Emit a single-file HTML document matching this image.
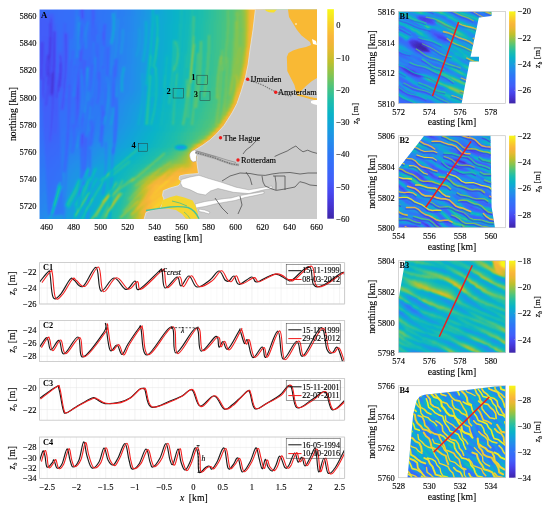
<!DOCTYPE html>
<html><head><meta charset="utf-8"><style>
html,body{margin:0;padding:0;background:#fff;}
svg{display:block;font-family:'Liberation Serif', 'DejaVu Serif', serif;}
text{stroke:#000;stroke-width:0.12px;}
text[font-weight=bold]{stroke:none;}
</style></head><body>
<svg width="550" height="508" viewBox="0 0 550 508">
<defs>
<filter id="par" x="0" y="0" width="1" height="1" color-interpolation-filters="sRGB">
<feComponentTransfer><feFuncR type="table" tableValues="0.243 0.259 0.275 0.278 0.282 0.271 0.259 0.237 0.216 0.196 0.176 0.157 0.137 0.108 0.079 0.059 0.039 0.079 0.119 0.207 0.294 0.411 0.528 0.640 0.753 0.832 0.911 0.956 0.980 0.980 0.977 0.969 0.976"/><feFuncG type="table" tableValues="0.149 0.177 0.205 0.243 0.282 0.327 0.372 0.398 0.424 0.451 0.479 0.518 0.557 0.596 0.635 0.670 0.706 0.726 0.745 0.757 0.769 0.769 0.769 0.761 0.753 0.741 0.729 0.709 0.725 0.782 0.843 0.910 0.973"/><feFuncB type="table" tableValues="0.659 0.742 0.824 0.883 0.941 0.961 0.980 0.980 0.980 0.971 0.960 0.941 0.922 0.892 0.863 0.824 0.784 0.729 0.673 0.588 0.502 0.409 0.315 0.246 0.176 0.186 0.197 0.227 0.225 0.187 0.156 0.132 0.086"/></feComponentTransfer></filter>
<filter id="parb" x="0" y="0" width="1" height="1" color-interpolation-filters="sRGB">
<feGaussianBlur stdDeviation="1.2"/>
<feComponentTransfer><feFuncR type="table" tableValues="0.243 0.259 0.275 0.278 0.282 0.271 0.259 0.237 0.216 0.196 0.176 0.157 0.137 0.108 0.079 0.059 0.039 0.079 0.119 0.207 0.294 0.411 0.528 0.640 0.753 0.832 0.911 0.956 0.980 0.980 0.977 0.969 0.976"/><feFuncG type="table" tableValues="0.149 0.177 0.205 0.243 0.282 0.327 0.372 0.398 0.424 0.451 0.479 0.518 0.557 0.596 0.635 0.670 0.706 0.726 0.745 0.757 0.769 0.769 0.769 0.761 0.753 0.741 0.729 0.709 0.725 0.782 0.843 0.910 0.973"/><feFuncB type="table" tableValues="0.659 0.742 0.824 0.883 0.941 0.961 0.980 0.980 0.980 0.971 0.960 0.941 0.922 0.892 0.863 0.824 0.784 0.729 0.673 0.588 0.502 0.409 0.315 0.246 0.176 0.186 0.197 0.227 0.225 0.187 0.156 0.132 0.086"/></feComponentTransfer></filter>
<clipPath id="clipA"><rect x="39.5" y="9.5" width="277.5" height="209.5"/></clipPath>
<linearGradient id="ga0" gradientUnits="userSpaceOnUse" x1="38" x2="320"><stop offset=".000" stop-color="#3d3d3d"/><stop offset=".202" stop-color="#474747"/><stop offset=".319" stop-color="#575757"/><stop offset=".447" stop-color="#787878"/><stop offset=".691" stop-color="#a2a2a2"/><stop offset=".723" stop-color="#adadad"/><stop offset=".734" stop-color="#b6b6b6"/><stop offset=".745" stop-color="#c6c6c6"/><stop offset=".755" stop-color="#dadada"/><stop offset=".766" stop-color="#e0e0e0"/><stop offset=".777" stop-color="#e0e0e0"/><stop offset=".787" stop-color="#d8d8d8"/><stop offset=".798" stop-color="#c5c5c5"/><stop offset=".809" stop-color="#b6b6b6"/><stop offset=".819" stop-color="#aeaeae"/><stop offset=".840" stop-color="#a9a9a9"/><stop offset="1.000" stop-color="#a9a9a9"/></linearGradient>
<linearGradient id="ga1" gradientUnits="userSpaceOnUse" x1="38" x2="320"><stop offset=".000" stop-color="#3d3d3d"/><stop offset=".202" stop-color="#474747"/><stop offset=".319" stop-color="#575757"/><stop offset=".447" stop-color="#787878"/><stop offset=".691" stop-color="#a2a2a2"/><stop offset=".723" stop-color="#adadad"/><stop offset=".734" stop-color="#b5b5b5"/><stop offset=".745" stop-color="#c6c6c6"/><stop offset=".755" stop-color="#dbdbdb"/><stop offset=".766" stop-color="#e0e0e0"/><stop offset=".777" stop-color="#e0e0e0"/><stop offset=".787" stop-color="#d3d3d3"/><stop offset=".798" stop-color="#bfbfbf"/><stop offset=".809" stop-color="#b2b2b2"/><stop offset=".819" stop-color="#acacac"/><stop offset=".862" stop-color="#a8a8a8"/><stop offset="1.000" stop-color="#a9a9a9"/></linearGradient>
<linearGradient id="ga2" gradientUnits="userSpaceOnUse" x1="38" x2="320"><stop offset=".000" stop-color="#3d3d3d"/><stop offset=".202" stop-color="#474747"/><stop offset=".319" stop-color="#585858"/><stop offset=".447" stop-color="#787878"/><stop offset=".691" stop-color="#a2a2a2"/><stop offset=".723" stop-color="#acacac"/><stop offset=".734" stop-color="#b5b5b5"/><stop offset=".745" stop-color="#c6c6c6"/><stop offset=".755" stop-color="#dddddd"/><stop offset=".766" stop-color="#e0e0e0"/><stop offset=".777" stop-color="#e0e0e0"/><stop offset=".798" stop-color="#bababa"/><stop offset=".809" stop-color="#afafaf"/><stop offset=".830" stop-color="#aaaaaa"/><stop offset="1.000" stop-color="#a9a9a9"/></linearGradient>
<linearGradient id="ga3" gradientUnits="userSpaceOnUse" x1="38" x2="320"><stop offset=".000" stop-color="#3c3c3c"/><stop offset=".202" stop-color="#464646"/><stop offset=".319" stop-color="#585858"/><stop offset=".447" stop-color="#787878"/><stop offset=".691" stop-color="#a3a3a3"/><stop offset=".723" stop-color="#acacac"/><stop offset=".734" stop-color="#b4b4b4"/><stop offset=".745" stop-color="#c6c6c6"/><stop offset=".755" stop-color="#dfdfdf"/><stop offset=".766" stop-color="#e0e0e0"/><stop offset=".777" stop-color="#dedede"/><stop offset=".787" stop-color="#c6c6c6"/><stop offset=".798" stop-color="#b5b5b5"/><stop offset=".809" stop-color="#adadad"/><stop offset=".840" stop-color="#a9a9a9"/><stop offset="1.000" stop-color="#a9a9a9"/></linearGradient>
<linearGradient id="ga4" gradientUnits="userSpaceOnUse" x1="38" x2="320"><stop offset=".000" stop-color="#3c3c3c"/><stop offset=".191" stop-color="#454545"/><stop offset=".319" stop-color="#585858"/><stop offset=".447" stop-color="#797979"/><stop offset=".691" stop-color="#a3a3a3"/><stop offset=".723" stop-color="#acacac"/><stop offset=".734" stop-color="#b4b4b4"/><stop offset=".745" stop-color="#c7c7c7"/><stop offset=".755" stop-color="#e0e0e0"/><stop offset=".766" stop-color="#e0e0e0"/><stop offset=".777" stop-color="#d9d9d9"/><stop offset=".787" stop-color="#bfbfbf"/><stop offset=".798" stop-color="#b1b1b1"/><stop offset=".809" stop-color="#acacac"/><stop offset=".883" stop-color="#a8a8a8"/><stop offset="1.000" stop-color="#a9a9a9"/></linearGradient>
<linearGradient id="ga5" gradientUnits="userSpaceOnUse" x1="38" x2="320"><stop offset=".000" stop-color="#3c3c3c"/><stop offset=".191" stop-color="#454545"/><stop offset=".319" stop-color="#585858"/><stop offset=".447" stop-color="#797979"/><stop offset=".691" stop-color="#a3a3a3"/><stop offset=".723" stop-color="#ababab"/><stop offset=".734" stop-color="#b3b3b3"/><stop offset=".745" stop-color="#c7c7c7"/><stop offset=".755" stop-color="#e0e0e0"/><stop offset=".766" stop-color="#e0e0e0"/><stop offset=".777" stop-color="#d1d1d1"/><stop offset=".787" stop-color="#b9b9b9"/><stop offset=".798" stop-color="#aeaeae"/><stop offset=".830" stop-color="#a9a9a9"/><stop offset="1.000" stop-color="#a9a9a9"/></linearGradient>
<linearGradient id="ga6" gradientUnits="userSpaceOnUse" x1="38" x2="320"><stop offset=".000" stop-color="#3c3c3c"/><stop offset=".191" stop-color="#444444"/><stop offset=".319" stop-color="#595959"/><stop offset=".447" stop-color="#797979"/><stop offset=".691" stop-color="#a3a3a3"/><stop offset=".723" stop-color="#acacac"/><stop offset=".734" stop-color="#b3b3b3"/><stop offset=".755" stop-color="#e0e0e0"/><stop offset=".766" stop-color="#e0e0e0"/><stop offset=".777" stop-color="#c7c7c7"/><stop offset=".787" stop-color="#b3b3b3"/><stop offset=".798" stop-color="#adadad"/><stop offset=".862" stop-color="#a8a8a8"/><stop offset="1.000" stop-color="#a9a9a9"/></linearGradient>
<linearGradient id="ga7" gradientUnits="userSpaceOnUse" x1="38" x2="320"><stop offset=".000" stop-color="#3b3b3b"/><stop offset=".191" stop-color="#444444"/><stop offset=".319" stop-color="#595959"/><stop offset=".447" stop-color="#797979"/><stop offset=".691" stop-color="#a3a3a3"/><stop offset=".723" stop-color="#acacac"/><stop offset=".734" stop-color="#b3b3b3"/><stop offset=".755" stop-color="#e0e0e0"/><stop offset=".766" stop-color="#dedede"/><stop offset=".777" stop-color="#bdbdbd"/><stop offset=".787" stop-color="#afafaf"/><stop offset=".819" stop-color="#a9a9a9"/><stop offset="1.000" stop-color="#a9a9a9"/></linearGradient>
<linearGradient id="ga8" gradientUnits="userSpaceOnUse" x1="38" x2="320"><stop offset=".000" stop-color="#3b3b3b"/><stop offset=".191" stop-color="#444444"/><stop offset=".319" stop-color="#595959"/><stop offset=".447" stop-color="#7a7a7a"/><stop offset=".691" stop-color="#a4a4a4"/><stop offset=".723" stop-color="#acacac"/><stop offset=".734" stop-color="#b3b3b3"/><stop offset=".745" stop-color="#cdcdcd"/><stop offset=".755" stop-color="#e0e0e0"/><stop offset=".766" stop-color="#d2d2d2"/><stop offset=".777" stop-color="#b5b5b5"/><stop offset=".787" stop-color="#aeaeae"/><stop offset=".840" stop-color="#a8a8a8"/><stop offset="1.000" stop-color="#a9a9a9"/></linearGradient>
<linearGradient id="ga9" gradientUnits="userSpaceOnUse" x1="38" x2="320"><stop offset=".000" stop-color="#3b3b3b"/><stop offset=".191" stop-color="#444444"/><stop offset=".319" stop-color="#595959"/><stop offset=".447" stop-color="#7a7a7a"/><stop offset=".691" stop-color="#a4a4a4"/><stop offset=".723" stop-color="#adadad"/><stop offset=".734" stop-color="#b3b3b3"/><stop offset=".745" stop-color="#d1d1d1"/><stop offset=".755" stop-color="#e0e0e0"/><stop offset=".766" stop-color="#c6c6c6"/><stop offset=".777" stop-color="#b1b1b1"/><stop offset=".798" stop-color="#ababab"/><stop offset=".894" stop-color="#a8a8a8"/><stop offset="1.000" stop-color="#a9a9a9"/></linearGradient>
<linearGradient id="ga10" gradientUnits="userSpaceOnUse" x1="38" x2="320"><stop offset=".000" stop-color="#3b3b3b"/><stop offset=".191" stop-color="#434343"/><stop offset=".319" stop-color="#5a5a5a"/><stop offset=".447" stop-color="#7a7a7a"/><stop offset=".691" stop-color="#a4a4a4"/><stop offset=".723" stop-color="#adadad"/><stop offset=".734" stop-color="#b6b6b6"/><stop offset=".745" stop-color="#dadada"/><stop offset=".755" stop-color="#e0e0e0"/><stop offset=".766" stop-color="#bfbfbf"/><stop offset=".777" stop-color="#b0b0b0"/><stop offset=".819" stop-color="#a9a9a9"/><stop offset="1.000" stop-color="#a9a9a9"/></linearGradient>
<linearGradient id="ga11" gradientUnits="userSpaceOnUse" x1="38" x2="320"><stop offset=".000" stop-color="#3b3b3b"/><stop offset=".191" stop-color="#434343"/><stop offset=".319" stop-color="#5a5a5a"/><stop offset=".447" stop-color="#7b7b7b"/><stop offset=".691" stop-color="#a4a4a4"/><stop offset=".723" stop-color="#aeaeae"/><stop offset=".734" stop-color="#bababa"/><stop offset=".745" stop-color="#e0e0e0"/><stop offset=".755" stop-color="#e0e0e0"/><stop offset=".766" stop-color="#bababa"/><stop offset=".777" stop-color="#afafaf"/><stop offset=".819" stop-color="#a9a9a9"/><stop offset="1.000" stop-color="#a9a9a9"/></linearGradient>
<linearGradient id="ga12" gradientUnits="userSpaceOnUse" x1="38" x2="320"><stop offset=".000" stop-color="#3b3b3b"/><stop offset=".191" stop-color="#444444"/><stop offset=".319" stop-color="#5a5a5a"/><stop offset=".447" stop-color="#7b7b7b"/><stop offset=".691" stop-color="#a4a4a4"/><stop offset=".723" stop-color="#afafaf"/><stop offset=".734" stop-color="#bfbfbf"/><stop offset=".745" stop-color="#e0e0e0"/><stop offset=".755" stop-color="#d9d9d9"/><stop offset=".766" stop-color="#b6b6b6"/><stop offset=".777" stop-color="#aeaeae"/><stop offset=".819" stop-color="#a9a9a9"/><stop offset="1.000" stop-color="#a9a9a9"/></linearGradient>
<linearGradient id="ga13" gradientUnits="userSpaceOnUse" x1="38" x2="320"><stop offset=".000" stop-color="#3b3b3b"/><stop offset=".191" stop-color="#444444"/><stop offset=".319" stop-color="#5a5a5a"/><stop offset=".447" stop-color="#7b7b7b"/><stop offset=".691" stop-color="#a5a5a5"/><stop offset=".723" stop-color="#b0b0b0"/><stop offset=".734" stop-color="#c5c5c5"/><stop offset=".745" stop-color="#e0e0e0"/><stop offset=".755" stop-color="#d1d1d1"/><stop offset=".766" stop-color="#b3b3b3"/><stop offset=".777" stop-color="#aeaeae"/><stop offset=".830" stop-color="#a8a8a8"/><stop offset="1.000" stop-color="#a9a9a9"/></linearGradient>
<linearGradient id="ga14" gradientUnits="userSpaceOnUse" x1="38" x2="320"><stop offset=".000" stop-color="#3b3b3b"/><stop offset=".191" stop-color="#444444"/><stop offset=".319" stop-color="#5b5b5b"/><stop offset=".447" stop-color="#7b7b7b"/><stop offset=".681" stop-color="#a3a3a3"/><stop offset=".713" stop-color="#acacac"/><stop offset=".723" stop-color="#b2b2b2"/><stop offset=".734" stop-color="#cecece"/><stop offset=".745" stop-color="#e0e0e0"/><stop offset=".766" stop-color="#b2b2b2"/><stop offset=".787" stop-color="#ababab"/><stop offset=".872" stop-color="#a7a7a7"/><stop offset="1.000" stop-color="#a9a9a9"/></linearGradient>
<linearGradient id="ga15" gradientUnits="userSpaceOnUse" x1="38" x2="320"><stop offset=".000" stop-color="#3b3b3b"/><stop offset=".191" stop-color="#444444"/><stop offset=".319" stop-color="#5b5b5b"/><stop offset=".447" stop-color="#7c7c7c"/><stop offset=".681" stop-color="#a3a3a3"/><stop offset=".713" stop-color="#adadad"/><stop offset=".723" stop-color="#b6b6b6"/><stop offset=".734" stop-color="#dbdbdb"/><stop offset=".745" stop-color="#e0e0e0"/><stop offset=".755" stop-color="#bebebe"/><stop offset=".766" stop-color="#b0b0b0"/><stop offset=".809" stop-color="#a9a9a9"/><stop offset="1.000" stop-color="#a9a9a9"/></linearGradient>
<linearGradient id="ga16" gradientUnits="userSpaceOnUse" x1="38" x2="320"><stop offset=".000" stop-color="#3b3b3b"/><stop offset=".191" stop-color="#444444"/><stop offset=".319" stop-color="#5b5b5b"/><stop offset=".447" stop-color="#7c7c7c"/><stop offset=".681" stop-color="#a3a3a3"/><stop offset=".713" stop-color="#aeaeae"/><stop offset=".723" stop-color="#bdbdbd"/><stop offset=".734" stop-color="#e0e0e0"/><stop offset=".745" stop-color="#dddddd"/><stop offset=".755" stop-color="#b8b8b8"/><stop offset=".766" stop-color="#aeaeae"/><stop offset=".809" stop-color="#a8a8a8"/><stop offset="1.000" stop-color="#a9a9a9"/></linearGradient>
<linearGradient id="ga17" gradientUnits="userSpaceOnUse" x1="38" x2="320"><stop offset=".000" stop-color="#3b3b3b"/><stop offset=".191" stop-color="#444444"/><stop offset=".319" stop-color="#5b5b5b"/><stop offset=".447" stop-color="#7c7c7c"/><stop offset=".681" stop-color="#a4a4a4"/><stop offset=".702" stop-color="#aaaaaa"/><stop offset=".713" stop-color="#b1b1b1"/><stop offset=".734" stop-color="#e0e0e0"/><stop offset=".745" stop-color="#d0d0d0"/><stop offset=".755" stop-color="#b3b3b3"/><stop offset=".766" stop-color="#adadad"/><stop offset=".819" stop-color="#a8a8a8"/><stop offset="1.000" stop-color="#a8a8a8"/></linearGradient>
<linearGradient id="ga18" gradientUnits="userSpaceOnUse" x1="38" x2="320"><stop offset=".000" stop-color="#3b3b3b"/><stop offset=".191" stop-color="#444444"/><stop offset=".319" stop-color="#5c5c5c"/><stop offset=".447" stop-color="#7c7c7c"/><stop offset=".670" stop-color="#a2a2a2"/><stop offset=".702" stop-color="#acacac"/><stop offset=".713" stop-color="#b6b6b6"/><stop offset=".723" stop-color="#dadada"/><stop offset=".734" stop-color="#e0e0e0"/><stop offset=".745" stop-color="#c0c0c0"/><stop offset=".755" stop-color="#b0b0b0"/><stop offset=".787" stop-color="#a9a9a9"/><stop offset=".936" stop-color="#a8a8a8"/><stop offset="1.000" stop-color="#a8a8a8"/></linearGradient>
<linearGradient id="ga19" gradientUnits="userSpaceOnUse" x1="38" x2="320"><stop offset=".000" stop-color="#3b3b3b"/><stop offset=".191" stop-color="#444444"/><stop offset=".330" stop-color="#5f5f5f"/><stop offset=".447" stop-color="#7d7d7d"/><stop offset=".670" stop-color="#a2a2a2"/><stop offset=".702" stop-color="#aeaeae"/><stop offset=".713" stop-color="#c1c1c1"/><stop offset=".723" stop-color="#e0e0e0"/><stop offset=".734" stop-color="#d8d8d8"/><stop offset=".745" stop-color="#b6b6b6"/><stop offset=".755" stop-color="#aeaeae"/><stop offset=".798" stop-color="#a8a8a8"/><stop offset="1.000" stop-color="#a8a8a8"/></linearGradient>
<linearGradient id="ga20" gradientUnits="userSpaceOnUse" x1="38" x2="320"><stop offset=".000" stop-color="#3b3b3b"/><stop offset=".191" stop-color="#444444"/><stop offset=".330" stop-color="#5f5f5f"/><stop offset=".447" stop-color="#7d7d7d"/><stop offset=".670" stop-color="#a3a3a3"/><stop offset=".691" stop-color="#aaaaaa"/><stop offset=".702" stop-color="#b2b2b2"/><stop offset=".713" stop-color="#d1d1d1"/><stop offset=".723" stop-color="#e0e0e0"/><stop offset=".734" stop-color="#c7c7c7"/><stop offset=".745" stop-color="#b1b1b1"/><stop offset=".766" stop-color="#ababab"/><stop offset=".862" stop-color="#a7a7a7"/><stop offset="1.000" stop-color="#a8a8a8"/></linearGradient>
<linearGradient id="ga21" gradientUnits="userSpaceOnUse" x1="38" x2="320"><stop offset=".000" stop-color="#3b3b3b"/><stop offset=".191" stop-color="#454545"/><stop offset=".330" stop-color="#616161"/><stop offset=".447" stop-color="#7e7e7e"/><stop offset=".660" stop-color="#a1a1a1"/><stop offset=".691" stop-color="#acacac"/><stop offset=".702" stop-color="#bbbbbb"/><stop offset=".713" stop-color="#e0e0e0"/><stop offset=".723" stop-color="#e0e0e0"/><stop offset=".734" stop-color="#bababa"/><stop offset=".745" stop-color="#afafaf"/><stop offset=".787" stop-color="#a8a8a8"/><stop offset="1.000" stop-color="#a8a8a8"/></linearGradient>
<linearGradient id="ga22" gradientUnits="userSpaceOnUse" x1="38" x2="320"><stop offset=".000" stop-color="#3c3c3c"/><stop offset=".191" stop-color="#464646"/><stop offset=".340" stop-color="#656565"/><stop offset=".447" stop-color="#7f7f7f"/><stop offset=".660" stop-color="#a2a2a2"/><stop offset=".681" stop-color="#a8a8a8"/><stop offset=".691" stop-color="#afafaf"/><stop offset=".702" stop-color="#cccccc"/><stop offset=".713" stop-color="#e0e0e0"/><stop offset=".723" stop-color="#cbcbcb"/><stop offset=".734" stop-color="#b2b2b2"/><stop offset=".755" stop-color="#ababab"/><stop offset=".840" stop-color="#a7a7a7"/><stop offset="1.000" stop-color="#a8a8a8"/></linearGradient>
<linearGradient id="ga23" gradientUnits="userSpaceOnUse" x1="38" x2="320"><stop offset=".000" stop-color="#3c3c3c"/><stop offset=".191" stop-color="#484848"/><stop offset=".351" stop-color="#696969"/><stop offset=".457" stop-color="#818181"/><stop offset=".660" stop-color="#a3a3a3"/><stop offset=".681" stop-color="#ababab"/><stop offset=".691" stop-color="#b8b8b8"/><stop offset=".702" stop-color="#e0e0e0"/><stop offset=".713" stop-color="#e0e0e0"/><stop offset=".723" stop-color="#bbbbbb"/><stop offset=".734" stop-color="#afafaf"/><stop offset=".777" stop-color="#a8a8a8"/><stop offset="1.000" stop-color="#a8a8a8"/></linearGradient>
<linearGradient id="ga24" gradientUnits="userSpaceOnUse" x1="38" x2="320"><stop offset=".000" stop-color="#3d3d3d"/><stop offset=".191" stop-color="#494949"/><stop offset=".372" stop-color="#707070"/><stop offset=".457" stop-color="#828282"/><stop offset=".649" stop-color="#a2a2a2"/><stop offset=".670" stop-color="#a8a8a8"/><stop offset=".681" stop-color="#b1b1b1"/><stop offset=".691" stop-color="#d0d0d0"/><stop offset=".702" stop-color="#e0e0e0"/><stop offset=".723" stop-color="#b3b3b3"/><stop offset=".734" stop-color="#adadad"/><stop offset=".787" stop-color="#a7a7a7"/><stop offset="1.000" stop-color="#a8a8a8"/></linearGradient>
<linearGradient id="ga25" gradientUnits="userSpaceOnUse" x1="38" x2="320"><stop offset=".000" stop-color="#3d3d3d"/><stop offset=".191" stop-color="#4a4a4a"/><stop offset=".457" stop-color="#838383"/><stop offset=".649" stop-color="#a3a3a3"/><stop offset=".670" stop-color="#adadad"/><stop offset=".681" stop-color="#c3c3c3"/><stop offset=".691" stop-color="#e0e0e0"/><stop offset=".702" stop-color="#d6d6d6"/><stop offset=".713" stop-color="#b6b6b6"/><stop offset=".723" stop-color="#aeaeae"/><stop offset=".777" stop-color="#a8a8a8"/><stop offset="1.000" stop-color="#a8a8a8"/></linearGradient>
<linearGradient id="ga26" gradientUnits="userSpaceOnUse" x1="38" x2="320"><stop offset=".000" stop-color="#3e3e3e"/><stop offset=".191" stop-color="#4b4b4b"/><stop offset=".457" stop-color="#848484"/><stop offset=".638" stop-color="#a2a2a2"/><stop offset=".660" stop-color="#aaaaaa"/><stop offset=".670" stop-color="#bcbcbc"/><stop offset=".681" stop-color="#e0e0e0"/><stop offset=".691" stop-color="#e0e0e0"/><stop offset=".702" stop-color="#bcbcbc"/><stop offset=".713" stop-color="#afafaf"/><stop offset=".755" stop-color="#a8a8a8"/><stop offset=".957" stop-color="#a8a8a8"/><stop offset="1.000" stop-color="#a8a8a8"/></linearGradient>
<linearGradient id="ga27" gradientUnits="userSpaceOnUse" x1="38" x2="320"><stop offset=".000" stop-color="#3e3e3e"/><stop offset=".191" stop-color="#4d4d4d"/><stop offset=".457" stop-color="#848484"/><stop offset=".628" stop-color="#a1a1a1"/><stop offset=".649" stop-color="#a9a9a9"/><stop offset=".660" stop-color="#b7b7b7"/><stop offset=".670" stop-color="#dcdcdc"/><stop offset=".681" stop-color="#e0e0e0"/><stop offset=".691" stop-color="#c0c0c0"/><stop offset=".702" stop-color="#afafaf"/><stop offset=".745" stop-color="#a8a8a8"/><stop offset=".936" stop-color="#a7a7a7"/><stop offset="1.000" stop-color="#a8a8a8"/></linearGradient>
<linearGradient id="ga28" gradientUnits="userSpaceOnUse" x1="38" x2="320"><stop offset=".000" stop-color="#3f3f3f"/><stop offset=".191" stop-color="#4e4e4e"/><stop offset=".457" stop-color="#858585"/><stop offset=".628" stop-color="#a3a3a3"/><stop offset=".638" stop-color="#a7a7a7"/><stop offset=".649" stop-color="#b3b3b3"/><stop offset=".660" stop-color="#d6d6d6"/><stop offset=".670" stop-color="#e0e0e0"/><stop offset=".681" stop-color="#c4c4c4"/><stop offset=".691" stop-color="#b0b0b0"/><stop offset=".713" stop-color="#aaaaaa"/><stop offset=".809" stop-color="#a6a6a6"/><stop offset="1.000" stop-color="#a8a8a8"/></linearGradient>
<linearGradient id="ga29" gradientUnits="userSpaceOnUse" x1="38" x2="320"><stop offset=".000" stop-color="#3f3f3f"/><stop offset=".191" stop-color="#4f4f4f"/><stop offset=".426" stop-color="#818181"/><stop offset=".606" stop-color="#a0a0a0"/><stop offset=".628" stop-color="#a8a8a8"/><stop offset=".638" stop-color="#b5b5b5"/><stop offset=".649" stop-color="#d5d5d5"/><stop offset=".660" stop-color="#e0e0e0"/><stop offset=".681" stop-color="#b0b0b0"/><stop offset=".691" stop-color="#ababab"/><stop offset=".787" stop-color="#a6a6a6"/><stop offset="1.000" stop-color="#a8a8a8"/></linearGradient>
<linearGradient id="ga30" gradientUnits="userSpaceOnUse" x1="38" x2="320"><stop offset=".000" stop-color="#404040"/><stop offset=".191" stop-color="#515151"/><stop offset=".362" stop-color="#757575"/><stop offset=".596" stop-color="#a0a0a0"/><stop offset=".617" stop-color="#a8a8a8"/><stop offset=".628" stop-color="#b9b9b9"/><stop offset=".638" stop-color="#dbdbdb"/><stop offset=".649" stop-color="#e0e0e0"/><stop offset=".660" stop-color="#c5c5c5"/><stop offset=".670" stop-color="#b0b0b0"/><stop offset=".681" stop-color="#ababab"/><stop offset=".787" stop-color="#a6a6a6"/><stop offset="1.000" stop-color="#a8a8a8"/></linearGradient>
<linearGradient id="ga31" gradientUnits="userSpaceOnUse" x1="38" x2="320"><stop offset=".000" stop-color="#414141"/><stop offset=".191" stop-color="#535353"/><stop offset=".372" stop-color="#797979"/><stop offset=".585" stop-color="#a1a1a1"/><stop offset=".596" stop-color="#a4a4a4"/><stop offset=".606" stop-color="#acacac"/><stop offset=".617" stop-color="#c1c1c1"/><stop offset=".628" stop-color="#e0e0e0"/><stop offset=".638" stop-color="#dfdfdf"/><stop offset=".649" stop-color="#bebebe"/><stop offset=".660" stop-color="#adadad"/><stop offset=".681" stop-color="#a8a8a8"/><stop offset=".883" stop-color="#a7a7a7"/><stop offset="1.000" stop-color="#a8a8a8"/></linearGradient>
<linearGradient id="ga32" gradientUnits="userSpaceOnUse" x1="38" x2="320"><stop offset=".000" stop-color="#424242"/><stop offset=".191" stop-color="#565656"/><stop offset=".372" stop-color="#7a7a7a"/><stop offset=".553" stop-color="#9c9c9c"/><stop offset=".585" stop-color="#a7a7a7"/><stop offset=".596" stop-color="#b4b4b4"/><stop offset=".606" stop-color="#cfcfcf"/><stop offset=".617" stop-color="#e0e0e0"/><stop offset=".628" stop-color="#d2d2d2"/><stop offset=".638" stop-color="#b7b7b7"/><stop offset=".649" stop-color="#ababab"/><stop offset=".681" stop-color="#a6a6a6"/><stop offset="1.000" stop-color="#a8a8a8"/></linearGradient>
<linearGradient id="ga33" gradientUnits="userSpaceOnUse" x1="38" x2="320"><stop offset=".000" stop-color="#444444"/><stop offset=".191" stop-color="#585858"/><stop offset=".383" stop-color="#7e7e7e"/><stop offset=".521" stop-color="#979797"/><stop offset=".553" stop-color="#a1a1a1"/><stop offset=".564" stop-color="#a6a6a6"/><stop offset=".574" stop-color="#b1b1b1"/><stop offset=".596" stop-color="#e0e0e0"/><stop offset=".606" stop-color="#dedede"/><stop offset=".617" stop-color="#c3c3c3"/><stop offset=".628" stop-color="#afafaf"/><stop offset=".638" stop-color="#a8a8a8"/><stop offset=".691" stop-color="#a5a5a5"/><stop offset="1.000" stop-color="#a8a8a8"/></linearGradient>
<linearGradient id="ga34" gradientUnits="userSpaceOnUse" x1="38" x2="320"><stop offset=".000" stop-color="#454545"/><stop offset=".202" stop-color="#5d5d5d"/><stop offset=".436" stop-color="#898989"/><stop offset=".521" stop-color="#9b9b9b"/><stop offset=".543" stop-color="#a5a5a5"/><stop offset=".553" stop-color="#b6b6b6"/><stop offset=".574" stop-color="#e0e0e0"/><stop offset=".585" stop-color="#e0e0e0"/><stop offset=".606" stop-color="#b3b3b3"/><stop offset=".617" stop-color="#ababab"/><stop offset=".660" stop-color="#a6a6a6"/><stop offset="1.000" stop-color="#a8a8a8"/></linearGradient>
<linearGradient id="ga35" gradientUnits="userSpaceOnUse" x1="38" x2="320"><stop offset=".000" stop-color="#464646"/><stop offset=".202" stop-color="#606060"/><stop offset=".479" stop-color="#969696"/><stop offset=".532" stop-color="#a9a9a9"/><stop offset=".543" stop-color="#b7b7b7"/><stop offset=".553" stop-color="#dadada"/><stop offset=".564" stop-color="#dbdbdb"/><stop offset=".574" stop-color="#c8c8c8"/><stop offset=".585" stop-color="#b8b8b8"/><stop offset=".596" stop-color="#b1b1b1"/><stop offset=".638" stop-color="#ababab"/><stop offset=".830" stop-color="#a6a6a6"/><stop offset="1.000" stop-color="#a9a9a9"/></linearGradient>
<linearGradient id="ga36" gradientUnits="userSpaceOnUse" x1="38" x2="320"><stop offset=".000" stop-color="#474747"/><stop offset=".202" stop-color="#626262"/><stop offset=".457" stop-color="#959595"/><stop offset=".511" stop-color="#a7a7a7"/><stop offset=".521" stop-color="#adadad"/><stop offset=".532" stop-color="#b5b5b5"/><stop offset=".543" stop-color="#d1d1d1"/><stop offset=".553" stop-color="#e0e0e0"/><stop offset=".564" stop-color="#c8c8c8"/><stop offset=".574" stop-color="#b7b7b7"/><stop offset=".596" stop-color="#b2b2b2"/><stop offset=".713" stop-color="#a9a9a9"/><stop offset=".894" stop-color="#a7a7a7"/><stop offset="1.000" stop-color="#a9a9a9"/></linearGradient>
<linearGradient id="ga37" gradientUnits="userSpaceOnUse" x1="38" x2="320"><stop offset=".000" stop-color="#494949"/><stop offset=".213" stop-color="#676767"/><stop offset=".415" stop-color="#909090"/><stop offset=".489" stop-color="#a4a4a4"/><stop offset=".532" stop-color="#bababa"/><stop offset=".553" stop-color="#e0e0e0"/><stop offset=".564" stop-color="#d5d5d5"/><stop offset=".574" stop-color="#c0c0c0"/><stop offset=".596" stop-color="#b7b7b7"/><stop offset=".638" stop-color="#afafaf"/><stop offset=".755" stop-color="#a8a8a8"/><stop offset="1.000" stop-color="#a9a9a9"/></linearGradient>
<linearGradient id="ga38" gradientUnits="userSpaceOnUse" x1="38" x2="320"><stop offset=".000" stop-color="#4a4a4a"/><stop offset=".223" stop-color="#6c6c6c"/><stop offset=".404" stop-color="#919191"/><stop offset=".489" stop-color="#aeaeae"/><stop offset=".511" stop-color="#b3b3b3"/><stop offset=".532" stop-color="#bebebe"/><stop offset=".543" stop-color="#c7c7c7"/><stop offset=".553" stop-color="#dfdfdf"/><stop offset=".564" stop-color="#e0e0e0"/><stop offset=".574" stop-color="#cecece"/><stop offset=".585" stop-color="#c4c4c4"/><stop offset=".638" stop-color="#b0b0b0"/><stop offset=".713" stop-color="#a9a9a9"/><stop offset=".904" stop-color="#a8a8a8"/><stop offset="1.000" stop-color="#a9a9a9"/></linearGradient>
<linearGradient id="ga39" gradientUnits="userSpaceOnUse" x1="38" x2="320"><stop offset=".000" stop-color="#4b4b4b"/><stop offset=".234" stop-color="#717171"/><stop offset=".372" stop-color="#8f8f8f"/><stop offset=".426" stop-color="#9f9f9f"/><stop offset=".489" stop-color="#bbbbbb"/><stop offset=".532" stop-color="#c4c4c4"/><stop offset=".543" stop-color="#cbcbcb"/><stop offset=".553" stop-color="#dedede"/><stop offset=".564" stop-color="#e0e0e0"/><stop offset=".574" stop-color="#d8d8d8"/><stop offset=".585" stop-color="#cccccc"/><stop offset=".649" stop-color="#b1b1b1"/><stop offset=".681" stop-color="#ababab"/><stop offset=".862" stop-color="#a7a7a7"/><stop offset="1.000" stop-color="#a9a9a9"/></linearGradient>
<linearGradient id="ga40" gradientUnits="userSpaceOnUse" x1="38" x2="320"><stop offset=".000" stop-color="#4d4d4d"/><stop offset=".255" stop-color="#777777"/><stop offset=".351" stop-color="#8e8e8e"/><stop offset=".436" stop-color="#ababab"/><stop offset=".489" stop-color="#c9c9c9"/><stop offset=".532" stop-color="#d6d6d6"/><stop offset=".543" stop-color="#dedede"/><stop offset=".574" stop-color="#e0e0e0"/><stop offset=".585" stop-color="#d4d4d4"/><stop offset=".649" stop-color="#b5b5b5"/><stop offset=".691" stop-color="#ababab"/><stop offset=".851" stop-color="#a8a8a8"/><stop offset="1.000" stop-color="#a9a9a9"/></linearGradient>
<linearGradient id="ga41" gradientUnits="userSpaceOnUse" x1="38" x2="320"><stop offset=".000" stop-color="#4e4e4e"/><stop offset=".234" stop-color="#757575"/><stop offset=".330" stop-color="#8b8b8b"/><stop offset=".383" stop-color="#a1a1a1"/><stop offset=".436" stop-color="#b9b9b9"/><stop offset=".457" stop-color="#c2c2c2"/><stop offset=".500" stop-color="#e0e0e0"/><stop offset=".574" stop-color="#dfdfdf"/><stop offset=".649" stop-color="#b9b9b9"/><stop offset=".691" stop-color="#adadad"/><stop offset=".787" stop-color="#a9a9a9"/><stop offset="1.000" stop-color="#aaaaaa"/></linearGradient>
<linearGradient id="ga42" gradientUnits="userSpaceOnUse" x1="38" x2="320"><stop offset=".000" stop-color="#4f4f4f"/><stop offset=".223" stop-color="#747474"/><stop offset=".309" stop-color="#888888"/><stop offset=".351" stop-color="#999999"/><stop offset=".426" stop-color="#c4c4c4"/><stop offset=".468" stop-color="#d4d4d4"/><stop offset=".479" stop-color="#dcdcdc"/><stop offset=".489" stop-color="#e0e0e0"/><stop offset=".574" stop-color="#e0e0e0"/><stop offset=".606" stop-color="#d2d2d2"/><stop offset=".649" stop-color="#bbbbbb"/><stop offset=".681" stop-color="#b1b1b1"/><stop offset=".755" stop-color="#ababab"/><stop offset="1.000" stop-color="#ababab"/></linearGradient>
<linearGradient id="ga43" gradientUnits="userSpaceOnUse" x1="38" x2="320"><stop offset=".000" stop-color="#505050"/><stop offset=".223" stop-color="#767676"/><stop offset=".309" stop-color="#8b8b8b"/><stop offset=".340" stop-color="#999999"/><stop offset=".383" stop-color="#b6b6b6"/><stop offset=".426" stop-color="#d5d5d5"/><stop offset=".457" stop-color="#e0e0e0"/><stop offset=".574" stop-color="#dfdfdf"/><stop offset=".617" stop-color="#cdcdcd"/><stop offset=".660" stop-color="#b9b9b9"/><stop offset=".702" stop-color="#b0b0b0"/><stop offset=".830" stop-color="#ababab"/><stop offset="1.000" stop-color="#ababab"/></linearGradient>
<linearGradient id="ga44" gradientUnits="userSpaceOnUse" x1="38" x2="320"><stop offset=".000" stop-color="#515151"/><stop offset=".213" stop-color="#757575"/><stop offset=".298" stop-color="#8a8a8a"/><stop offset=".330" stop-color="#979797"/><stop offset=".362" stop-color="#acacac"/><stop offset=".415" stop-color="#dddddd"/><stop offset=".426" stop-color="#e0e0e0"/><stop offset=".553" stop-color="#e0e0e0"/><stop offset=".596" stop-color="#d3d3d3"/><stop offset=".660" stop-color="#b9b9b9"/><stop offset=".702" stop-color="#b1b1b1"/><stop offset=".840" stop-color="#acacac"/><stop offset="1.000" stop-color="#acacac"/></linearGradient>
<linearGradient id="ga45" gradientUnits="userSpaceOnUse" x1="38" x2="320"><stop offset=".000" stop-color="#525252"/><stop offset=".213" stop-color="#767676"/><stop offset=".298" stop-color="#8b8b8b"/><stop offset=".330" stop-color="#999999"/><stop offset=".362" stop-color="#afafaf"/><stop offset=".404" stop-color="#d8d8d8"/><stop offset=".415" stop-color="#e0e0e0"/><stop offset=".532" stop-color="#e0e0e0"/><stop offset=".543" stop-color="#dedede"/><stop offset=".553" stop-color="#d8d8d8"/><stop offset=".617" stop-color="#c4c4c4"/><stop offset=".670" stop-color="#b5b5b5"/><stop offset=".755" stop-color="#aeaeae"/><stop offset="1.000" stop-color="#adadad"/></linearGradient>
<linearGradient id="ga46" gradientUnits="userSpaceOnUse" x1="38" x2="320"><stop offset=".000" stop-color="#535353"/><stop offset=".202" stop-color="#757575"/><stop offset=".287" stop-color="#8a8a8a"/><stop offset=".330" stop-color="#9c9c9c"/><stop offset=".362" stop-color="#b3b3b3"/><stop offset=".404" stop-color="#dcdcdc"/><stop offset=".415" stop-color="#e0e0e0"/><stop offset=".532" stop-color="#e0e0e0"/><stop offset=".564" stop-color="#cecece"/><stop offset=".660" stop-color="#b6b6b6"/><stop offset=".745" stop-color="#b0b0b0"/><stop offset="1.000" stop-color="#aeaeae"/></linearGradient>
<linearGradient id="ga47" gradientUnits="userSpaceOnUse" x1="38" x2="320"><stop offset=".000" stop-color="#545454"/><stop offset=".202" stop-color="#767676"/><stop offset=".287" stop-color="#8b8b8b"/><stop offset=".330" stop-color="#9e9e9e"/><stop offset=".362" stop-color="#b6b6b6"/><stop offset=".404" stop-color="#e0e0e0"/><stop offset=".511" stop-color="#e0e0e0"/><stop offset=".543" stop-color="#d5d5d5"/><stop offset=".585" stop-color="#c2c2c2"/><stop offset=".670" stop-color="#b5b5b5"/><stop offset=".840" stop-color="#afafaf"/><stop offset="1.000" stop-color="#afafaf"/></linearGradient>
<linearGradient id="ga48" gradientUnits="userSpaceOnUse" x1="38" x2="320"><stop offset=".000" stop-color="#555555"/><stop offset=".202" stop-color="#787878"/><stop offset=".287" stop-color="#8d8d8d"/><stop offset=".319" stop-color="#9a9a9a"/><stop offset=".351" stop-color="#b1b1b1"/><stop offset=".394" stop-color="#dadada"/><stop offset=".404" stop-color="#e0e0e0"/><stop offset=".479" stop-color="#e0e0e0"/><stop offset=".511" stop-color="#d7d7d7"/><stop offset=".553" stop-color="#cbcbcb"/><stop offset=".596" stop-color="#bdbdbd"/><stop offset=".702" stop-color="#b3b3b3"/><stop offset=".989" stop-color="#afafaf"/><stop offset="1.000" stop-color="#afafaf"/></linearGradient>
<linearGradient id="ga49" gradientUnits="userSpaceOnUse" x1="38" x2="320"><stop offset=".000" stop-color="#565656"/><stop offset=".202" stop-color="#797979"/><stop offset=".287" stop-color="#8e8e8e"/><stop offset=".319" stop-color="#9c9c9c"/><stop offset=".351" stop-color="#b3b3b3"/><stop offset=".394" stop-color="#dddddd"/><stop offset=".415" stop-color="#e0e0e0"/><stop offset=".479" stop-color="#e0e0e0"/><stop offset=".489" stop-color="#dcdcdc"/><stop offset=".511" stop-color="#cecece"/><stop offset=".617" stop-color="#b8b8b8"/><stop offset=".809" stop-color="#b1b1b1"/><stop offset="1.000" stop-color="#b0b0b0"/></linearGradient>
<linearGradient id="ga50" gradientUnits="userSpaceOnUse" x1="38" x2="320"><stop offset=".000" stop-color="#575757"/><stop offset=".202" stop-color="#7a7a7a"/><stop offset=".287" stop-color="#909090"/><stop offset=".319" stop-color="#9e9e9e"/><stop offset=".351" stop-color="#b6b6b6"/><stop offset=".394" stop-color="#e0e0e0"/><stop offset=".479" stop-color="#e0e0e0"/><stop offset=".500" stop-color="#d4d4d4"/><stop offset=".521" stop-color="#c7c7c7"/><stop offset=".628" stop-color="#b7b7b7"/><stop offset=".926" stop-color="#b1b1b1"/><stop offset="1.000" stop-color="#b1b1b1"/></linearGradient>
<linearGradient id="ga51" gradientUnits="userSpaceOnUse" x1="38" x2="320"><stop offset=".000" stop-color="#595959"/><stop offset=".202" stop-color="#7b7b7b"/><stop offset=".287" stop-color="#919191"/><stop offset=".319" stop-color="#a0a0a0"/><stop offset=".351" stop-color="#b9b9b9"/><stop offset=".383" stop-color="#d9d9d9"/><stop offset=".394" stop-color="#e0e0e0"/><stop offset=".479" stop-color="#e0e0e0"/><stop offset=".489" stop-color="#dcdcdc"/><stop offset=".521" stop-color="#c8c8c8"/><stop offset=".543" stop-color="#c0c0c0"/><stop offset=".660" stop-color="#b6b6b6"/><stop offset="1.000" stop-color="#b2b2b2"/></linearGradient>
<linearGradient id="ga52" gradientUnits="userSpaceOnUse" x1="38" x2="320"><stop offset=".000" stop-color="#5a5a5a"/><stop offset=".202" stop-color="#7c7c7c"/><stop offset=".287" stop-color="#939393"/><stop offset=".319" stop-color="#a2a2a2"/><stop offset=".351" stop-color="#bcbcbc"/><stop offset=".383" stop-color="#dcdcdc"/><stop offset=".394" stop-color="#e0e0e0"/><stop offset=".479" stop-color="#e0e0e0"/><stop offset=".489" stop-color="#dcdcdc"/><stop offset=".521" stop-color="#c9c9c9"/><stop offset=".553" stop-color="#bebebe"/><stop offset=".681" stop-color="#b7b7b7"/><stop offset="1.000" stop-color="#b3b3b3"/></linearGradient>
<linearGradient id="ga53" gradientUnits="userSpaceOnUse" x1="38" x2="320"><stop offset=".000" stop-color="#5a5a5a"/><stop offset=".202" stop-color="#7c7c7c"/><stop offset=".277" stop-color="#8f8f8f"/><stop offset=".309" stop-color="#9d9d9d"/><stop offset=".340" stop-color="#b3b3b3"/><stop offset=".383" stop-color="#dedede"/><stop offset=".404" stop-color="#e0e0e0"/><stop offset=".479" stop-color="#e0e0e0"/><stop offset=".521" stop-color="#c8c8c8"/><stop offset=".553" stop-color="#bebebe"/><stop offset=".649" stop-color="#b7b7b7"/><stop offset="1.000" stop-color="#b3b3b3"/></linearGradient>
<linearGradient id="cbA" x1="0" y1="1" x2="0" y2="0"><stop offset="0" stop-color="#000"/><stop offset="1" stop-color="#fff"/></linearGradient>
<clipPath id="clipB0"><polygon points="398.4,11.4 480.2,11.4 470.0,59.5 461.6,103.4 398.4,103.4"/><polygon points="480.0,11.4 491.6,11.4 491.6,15.9 479.0,17.5"/><polygon points="470.0,56.8 479.0,56.8 479.0,61.4 469.5,61.4"/></clipPath>
<linearGradient id="bb0" x1="0" y1="0" x2="1" y2="0"><stop offset="0.00" stop-color="#282828"/><stop offset="0.30" stop-color="#333333"/><stop offset="0.42" stop-color="#4c4c4c"/><stop offset="0.52" stop-color="#7f7f7f"/><stop offset="1.00" stop-color="#999999"/></linearGradient>
<linearGradient id="sw0" gradientUnits="userSpaceOnUse" spreadMethod="repeat" x1="0" y1="0" x2="-3.80" y2="8.16"><stop offset="0.00" stop-color="#262626"/><stop offset="0.50" stop-color="#6b6b6b"/><stop offset="0.66" stop-color="#9e9e9e"/><stop offset="0.76" stop-color="#e5e5e5"/><stop offset="0.88" stop-color="#d8d8d8"/><stop offset="0.94" stop-color="#727272"/><stop offset="1.00" stop-color="#262626"/></linearGradient>
<linearGradient id="sx0" gradientUnits="userSpaceOnUse" spreadMethod="repeat" x1="0" y1="0" x2="-5.24" y2="8.72"><stop offset="0.00" stop-color="#262626"/><stop offset="0.50" stop-color="#6b6b6b"/><stop offset="0.66" stop-color="#9e9e9e"/><stop offset="0.76" stop-color="#e5e5e5"/><stop offset="0.88" stop-color="#d8d8d8"/><stop offset="0.94" stop-color="#727272"/><stop offset="1.00" stop-color="#262626"/></linearGradient>
<filter id="pb0" x="397.4" y="10.4" width="109.2" height="94.0" filterUnits="userSpaceOnUse" color-interpolation-filters="sRGB"><feTurbulence type="fractalNoise" baseFrequency="0.025" numOctaves="1" seed="3" result="n"/><feDisplacementMap in="SourceGraphic" in2="n" scale="20" xChannelSelector="R" yChannelSelector="G" result="d"/><feGaussianBlur in="d" stdDeviation="1.00" result="db"/><feTurbulence type="fractalNoise" baseFrequency="0.02 0.04" numOctaves="2" seed="23" result="m"/><feColorMatrix in="m" type="matrix" values="1 0 0 0 0  1 0 0 0 0  1 0 0 0 0  0 0 0 0 1" result="mg"/><feComposite in="db" in2="mg" operator="arithmetic" k2="1" k3="0.50" k4="-0.250"/><feComponentTransfer><feFuncR type="table" tableValues="0.243 0.259 0.275 0.278 0.282 0.271 0.259 0.237 0.216 0.196 0.176 0.157 0.137 0.108 0.079 0.059 0.039 0.079 0.119 0.207 0.294 0.411 0.528 0.640 0.753 0.832 0.911 0.956 0.980 0.980 0.977 0.969 0.976"/><feFuncG type="table" tableValues="0.149 0.177 0.205 0.243 0.282 0.327 0.372 0.398 0.424 0.451 0.479 0.518 0.557 0.596 0.635 0.670 0.706 0.726 0.745 0.757 0.769 0.769 0.769 0.761 0.753 0.741 0.729 0.709 0.725 0.782 0.843 0.910 0.973"/><feFuncB type="table" tableValues="0.659 0.742 0.824 0.883 0.941 0.961 0.980 0.980 0.980 0.971 0.960 0.941 0.922 0.892 0.863 0.824 0.784 0.729 0.673 0.588 0.502 0.409 0.315 0.246 0.176 0.186 0.197 0.227 0.225 0.187 0.156 0.132 0.086"/></feComponentTransfer></filter>
<linearGradient id="cbB0" x1="0" y1="1" x2="0" y2="0"><stop offset="0" stop-color="#000"/><stop offset="1" stop-color="#fff"/></linearGradient>
<clipPath id="clipB1"><polygon points="398.4,168.6 424.1,135.7 490.5,135.7 491.6,207.0 495.0,227.7 398.4,227.7"/></clipPath>
<linearGradient id="bb1" x1="0" y1="0" x2="1" y2="0"><stop offset="0.00" stop-color="#474747"/><stop offset="1.00" stop-color="#4c4c4c"/></linearGradient>
<linearGradient id="sw1" gradientUnits="userSpaceOnUse" spreadMethod="repeat" x1="0" y1="0" x2="-2.57" y2="7.05"><stop offset="0.00" stop-color="#000000"/><stop offset="0.40" stop-color="#474747"/><stop offset="0.60" stop-color="#8c8c8c"/><stop offset="0.72" stop-color="#cccccc"/><stop offset="0.86" stop-color="#bfbfbf"/><stop offset="0.93" stop-color="#595959"/><stop offset="1.00" stop-color="#000000"/></linearGradient>
<linearGradient id="sx1" gradientUnits="userSpaceOnUse" spreadMethod="repeat" x1="0" y1="0" x2="-3.72" y2="7.62"><stop offset="0.00" stop-color="#000000"/><stop offset="0.40" stop-color="#474747"/><stop offset="0.60" stop-color="#8c8c8c"/><stop offset="0.72" stop-color="#cccccc"/><stop offset="0.86" stop-color="#bfbfbf"/><stop offset="0.93" stop-color="#595959"/><stop offset="1.00" stop-color="#000000"/></linearGradient>
<filter id="pb1" x="397.4" y="134.7" width="109.2" height="94.0" filterUnits="userSpaceOnUse" color-interpolation-filters="sRGB"><feTurbulence type="fractalNoise" baseFrequency="0.03" numOctaves="1" seed="4" result="n"/><feDisplacementMap in="SourceGraphic" in2="n" scale="18" xChannelSelector="R" yChannelSelector="G" result="d"/><feGaussianBlur in="d" stdDeviation="1.00" result="db"/><feTurbulence type="fractalNoise" baseFrequency="0.025 0.05" numOctaves="2" seed="24" result="m"/><feColorMatrix in="m" type="matrix" values="1 0 0 0 0  1 0 0 0 0  1 0 0 0 0  0 0 0 0 1" result="mg"/><feComposite in="db" in2="mg" operator="arithmetic" k2="1" k3="0.50" k4="-0.250"/><feComponentTransfer><feFuncR type="table" tableValues="0.243 0.259 0.275 0.278 0.282 0.271 0.259 0.237 0.216 0.196 0.176 0.157 0.137 0.108 0.079 0.059 0.039 0.079 0.119 0.207 0.294 0.411 0.528 0.640 0.753 0.832 0.911 0.956 0.980 0.980 0.977 0.969 0.976"/><feFuncG type="table" tableValues="0.149 0.177 0.205 0.243 0.282 0.327 0.372 0.398 0.424 0.451 0.479 0.518 0.557 0.596 0.635 0.670 0.706 0.726 0.745 0.757 0.769 0.769 0.769 0.761 0.753 0.741 0.729 0.709 0.725 0.782 0.843 0.910 0.973"/><feFuncB type="table" tableValues="0.659 0.742 0.824 0.883 0.941 0.961 0.980 0.980 0.980 0.971 0.960 0.941 0.922 0.892 0.863 0.824 0.784 0.729 0.673 0.588 0.502 0.409 0.315 0.246 0.176 0.186 0.197 0.227 0.225 0.187 0.156 0.132 0.086"/></feComponentTransfer></filter>
<linearGradient id="cbB1" x1="0" y1="1" x2="0" y2="0"><stop offset="0" stop-color="#000"/><stop offset="1" stop-color="#fff"/></linearGradient>
<clipPath id="clipB2"><polygon points="405.2,260.7 505.6,260.7 505.6,352.7 398.4,352.7 398.4,297.0 399.0,296.7"/></clipPath>
<linearGradient id="bb2" x1="0" y1="0" x2="1" y2="0"><stop offset="0.00" stop-color="#8e8e8e"/><stop offset="0.60" stop-color="#999999"/><stop offset="1.00" stop-color="#a8a8a8"/></linearGradient>
<linearGradient id="sw2" gradientUnits="userSpaceOnUse" spreadMethod="repeat" x1="0" y1="0" x2="-3.91" y2="9.21"><stop offset="0.00" stop-color="#3f3f3f"/><stop offset="0.50" stop-color="#7f7f7f"/><stop offset="0.68" stop-color="#a5a5a5"/><stop offset="0.78" stop-color="#d8d8d8"/><stop offset="0.90" stop-color="#cccccc"/><stop offset="0.95" stop-color="#7f7f7f"/><stop offset="1.00" stop-color="#3f3f3f"/></linearGradient>
<linearGradient id="sx2" gradientUnits="userSpaceOnUse" spreadMethod="repeat" x1="0" y1="0" x2="-5.48" y2="9.88"><stop offset="0.00" stop-color="#3f3f3f"/><stop offset="0.50" stop-color="#7f7f7f"/><stop offset="0.68" stop-color="#a5a5a5"/><stop offset="0.78" stop-color="#d8d8d8"/><stop offset="0.90" stop-color="#cccccc"/><stop offset="0.95" stop-color="#7f7f7f"/><stop offset="1.00" stop-color="#3f3f3f"/></linearGradient>
<filter id="pb2" x="397.4" y="259.7" width="109.2" height="94.0" filterUnits="userSpaceOnUse" color-interpolation-filters="sRGB"><feTurbulence type="fractalNoise" baseFrequency="0.02" numOctaves="1" seed="5" result="n"/><feDisplacementMap in="SourceGraphic" in2="n" scale="20" xChannelSelector="R" yChannelSelector="G" result="d"/><feGaussianBlur in="d" stdDeviation="1.00" result="db"/><feTurbulence type="fractalNoise" baseFrequency="0.02 0.04" numOctaves="2" seed="25" result="m"/><feColorMatrix in="m" type="matrix" values="1 0 0 0 0  1 0 0 0 0  1 0 0 0 0  0 0 0 0 1" result="mg"/><feComposite in="db" in2="mg" operator="arithmetic" k2="1" k3="0.40" k4="-0.200"/><feComponentTransfer><feFuncR type="table" tableValues="0.243 0.259 0.275 0.278 0.282 0.271 0.259 0.237 0.216 0.196 0.176 0.157 0.137 0.108 0.079 0.059 0.039 0.079 0.119 0.207 0.294 0.411 0.528 0.640 0.753 0.832 0.911 0.956 0.980 0.980 0.977 0.969 0.976"/><feFuncG type="table" tableValues="0.149 0.177 0.205 0.243 0.282 0.327 0.372 0.398 0.424 0.451 0.479 0.518 0.557 0.596 0.635 0.670 0.706 0.726 0.745 0.757 0.769 0.769 0.769 0.761 0.753 0.741 0.729 0.709 0.725 0.782 0.843 0.910 0.973"/><feFuncB type="table" tableValues="0.659 0.742 0.824 0.883 0.941 0.961 0.980 0.980 0.980 0.971 0.960 0.941 0.922 0.892 0.863 0.824 0.784 0.729 0.673 0.588 0.502 0.409 0.315 0.246 0.176 0.186 0.197 0.227 0.225 0.187 0.156 0.132 0.086"/></feComponentTransfer></filter>
<linearGradient id="cbB2" x1="0" y1="1" x2="0" y2="0"><stop offset="0" stop-color="#000"/><stop offset="1" stop-color="#fff"/></linearGradient>
<clipPath id="clipB3"><polygon points="407.5,477.7 413.2,414.0 416.6,400.5 420.0,396.2 424.5,394.8 458.6,390.9 492.7,386.8 505.6,385.7 505.6,477.7"/></clipPath>
<linearGradient id="bb3" x1="0" y1="0" x2="1" y2="0"><stop offset="0.00" stop-color="#666666"/><stop offset="1.00" stop-color="#666666"/></linearGradient>
<linearGradient id="sw3" gradientUnits="userSpaceOnUse" spreadMethod="repeat" x1="0" y1="0" x2="-4.39" y2="4.09"><stop offset="0.00" stop-color="#383838"/><stop offset="0.50" stop-color="#727272"/><stop offset="0.70" stop-color="#939393"/><stop offset="0.80" stop-color="#9e9e9e"/><stop offset="0.90" stop-color="#606060"/><stop offset="1.00" stop-color="#383838"/></linearGradient>
<linearGradient id="sx3" gradientUnits="userSpaceOnUse" spreadMethod="repeat" x1="0" y1="0" x2="-5.41" y2="4.08"><stop offset="0.00" stop-color="#383838"/><stop offset="0.50" stop-color="#727272"/><stop offset="0.70" stop-color="#939393"/><stop offset="0.80" stop-color="#9e9e9e"/><stop offset="0.90" stop-color="#606060"/><stop offset="1.00" stop-color="#383838"/></linearGradient>
<filter id="pb3" x="397.4" y="384.7" width="109.2" height="94.0" filterUnits="userSpaceOnUse" color-interpolation-filters="sRGB"><feTurbulence type="fractalNoise" baseFrequency="0.04" numOctaves="1" seed="6" result="n"/><feDisplacementMap in="SourceGraphic" in2="n" scale="14" xChannelSelector="R" yChannelSelector="G" result="d"/><feGaussianBlur in="d" stdDeviation="1.10" result="db"/><feTurbulence type="fractalNoise" baseFrequency="0.03 0.05" numOctaves="2" seed="26" result="m"/><feColorMatrix in="m" type="matrix" values="1 0 0 0 0  1 0 0 0 0  1 0 0 0 0  0 0 0 0 1" result="mg"/><feComposite in="db" in2="mg" operator="arithmetic" k2="1" k3="0.35" k4="-0.175"/><feComponentTransfer><feFuncR type="table" tableValues="0.243 0.259 0.275 0.278 0.282 0.271 0.259 0.237 0.216 0.196 0.176 0.157 0.137 0.108 0.079 0.059 0.039 0.079 0.119 0.207 0.294 0.411 0.528 0.640 0.753 0.832 0.911 0.956 0.980 0.980 0.977 0.969 0.976"/><feFuncG type="table" tableValues="0.149 0.177 0.205 0.243 0.282 0.327 0.372 0.398 0.424 0.451 0.479 0.518 0.557 0.596 0.635 0.670 0.706 0.726 0.745 0.757 0.769 0.769 0.769 0.761 0.753 0.741 0.729 0.709 0.725 0.782 0.843 0.910 0.973"/><feFuncB type="table" tableValues="0.659 0.742 0.824 0.883 0.941 0.961 0.980 0.980 0.980 0.971 0.960 0.941 0.922 0.892 0.863 0.824 0.784 0.729 0.673 0.588 0.502 0.409 0.315 0.246 0.176 0.186 0.197 0.227 0.225 0.187 0.156 0.132 0.086"/></feComponentTransfer></filter>
<linearGradient id="cbB3" x1="0" y1="1" x2="0" y2="0"><stop offset="0" stop-color="#000"/><stop offset="1" stop-color="#fff"/></linearGradient>
<clipPath id="clipC0"><rect x="39.6" y="262.6" width="304.9" height="41.4"/></clipPath>
<clipPath id="clipC1"><rect x="39.6" y="320.4" width="304.9" height="41.2"/></clipPath>
<clipPath id="clipC2"><rect x="39.6" y="378.4" width="304.9" height="41.8"/></clipPath>
<clipPath id="clipC3"><rect x="39.6" y="437.0" width="304.9" height="41.4"/></clipPath>
</defs>
<rect width="550" height="508" fill="#fff"/>
<g clip-path="url(#clipA)">
<g filter="url(#parb)"><rect x="38" y="8" width="282" height="4.5" fill="url(#ga0)"/><rect x="38" y="12" width="282" height="4.5" fill="url(#ga1)"/><rect x="38" y="16" width="282" height="4.5" fill="url(#ga2)"/><rect x="38" y="20" width="282" height="4.5" fill="url(#ga3)"/><rect x="38" y="24" width="282" height="4.5" fill="url(#ga4)"/><rect x="38" y="28" width="282" height="4.5" fill="url(#ga5)"/><rect x="38" y="32" width="282" height="4.5" fill="url(#ga6)"/><rect x="38" y="36" width="282" height="4.5" fill="url(#ga7)"/><rect x="38" y="40" width="282" height="4.5" fill="url(#ga8)"/><rect x="38" y="44" width="282" height="4.5" fill="url(#ga9)"/><rect x="38" y="48" width="282" height="4.5" fill="url(#ga10)"/><rect x="38" y="52" width="282" height="4.5" fill="url(#ga11)"/><rect x="38" y="56" width="282" height="4.5" fill="url(#ga12)"/><rect x="38" y="60" width="282" height="4.5" fill="url(#ga13)"/><rect x="38" y="64" width="282" height="4.5" fill="url(#ga14)"/><rect x="38" y="68" width="282" height="4.5" fill="url(#ga15)"/><rect x="38" y="72" width="282" height="4.5" fill="url(#ga16)"/><rect x="38" y="76" width="282" height="4.5" fill="url(#ga17)"/><rect x="38" y="80" width="282" height="4.5" fill="url(#ga18)"/><rect x="38" y="84" width="282" height="4.5" fill="url(#ga19)"/><rect x="38" y="88" width="282" height="4.5" fill="url(#ga20)"/><rect x="38" y="92" width="282" height="4.5" fill="url(#ga21)"/><rect x="38" y="96" width="282" height="4.5" fill="url(#ga22)"/><rect x="38" y="100" width="282" height="4.5" fill="url(#ga23)"/><rect x="38" y="104" width="282" height="4.5" fill="url(#ga24)"/><rect x="38" y="108" width="282" height="4.5" fill="url(#ga25)"/><rect x="38" y="112" width="282" height="4.5" fill="url(#ga26)"/><rect x="38" y="116" width="282" height="4.5" fill="url(#ga27)"/><rect x="38" y="120" width="282" height="4.5" fill="url(#ga28)"/><rect x="38" y="124" width="282" height="4.5" fill="url(#ga29)"/><rect x="38" y="128" width="282" height="4.5" fill="url(#ga30)"/><rect x="38" y="132" width="282" height="4.5" fill="url(#ga31)"/><rect x="38" y="136" width="282" height="4.5" fill="url(#ga32)"/><rect x="38" y="140" width="282" height="4.5" fill="url(#ga33)"/><rect x="38" y="144" width="282" height="4.5" fill="url(#ga34)"/><rect x="38" y="148" width="282" height="4.5" fill="url(#ga35)"/><rect x="38" y="152" width="282" height="4.5" fill="url(#ga36)"/><rect x="38" y="156" width="282" height="4.5" fill="url(#ga37)"/><rect x="38" y="160" width="282" height="4.5" fill="url(#ga38)"/><rect x="38" y="164" width="282" height="4.5" fill="url(#ga39)"/><rect x="38" y="168" width="282" height="4.5" fill="url(#ga40)"/><rect x="38" y="172" width="282" height="4.5" fill="url(#ga41)"/><rect x="38" y="176" width="282" height="4.5" fill="url(#ga42)"/><rect x="38" y="180" width="282" height="4.5" fill="url(#ga43)"/><rect x="38" y="184" width="282" height="4.5" fill="url(#ga44)"/><rect x="38" y="188" width="282" height="4.5" fill="url(#ga45)"/><rect x="38" y="192" width="282" height="4.5" fill="url(#ga46)"/><rect x="38" y="196" width="282" height="4.5" fill="url(#ga47)"/><rect x="38" y="200" width="282" height="4.5" fill="url(#ga48)"/><rect x="38" y="204" width="282" height="4.5" fill="url(#ga49)"/><rect x="38" y="208" width="282" height="4.5" fill="url(#ga50)"/><rect x="38" y="212" width="282" height="4.5" fill="url(#ga51)"/><rect x="38" y="216" width="282" height="4.5" fill="url(#ga52)"/><rect x="38" y="220" width="282" height="4.5" fill="url(#ga53)"/><path d="M46 14 Q50 90 56 215" stroke="#000" stroke-opacity="0.22" stroke-width="16" fill="none"/><ellipse cx="181" cy="147.5" rx="6" ry="2.2" fill="#000" fill-opacity="0.35"/><path d="M80 60 Q82 110 86 170" stroke="#000" stroke-opacity="0.12" stroke-width="10" fill="none"/><path d="M77 58 Q78 90 77 128" stroke="#000" stroke-opacity="0.35" stroke-width="3" fill="none"/><path d="M95 20 Q96 50 98 80" stroke="#000" stroke-opacity="0.2" stroke-width="2.5" fill="none"/><path d="M65 23Q64 55 62 88" stroke="#000" stroke-opacity="0.17" stroke-width="2.4" fill="none"/><path d="M45 76Q42 87 43 99" stroke="#000" stroke-opacity="0.25" stroke-width="1.4" fill="none"/><path d="M73 124Q76 138 72 153" stroke="#000" stroke-opacity="0.20" stroke-width="2.6" fill="none"/><path d="M85 60Q84 104 81 148" stroke="#000" stroke-opacity="0.16" stroke-width="3.2" fill="none"/><path d="M51 18Q52 38 49 59" stroke="#000" stroke-opacity="0.34" stroke-width="1.6" fill="none"/><path d="M90 56Q88 85 87 114" stroke="#000" stroke-opacity="0.16" stroke-width="1.3" fill="none"/><path d="M93 64Q92 85 91 106" stroke="#000" stroke-opacity="0.28" stroke-width="2.2" fill="none"/><path d="M102 105Q104 123 100 142" stroke="#000" stroke-opacity="0.28" stroke-width="2.4" fill="none"/><path d="M97 43Q98 87 92 132" stroke="#000" stroke-opacity="0.18" stroke-width="2.2" fill="none"/><path d="M52 73Q52 85 51 96" stroke="#000" stroke-opacity="0.30" stroke-width="3.0" fill="none"/><path d="M108 47Q108 81 105 116" stroke="#000" stroke-opacity="0.29" stroke-width="2.5" fill="none"/><path d="M106 142Q107 168 103 195" stroke="#000" stroke-opacity="0.30" stroke-width="1.3" fill="none"/><path d="M90 149Q91 188 87 226" stroke="#000" stroke-opacity="0.22" stroke-width="2.1" fill="none"/><path d="M42 69Q43 85 40 101" stroke="#000" stroke-opacity="0.18" stroke-width="1.3" fill="none"/><path d="M50 37Q50 61 48 85" stroke="#000" stroke-opacity="0.35" stroke-width="1.4" fill="none"/><path d="M83 133Q82 171 79 210" stroke="#000" stroke-opacity="0.35" stroke-width="1.8" fill="none"/><path d="M68 133Q66 176 64 220" stroke="#000" stroke-opacity="0.18" stroke-width="1.6" fill="none"/><path d="M58 73Q58 103 55 134" stroke="#000" stroke-opacity="0.21" stroke-width="1.2" fill="none"/><path d="M69 85Q70 128 64 172" stroke="#000" stroke-opacity="0.31" stroke-width="2.4" fill="none"/><path d="M93 8Q95 50 89 91" stroke="#000" stroke-opacity="0.33" stroke-width="3.2" fill="none"/><path d="M71 60Q68 73 69 87" stroke="#000" stroke-opacity="0.30" stroke-width="1.3" fill="none"/><path d="M56 24Q54 46 54 68" stroke="#000" stroke-opacity="0.16" stroke-width="1.2" fill="none"/><path d="M48 55Q46 65 47 76" stroke="#000" stroke-opacity="0.35" stroke-width="2.6" fill="none"/><path d="M60 52Q63 75 57 98" stroke="#000" stroke-opacity="0.18" stroke-width="3.2" fill="none"/><path d="M76 73Q75 86 75 99" stroke="#000" stroke-opacity="0.17" stroke-width="2.0" fill="none"/><path d="M105 24Q103 35 104 46" stroke="#000" stroke-opacity="0.37" stroke-width="2.4" fill="none"/><path d="M82 4Q84 33 80 61" stroke="#000" stroke-opacity="0.38" stroke-width="3.2" fill="none"/><path d="M60 55Q62 71 59 87" stroke="#000" stroke-opacity="0.33" stroke-width="2.4" fill="none"/><path d="M66 33Q68 72 62 110" stroke="#000" stroke-opacity="0.38" stroke-width="3.2" fill="none"/><path d="M104 111Q101 129 102 147" stroke="#000" stroke-opacity="0.27" stroke-width="2.0" fill="none"/><path d="M42 42Q42 61 40 80" stroke="#000" stroke-opacity="0.31" stroke-width="3.4" fill="none"/><path d="M113 148Q111 192 109 235" stroke="#000" stroke-opacity="0.23" stroke-width="1.7" fill="none"/><path d="M55 31Q55 62 52 94" stroke="#000" stroke-opacity="0.36" stroke-width="3.1" fill="none"/><path d="M91 120Q93 133 90 146" stroke="#000" stroke-opacity="0.30" stroke-width="3.3" fill="none"/><path d="M99 72Q100 88 97 104" stroke="#000" stroke-opacity="0.33" stroke-width="2.0" fill="none"/><path d="M116 59Q114 83 113 107" stroke="#000" stroke-opacity="0.37" stroke-width="2.9" fill="none"/><path d="M50 23Q52 64 46 106" stroke="#000" stroke-opacity="0.34" stroke-width="1.5" fill="none"/><path d="M116 99Q114 121 114 143" stroke="#000" stroke-opacity="0.28" stroke-width="1.5" fill="none"/><path d="M116 97Q118 126 113 154" stroke="#000" stroke-opacity="0.36" stroke-width="2.2" fill="none"/><path d="M104 32Q105 50 103 69" stroke="#000" stroke-opacity="0.22" stroke-width="1.8" fill="none"/><path d="M60 63Q60 77 59 92" stroke="#000" stroke-opacity="0.36" stroke-width="2.0" fill="none"/><path d="M86 136Q86 160 83 185" stroke="#000" stroke-opacity="0.36" stroke-width="2.4" fill="none"/><path d="M81 3Q83 28 78 54" stroke="#000" stroke-opacity="0.19" stroke-width="1.2" fill="none"/><path d="M53 71Q54 106 50 142" stroke="#000" stroke-opacity="0.28" stroke-width="1.9" fill="none"/><path d="M83 118Q82 131 82 145" stroke="#000" stroke-opacity="0.28" stroke-width="1.8" fill="none"/><path d="M201 41Q201 74 196 108" stroke="#fff" stroke-opacity="0.19" stroke-width="2.4" fill="none"/><path d="M174 40Q174 72 169 104" stroke="#fff" stroke-opacity="0.18" stroke-width="1.7" fill="none"/><path d="M151 75Q149 100 147 125" stroke="#fff" stroke-opacity="0.20" stroke-width="2.4" fill="none"/><path d="M165 75Q165 100 161 125" stroke="#fff" stroke-opacity="0.10" stroke-width="1.2" fill="none"/><path d="M82 19Q86 34 80 50" stroke="#fff" stroke-opacity="0.17" stroke-width="2.2" fill="none"/><path d="M96 57Q100 95 90 132" stroke="#fff" stroke-opacity="0.10" stroke-width="2.3" fill="none"/><path d="M107 76Q110 101 103 125" stroke="#fff" stroke-opacity="0.15" stroke-width="2.5" fill="none"/><path d="M97 35Q96 66 92 98" stroke="#fff" stroke-opacity="0.13" stroke-width="1.3" fill="none"/><path d="M193 2Q191 35 187 68" stroke="#fff" stroke-opacity="0.14" stroke-width="1.0" fill="none"/><path d="M176 41Q180 56 174 71" stroke="#fff" stroke-opacity="0.22" stroke-width="2.2" fill="none"/><path d="M88 21Q85 35 86 49" stroke="#fff" stroke-opacity="0.19" stroke-width="1.4" fill="none"/><path d="M142 73Q145 99 138 125" stroke="#fff" stroke-opacity="0.12" stroke-width="1.2" fill="none"/><path d="M167 56Q166 72 164 88" stroke="#fff" stroke-opacity="0.09" stroke-width="2.0" fill="none"/><path d="M82 75Q85 111 77 148" stroke="#fff" stroke-opacity="0.19" stroke-width="1.1" fill="none"/><path d="M81 69Q85 99 77 128" stroke="#fff" stroke-opacity="0.13" stroke-width="1.8" fill="none"/><path d="M116 10Q113 43 110 75" stroke="#fff" stroke-opacity="0.11" stroke-width="1.2" fill="none"/><path d="M79 16Q77 40 75 65" stroke="#fff" stroke-opacity="0.12" stroke-width="2.1" fill="none"/><path d="M155 14Q151 40 151 65" stroke="#fff" stroke-opacity="0.08" stroke-width="1.4" fill="none"/><path d="M195 44Q191 64 191 83" stroke="#fff" stroke-opacity="0.15" stroke-width="2.4" fill="none"/><path d="M209 35Q209 66 204 97" stroke="#fff" stroke-opacity="0.20" stroke-width="1.6" fill="none"/><path d="M187 79Q188 102 183 125" stroke="#fff" stroke-opacity="0.20" stroke-width="2.1" fill="none"/><path d="M139 28Q141 42 136 57" stroke="#fff" stroke-opacity="0.10" stroke-width="1.1" fill="none"/><path d="M113 13Q115 29 111 44" stroke="#fff" stroke-opacity="0.20" stroke-width="2.3" fill="none"/><path d="M118 19Q117 43 114 66" stroke="#fff" stroke-opacity="0.14" stroke-width="1.2" fill="none"/><path d="M115 77Q118 101 111 125" stroke="#fff" stroke-opacity="0.16" stroke-width="1.4" fill="none"/><path d="M123 29Q123 41 121 54" stroke="#fff" stroke-opacity="0.13" stroke-width="1.7" fill="none"/><path d="M104 40Q103 53 102 66" stroke="#fff" stroke-opacity="0.12" stroke-width="1.1" fill="none"/><path d="M77 2Q77 26 73 50" stroke="#fff" stroke-opacity="0.11" stroke-width="1.9" fill="none"/><path d="M198 53Q196 89 192 125" stroke="#fff" stroke-opacity="0.20" stroke-width="1.6" fill="none"/><path d="M237 12Q240 52 231 91" stroke="#fff" stroke-opacity="0.17" stroke-width="1.1" fill="none"/><path d="M222 50Q222 88 216 125" stroke="#fff" stroke-opacity="0.19" stroke-width="1.2" fill="none"/><path d="M156 67Q159 96 151 125" stroke="#fff" stroke-opacity="0.20" stroke-width="1.9" fill="none"/><path d="M186 55Q185 77 183 98" stroke="#fff" stroke-opacity="0.08" stroke-width="1.2" fill="none"/><path d="M88 67Q89 100 82 134" stroke="#fff" stroke-opacity="0.17" stroke-width="1.9" fill="none"/><path d="M153 0Q153 43 146 85" stroke="#fff" stroke-opacity="0.18" stroke-width="1.8" fill="none"/><path d="M182 5Q180 45 176 86" stroke="#fff" stroke-opacity="0.12" stroke-width="1.1" fill="none"/><path d="M194 16Q193 57 188 97" stroke="#fff" stroke-opacity="0.22" stroke-width="1.7" fill="none"/><path d="M151 55Q148 90 146 125" stroke="#fff" stroke-opacity="0.17" stroke-width="2.0" fill="none"/><path d="M95 20Q91 61 89 101" stroke="#fff" stroke-opacity="0.12" stroke-width="1.9" fill="none"/><path d="M80 22Q79 59 74 97" stroke="#fff" stroke-opacity="0.18" stroke-width="2.0" fill="none"/><path d="M158 37Q155 67 153 97" stroke="#fff" stroke-opacity="0.10" stroke-width="2.3" fill="none"/><path d="M236 75Q240 88 234 101" stroke="#fff" stroke-opacity="0.14" stroke-width="2.2" fill="none"/><path d="M146 21Q147 42 143 62" stroke="#fff" stroke-opacity="0.21" stroke-width="1.3" fill="none"/><path d="M94 42Q94 90 86 138" stroke="#fff" stroke-opacity="0.10" stroke-width="2.2" fill="none"/><path d="M221 56Q217 77 217 99" stroke="#fff" stroke-opacity="0.21" stroke-width="1.7" fill="none"/><path d="M71 39Q69 69 66 98" stroke="#fff" stroke-opacity="0.12" stroke-width="1.2" fill="none"/><path d="M124 67Q121 80 122 92" stroke="#fff" stroke-opacity="0.19" stroke-width="2.3" fill="none"/><path d="M227 57Q227 91 222 125" stroke="#fff" stroke-opacity="0.12" stroke-width="1.6" fill="none"/><path d="M240 47Q236 73 236 99" stroke="#fff" stroke-opacity="0.14" stroke-width="1.4" fill="none"/><path d="M87 67Q85 90 84 113" stroke="#fff" stroke-opacity="0.21" stroke-width="1.4" fill="none"/><path d="M157 15Q159 42 153 68" stroke="#fff" stroke-opacity="0.21" stroke-width="2.3" fill="none"/><path d="M177 73Q174 99 173 125" stroke="#fff" stroke-opacity="0.16" stroke-width="2.1" fill="none"/><path d="M194 36Q191 77 188 118" stroke="#fff" stroke-opacity="0.17" stroke-width="1.4" fill="none"/><path d="M228 10Q229 40 223 71" stroke="#fff" stroke-opacity="0.13" stroke-width="1.4" fill="none"/><path d="M236 21Q235 58 230 95" stroke="#fff" stroke-opacity="0.12" stroke-width="1.8" fill="none"/><path d="M68 208Q79 188 89 168" stroke="#fff" stroke-opacity="0.26" stroke-width="2.1" fill="none"/><path d="M160 214Q172 205 187 196" stroke="#fff" stroke-opacity="0.28" stroke-width="1.3" fill="none"/><path d="M76 210Q87 189 96 168" stroke="#fff" stroke-opacity="0.29" stroke-width="1.6" fill="none"/><path d="M108 212Q114 203 122 193" stroke="#fff" stroke-opacity="0.39" stroke-width="1.3" fill="none"/><path d="M105 217Q112 205 120 192" stroke="#fff" stroke-opacity="0.26" stroke-width="1.6" fill="none"/><path d="M99 223Q109 202 123 180" stroke="#fff" stroke-opacity="0.23" stroke-width="1.9" fill="none"/><path d="M149 214Q157 206 167 198" stroke="#fff" stroke-opacity="0.39" stroke-width="2.0" fill="none"/><path d="M144 223Q154 215 166 206" stroke="#fff" stroke-opacity="0.31" stroke-width="1.9" fill="none"/><path d="M154 219Q174 201 194 184" stroke="#fff" stroke-opacity="0.32" stroke-width="1.2" fill="none"/><path d="M136 209Q150 192 166 174" stroke="#fff" stroke-opacity="0.24" stroke-width="1.5" fill="none"/><path d="M120 218Q129 209 138 201" stroke="#fff" stroke-opacity="0.32" stroke-width="1.6" fill="none"/><path d="M75 216Q82 204 90 192" stroke="#fff" stroke-opacity="0.39" stroke-width="1.8" fill="none"/><path d="M147 214Q162 204 174 194" stroke="#fff" stroke-opacity="0.35" stroke-width="1.5" fill="none"/><path d="M52 214Q56 200 61 186" stroke="#fff" stroke-opacity="0.34" stroke-width="2.1" fill="none"/><path d="M75 206Q83 191 90 177" stroke="#fff" stroke-opacity="0.26" stroke-width="2.0" fill="none"/><path d="M131 215Q152 195 173 176" stroke="#fff" stroke-opacity="0.37" stroke-width="1.4" fill="none"/><path d="M74 219Q86 198 97 178" stroke="#fff" stroke-opacity="0.25" stroke-width="1.4" fill="none"/><path d="M96 218Q101 206 108 195" stroke="#fff" stroke-opacity="0.26" stroke-width="2.2" fill="none"/><path d="M66 206Q74 193 80 179" stroke="#fff" stroke-opacity="0.38" stroke-width="1.9" fill="none"/><path d="M160 223Q175 213 186 204" stroke="#fff" stroke-opacity="0.35" stroke-width="1.2" fill="none"/><path d="M123 212Q133 200 146 187" stroke="#fff" stroke-opacity="0.22" stroke-width="1.5" fill="none"/><path d="M89 223Q102 203 117 182" stroke="#fff" stroke-opacity="0.28" stroke-width="2.0" fill="none"/><path d="M140 213Q156 201 173 188" stroke="#fff" stroke-opacity="0.39" stroke-width="1.4" fill="none"/><path d="M90 222Q101 209 110 195" stroke="#fff" stroke-opacity="0.36" stroke-width="1.2" fill="none"/><path d="M54 206Q58 194 60 182" stroke="#fff" stroke-opacity="0.38" stroke-width="1.5" fill="none"/><path d="M80 223Q87 211 92 198" stroke="#fff" stroke-opacity="0.28" stroke-width="1.5" fill="none"/><path d="M50 219Q56 202 58 185" stroke="#fff" stroke-opacity="0.22" stroke-width="1.4" fill="none"/><path d="M102 223Q110 208 119 194" stroke="#fff" stroke-opacity="0.30" stroke-width="1.7" fill="none"/><path d="M152 208Q172 191 190 173" stroke="#fff" stroke-opacity="0.36" stroke-width="1.8" fill="none"/><path d="M86 211Q96 192 109 173" stroke="#fff" stroke-opacity="0.26" stroke-width="2.0" fill="none"/><path d="M110 177L130 161" stroke="#fff" stroke-opacity="0.20" stroke-width="2.2" fill="none"/><path d="M161 205L187 187" stroke="#fff" stroke-opacity="0.16" stroke-width="1.7" fill="none"/><path d="M147 188L171 170" stroke="#fff" stroke-opacity="0.24" stroke-width="1.9" fill="none"/><path d="M150 200L185 177" stroke="#fff" stroke-opacity="0.28" stroke-width="1.5" fill="none"/><path d="M135 186L171 162" stroke="#fff" stroke-opacity="0.19" stroke-width="1.4" fill="none"/><path d="M102 202L134 178" stroke="#fff" stroke-opacity="0.21" stroke-width="2.2" fill="none"/><path d="M131 182L165 153" stroke="#fff" stroke-opacity="0.30" stroke-width="1.3" fill="none"/><path d="M128 200L161 168" stroke="#fff" stroke-opacity="0.16" stroke-width="1.5" fill="none"/><path d="M100 181L138 149" stroke="#fff" stroke-opacity="0.29" stroke-width="1.6" fill="none"/><path d="M159 188L183 167" stroke="#fff" stroke-opacity="0.29" stroke-width="1.3" fill="none"/></g>
<polygon points="257.0,0.0 255.4,9.4 253.0,30.0 250.0,50.0 248.0,65.0 245.4,77.5 241.0,92.0 237.0,103.6 232.0,113.0 224.0,125.5 216.4,134.0 209.9,140.0 203.0,145.0 197.0,148.8 195.2,149.8 196.0,153.0 197.5,157.0 196.8,161.3 197.5,167.0 198.5,173.5 190.0,174.2 184.5,174.8 179.6,176.0 179.0,179.3 181.3,181.0 180.0,184.0 178.0,185.8 170.0,188.0 163.3,190.7 162.5,195.6 164.0,199.0 163.0,203.0 161.0,206.5 160.0,208.7 152.0,210.0 146.0,212.5 144.0,219.5 150.0,225.0 330.0,225.0 330.0,0.0" fill="#cbcbcb" stroke="#dfe4ea" stroke-width="0.8"/>
<polygon points="288.0,0.0 288.0,9.4 289.0,17.0 293.0,23.6 297.0,30.0 301.5,35.5 306.0,39.0 310.0,42.0 311.0,45.0 306.0,47.0 299.0,48.5 293.0,50.5 288.5,53.0 286.8,57.0 287.0,62.0 287.3,71.0 290.8,78.0 294.4,85.0 296.0,91.0 297.0,94.0 301.0,91.0 306.0,86.0 312.0,81.0 317.0,78.0 330.0,75.0 330.0,0.0" fill="#f9b934"/>
<path d="M297 94.5 Q305 96.5 310 98 Q314 99 318 99.5" stroke="#f9b934" stroke-width="2.2" fill="none"/>
<path d="M265 9.4 L266 11 Q270 13 274 12.5 L277 9.4Z" fill="#f7e030"/>
<path d="M312 39 L316 41 L317 45 L313 44Z" fill="#fff"/>
<circle cx="296" cy="24" r="0.8" fill="#fff"/>
<path d="M311 101 Q314 99.5 318 100 L318 105 Q314 105 311 103Z" fill="#fff"/>
<path d="M248 80 Q255 82 260 84 Q265 86 268 88 Q272 90 276 92 L285 95 L292 96" stroke="#7a7a7a" stroke-width="1.2" fill="none" stroke-dasharray="1.5 1"/>
<path d="M195.2 149.8 Q190 151 189.5 155 Q189.6 160 193 162 L196.5 161 Q196 157 197 154 Z" fill="#fff" stroke="#8a8a8a" stroke-width="0.4"/>
<path d="M195.5 152.5 Q205 155 215 158 Q225 162 232 164 L239 165" stroke="#a8a8a8" stroke-width="2.4" fill="none"/>
<path d="M195.5 152.5 Q205 155 215 158 Q225 162 232 164 L239 165" stroke="#6e6e6e" stroke-width="1.1" fill="none" stroke-dasharray="1.3 1.2"/>
<path d="M196 151 Q206 153.5 216 156.5 Q226 160 236 162.5" stroke="#777" stroke-width="0.6" fill="none"/>
<path d="M197 151 Q206 154 216 157" stroke="#8a8a8a" stroke-width="0.6" fill="none"/>
<polygon points="181.3,179.6 190.0,177.0 199.0,175.3 208.0,178.3 220.7,182.0 236.0,187.2 248.7,189.8 264.0,187.2 272.0,186.0 272.0,188.5 264.0,189.8 248.7,193.6 233.4,192.3 218.0,188.5 210.5,191.0 205.4,195.0 197.8,193.6 190.2,189.8 182.5,187.2 180.5,183.0" fill="#fff" stroke="#8a8a8a" stroke-width="0.4"/>
<polygon points="195.0,204.0 205.0,201.5 215.0,200.0 225.0,198.5 231.0,198.0 240.0,195.5 250.0,193.8 258.0,192.5 264.0,191.5 264.0,193.5 255.0,195.5 245.0,197.5 235.0,200.5 225.0,202.2 215.0,204.0 205.0,206.5 196.0,208.0" fill="#fff" stroke="#8a8a8a" stroke-width="0.4"/>
<path d="M199 209 Q205 209.5 210 212 L209 214 Q204 212 199 211.5Z" fill="#fff" stroke="#8a8a8a" stroke-width="0.4"/>
<path d="M163 200 Q170 197 176.4 195.6 Q184 197 192.7 200.5 Q196 206 197.6 212 L198 218.7 L186 218.7 Q182 213 176 210 Q170 208.5 161 208Z" fill="#f4d630"/>
<path d="M146 210.5 Q158 208.5 170 207 Q180 206 188 207.5 Q195 210 199 218.7" stroke="#49c29b" stroke-width="1.4" fill="none"/>
<path d="M172 201 Q180 202.5 187 206" stroke="#6cc47a" stroke-width="1.0" fill="none"/>
<path d="M184 212 Q188 215 190 218.7" stroke="#7cc470" stroke-width="0.9" fill="none"/>
<path d="M274.6 156.5 L280 154 L287.2 151 L292 148 L295.9 146 L299 149 L303 151.8 L307.7 150.2 L312 152 L317.2 153.4" stroke="#4a4a4a" stroke-width="0.75" fill="none" stroke-linejoin="round"/>
<path d="M240 173 L250 173.5 L258 175 L265.2 175.4 L272 174 L279.4 173 L290 172.5 L300 174 L308 173 L317 173" stroke="#4a4a4a" stroke-width="0.75" fill="none" stroke-linejoin="round"/>
<path d="M265 186 L272 189 L276.2 190.4 L285 189 L295 187 L299.8 181.7 L305 183 L310 185 L317.2 185.7" stroke="#4a4a4a" stroke-width="0.75" fill="none" stroke-linejoin="round"/>
<path d="M251 146.3 L256 141 L260 137" stroke="#4a4a4a" stroke-width="0.75" fill="none" stroke-linejoin="round"/>
<path d="M251 146.3 L246 150 L243 154" stroke="#4a4a4a" stroke-width="0.75" fill="none" stroke-linejoin="round"/>
<path d="M246 172 L250 178 L252 185" stroke="#4a4a4a" stroke-width="0.75" fill="none" stroke-linejoin="round"/>
<path d="M262 176 L263 182 L265 186" stroke="#4a4a4a" stroke-width="0.75" fill="none" stroke-linejoin="round"/>
<path d="M275 176 L276 183 L276 190" stroke="#4a4a4a" stroke-width="0.75" fill="none" stroke-linejoin="round"/>
<path d="M273 176 L285 176 L285 190" stroke="#4a4a4a" stroke-width="0.75" fill="none" stroke-linejoin="round"/>
<path d="M222 181 L230 176 L240 173" stroke="#4a4a4a" stroke-width="0.75" fill="none" stroke-linejoin="round"/>
<path d="M240 196 L242 205 L238 214" stroke="#4a4a4a" stroke-width="0.75" fill="none" stroke-linejoin="round"/>
<path d="M215 198 L222 208 L228 214" stroke="#4a4a4a" stroke-width="0.75" fill="none" stroke-linejoin="round"/>
<rect x="196.9" y="75.2" width="10.5" height="9.4" fill="none" stroke="#2a3a3a" stroke-width="0.5"/>
<rect x="200.0" y="91.4" width="10.0" height="9.3" fill="none" stroke="#2a3a3a" stroke-width="0.5"/>
<rect x="173.1" y="88.7" width="10.3" height="9.3" fill="none" stroke="#2a3a3a" stroke-width="0.5"/>
<rect x="138.5" y="143.5" width="8.9" height="7.7" fill="none" stroke="#2a3a3a" stroke-width="0.5"/>
</g>
<text x="191.2" y="80.0" font-size="8.50" font-weight="bold">1</text>
<text x="193.8" y="96.5" font-size="8.50" font-weight="bold">3</text>
<text x="166.5" y="94.0" font-size="8.50" font-weight="bold">2</text>
<text x="131.5" y="148.0" font-size="8.50" font-weight="bold">4</text>
<circle cx="247.6" cy="79.2" r="1.7" fill="#ee1c1c"/>
<text x="250.6" y="81.5" font-size="8.30" stroke="#000" stroke-width="0.18">IJmuiden</text>
<circle cx="275.7" cy="92.3" r="1.7" fill="#ee1c1c"/>
<text x="277.9" y="94.5" font-size="8.30" stroke="#000" stroke-width="0.18">Amsterdam</text>
<circle cx="220.5" cy="137.8" r="1.7" fill="#ee1c1c"/>
<text x="223.6" y="140.5" font-size="8.30" stroke="#000" stroke-width="0.18">The Hague</text>
<circle cx="238.0" cy="160.0" r="1.7" fill="#ee1c1c"/>
<text x="241.0" y="162.5" font-size="8.30" stroke="#000" stroke-width="0.18">Rotterdam</text>
<text x="41.0" y="18.3" font-size="8.60" font-weight="bold">A</text>
<text x="46.5" y="230.2" font-size="8.50" text-anchor="middle">460</text>
<text x="73.5" y="230.2" font-size="8.50" text-anchor="middle">480</text>
<text x="100.5" y="230.2" font-size="8.50" text-anchor="middle">500</text>
<text x="127.5" y="230.2" font-size="8.50" text-anchor="middle">520</text>
<text x="154.5" y="230.2" font-size="8.50" text-anchor="middle">540</text>
<text x="181.5" y="230.2" font-size="8.50" text-anchor="middle">560</text>
<text x="208.5" y="230.2" font-size="8.50" text-anchor="middle">580</text>
<text x="235.5" y="230.2" font-size="8.50" text-anchor="middle">600</text>
<text x="262.5" y="230.2" font-size="8.50" text-anchor="middle">620</text>
<text x="289.5" y="230.2" font-size="8.50" text-anchor="middle">640</text>
<text x="316.5" y="230.2" font-size="8.50" text-anchor="middle">660</text>
<text x="36.6" y="208.9" font-size="8.50" text-anchor="end">5720</text>
<text x="36.6" y="181.8" font-size="8.50" text-anchor="end">5740</text>
<text x="36.6" y="154.7" font-size="8.50" text-anchor="end">5760</text>
<text x="36.6" y="127.6" font-size="8.50" text-anchor="end">5780</text>
<text x="36.6" y="100.5" font-size="8.50" text-anchor="end">5800</text>
<text x="36.6" y="73.4" font-size="8.50" text-anchor="end">5820</text>
<text x="36.6" y="46.3" font-size="8.50" text-anchor="end">5840</text>
<text x="36.6" y="19.2" font-size="8.50" text-anchor="end">5860</text>
<text x="178.0" y="240.5" font-size="9.70" text-anchor="middle">easting [km]</text>
<text transform="translate(15.5,114) rotate(-90)" font-size="9.70" text-anchor="middle">northing [km]</text>
<rect x="327.3" y="9.2" width="6.6" height="209.5" fill="url(#cbA)" filter="url(#par)"/>
<text x="336.2" y="28.3" font-size="8.50">0</text>
<text x="336.2" y="60.5" font-size="8.50">−10</text>
<text x="336.2" y="92.8" font-size="8.50">−20</text>
<text x="336.2" y="125.0" font-size="8.50">−30</text>
<text x="336.2" y="157.2" font-size="8.50">−40</text>
<text x="336.2" y="189.5" font-size="8.50">−50</text>
<text x="336.2" y="221.7" font-size="8.50">−60</text>
<text transform="translate(357.8,113.5) rotate(-90)" font-size="8.6" text-anchor="middle"><tspan font-style="italic">z</tspan><tspan font-size="5.6" dy="1.8" font-style="italic">b</tspan><tspan dy="-1.8" dx="2.5">[m]</tspan></text>
<g clip-path="url(#clipB0)"><g filter="url(#pb0)"><rect x="383.4" y="-3.6" width="137.2" height="122.0" fill="url(#bb0)"/><rect x="383.4" y="-3.6" width="137.2" height="122.0" fill="url(#sw0)" fill-opacity="0.45"/><rect x="383.4" y="-3.6" width="137.2" height="122.0" fill="url(#sx0)" fill-opacity="0.30"/><g fill="#000" fill-opacity="0.8"><ellipse cx="428" cy="22" rx="13" ry="4.5" transform="rotate(22 428 22)"/><ellipse cx="420" cy="46" rx="12" ry="3.5" transform="rotate(24 420 46)"/><ellipse cx="440" cy="36" rx="9" ry="3" transform="rotate(26 440 36)"/><ellipse cx="412" cy="70" rx="10" ry="3" transform="rotate(25 412 70)"/></g></g></g>
<g clip-path="url(#clipB0)" fill="none" stroke-linecap="round" stroke-linejoin="round" opacity="0.80"><path d="M398.0 -54.9l3.6 1.8l3.8 1.3l4.0 0.8l4.0 0.8l3.8 1.3l3.5 1.9l3.5 2.1" stroke="#4740e4" stroke-width="1.3" stroke-opacity="0.50"/><path d="M398.6 -56.3l3.6 1.8l3.8 1.3l4.0 0.8l4.0 0.8l3.8 1.3l3.5 1.9l3.5 2.1" stroke="#0bb2ca" stroke-width="1.1"/><path d="M446.1 -33.5l3.8 1.4l3.7 1.5l3.6 1.8l3.6 1.8l3.8 1.4l4.0 0.9l4.0 0.8l3.8 1.3l3.5 1.9l3.4 2.2" stroke="#4740e4" stroke-width="1.3" stroke-opacity="0.50"/><path d="M446.7 -35.0l3.8 1.4l3.7 1.5l3.6 1.8l3.6 1.8l3.8 1.4l4.0 0.9l4.0 0.8l3.8 1.3l3.5 1.9l3.4 2.2" stroke="#ebb834" stroke-width="1.2"/><path d="M501.9 -10.0l3.4 2.1l3.3 2.4l3.4 2.1l3.7 1.5l4.0 1.0l4.0 0.9l3.8 1.3l3.6 1.7l3.6 1.7l3.8 1.4l3.8 1.2l3.7 1.6l3.4 2.2l3.3 2.5l3.4 2.3l3.6 1.7" stroke="#4740e4" stroke-width="1.3" stroke-opacity="0.50"/><path d="M502.6 -11.4l3.4 2.1l3.3 2.4l3.4 2.1l3.7 1.5l4.0 1.0l4.0 0.9l3.8 1.3l3.6 1.7l3.6 1.7l3.8 1.4l3.8 1.2l3.7 1.6l3.4 2.2l3.3 2.5l3.4 2.3l3.6 1.7" stroke="#fab23e" stroke-width="1.0"/><path d="M395.9 -50.1l3.7 1.6l3.6 1.7l3.8 1.4l3.9 1.1l3.8 1.3l3.5 1.9l3.3 2.4l3.3 2.4l3.5 1.9" stroke="#4740e4" stroke-width="1.3" stroke-opacity="0.50"/><path d="M396.5 -51.6l3.7 1.6l3.6 1.7l3.8 1.4l3.9 1.1l3.8 1.3l3.5 1.9l3.3 2.4l3.3 2.4l3.5 1.9" stroke="#17bbb6" stroke-width="1.6"/><path d="M453.5 -23.9l3.7 1.6l3.7 1.6l3.5 1.9l3.5 2.1l3.6 1.8l3.8 1.2l4.0 0.8l4.0 0.9l3.7 1.4l3.5 1.9l3.5 1.9l3.6 1.7l3.7 1.5l3.6 1.7l3.4 2.2l3.3 2.4l3.5 2.1" stroke="#4740e4" stroke-width="1.3" stroke-opacity="0.50"/><path d="M454.2 -25.4l3.7 1.6l3.7 1.6l3.5 1.9l3.5 2.1l3.6 1.8l3.8 1.2l4.0 0.8l4.0 0.9l3.7 1.4l3.5 1.9l3.5 1.9l3.6 1.7l3.7 1.5l3.6 1.7l3.4 2.2l3.3 2.4l3.5 2.1" stroke="#f7b33c" stroke-width="1.2"/><path d="M542.7 14.7l3.4 2.2l3.3 2.4l3.4 2.1l3.7 1.5l3.9 1.0l3.9 1.1l3.7 1.4l3.6 1.7l3.7 1.5" stroke="#4740e4" stroke-width="1.3" stroke-opacity="0.50"/><path d="M543.4 13.2l3.4 2.2l3.3 2.4l3.4 2.1l3.7 1.5l3.9 1.0l3.9 1.1l3.7 1.4l3.6 1.7l3.7 1.5" stroke="#f8b33d" stroke-width="1.1"/><path d="M392.6 -42.6l3.9 1.0l3.8 1.3l3.6 1.6l3.7 1.6l3.8 1.3l3.9 1.1l3.8 1.4l3.5 2.0" stroke="#4740e4" stroke-width="1.3" stroke-opacity="0.50"/><path d="M393.2 -44.1l3.9 1.0l3.8 1.3l3.6 1.6l3.7 1.6l3.8 1.3l3.9 1.1l3.8 1.4l3.5 2.0" stroke="#12a6d8" stroke-width="1.6"/><path d="M439.9 -23.7l3.6 1.7l3.5 2.0l3.6 1.8l3.7 1.5l3.7 1.6l3.5 2.0l3.3 2.4l3.4 2.3l3.6 1.7l3.9 1.1l4.0 0.9l3.8 1.2" stroke="#4740e4" stroke-width="1.3" stroke-opacity="0.50"/><path d="M440.6 -25.2l3.6 1.7l3.5 2.0l3.6 1.8l3.7 1.5l3.7 1.6l3.5 2.0l3.3 2.4l3.4 2.3l3.6 1.7l3.9 1.1l4.0 0.9l3.8 1.2" stroke="#e2bb31" stroke-width="1.2"/><path d="M496.9 2.4l3.9 1.0l3.8 1.3l3.5 2.0l3.3 2.4l3.3 2.3l3.6 1.9l3.7 1.5l3.7 1.5l3.6 1.8l3.5 1.9l3.7 1.5l3.9 1.0" stroke="#4740e4" stroke-width="1.3" stroke-opacity="0.50"/><path d="M497.5 0.9l3.9 1.0l3.8 1.3l3.5 2.0l3.3 2.4l3.3 2.3l3.6 1.9l3.7 1.5l3.7 1.5l3.6 1.8l3.5 1.9l3.7 1.5l3.9 1.0" stroke="#f4b53a" stroke-width="1.3"/><path d="M564.0 31.3l3.4 2.2l3.4 2.2l3.5 1.9l3.7 1.6l3.6 1.7l3.5 2.0l3.4 2.1l3.6 1.8l3.9 1.2l4.0 0.8l4.0 0.9l3.7 1.5" stroke="#4740e4" stroke-width="1.3" stroke-opacity="0.50"/><path d="M564.6 29.8l3.4 2.2l3.4 2.2l3.5 1.9l3.7 1.6l3.6 1.7l3.5 2.0l3.4 2.1l3.6 1.8l3.9 1.2l4.0 0.8l4.0 0.9l3.7 1.5" stroke="#edb835" stroke-width="1.3"/><path d="M390.1 -37.1l3.8 1.4l3.6 1.7l3.4 2.2l3.3 2.5l3.4 2.2l3.7 1.6l3.9 1.1l3.9 1.2l3.7 1.5l3.6 1.7l3.7 1.5l3.9 1.1l3.9 1.0l3.7 1.4l3.5 2.1l3.3 2.4" stroke="#4740e4" stroke-width="1.3" stroke-opacity="0.50"/><path d="M390.7 -38.6l3.8 1.4l3.6 1.7l3.4 2.2l3.3 2.5l3.4 2.2l3.7 1.6l3.9 1.1l3.9 1.2l3.7 1.5l3.6 1.7l3.7 1.5l3.9 1.1l3.9 1.0l3.7 1.4l3.5 2.1l3.3 2.4" stroke="#0eb6c2" stroke-width="1.5"/><path d="M460.3 -5.2l3.6 1.8l3.4 2.1l3.4 2.2l3.6 1.8l3.9 1.1l4.0 0.8l3.9 1.0l3.7 1.5l3.6 1.8l3.6 1.7l3.7 1.5l3.7 1.4" stroke="#4740e4" stroke-width="1.3" stroke-opacity="0.50"/><path d="M461.0 -6.7l3.6 1.8l3.4 2.1l3.4 2.2l3.6 1.8l3.9 1.1l4.0 0.8l3.9 1.0l3.7 1.5l3.6 1.8l3.6 1.7l3.7 1.5l3.7 1.4" stroke="#edb835" stroke-width="1.1"/><path d="M510.8 18.0l3.9 1.0l4.0 0.8l3.9 1.2l3.6 1.8l3.4 2.2l3.4 2.2l3.6 1.8l3.7 1.6l3.6 1.8l3.4 2.1l3.4 2.1l3.6 1.6" stroke="#4740e4" stroke-width="1.3" stroke-opacity="0.50"/><path d="M511.4 16.5l3.9 1.0l4.0 0.8l3.9 1.2l3.6 1.8l3.4 2.2l3.4 2.2l3.6 1.8l3.7 1.6l3.6 1.8l3.4 2.1l3.4 2.1l3.6 1.6" stroke="#e7ba32" stroke-width="1.4"/><path d="M561.8 39.5l3.6 1.7l3.6 1.7l3.7 1.4l3.8 1.3l3.7 1.5l3.4 2.1l3.3 2.5l3.3 2.3l3.6 1.8l3.8 1.3" stroke="#4740e4" stroke-width="1.3" stroke-opacity="0.50"/><path d="M562.5 38.0l3.6 1.7l3.6 1.7l3.7 1.4l3.8 1.3l3.7 1.5l3.4 2.1l3.3 2.5l3.3 2.3l3.6 1.8l3.8 1.3" stroke="#f1b638" stroke-width="1.5"/><path d="M387.1 -30.4l3.6 1.7l3.6 1.8l3.7 1.5l3.9 1.0l4.0 0.8l3.9 1.2l3.6 1.8l3.4 2.2l3.4 2.2l3.6 1.8l3.7 1.6l3.6 1.7" stroke="#4740e4" stroke-width="1.3" stroke-opacity="0.50"/><path d="M387.8 -31.9l3.6 1.7l3.6 1.8l3.7 1.5l3.9 1.0l4.0 0.8l3.9 1.2l3.6 1.8l3.4 2.2l3.4 2.2l3.6 1.8l3.7 1.6l3.6 1.7" stroke="#0cb5c5" stroke-width="1.4"/><path d="M453.3 -1.1l3.6 1.7l3.7 1.6l3.9 1.1l4.0 0.9l3.9 1.2l3.6 1.8l3.3 2.3l3.4 2.3l3.5 1.9l3.7 1.6" stroke="#4740e4" stroke-width="1.3" stroke-opacity="0.50"/><path d="M454.0 -2.6l3.6 1.7l3.7 1.6l3.9 1.1l4.0 0.9l3.9 1.2l3.6 1.8l3.3 2.3l3.4 2.3l3.5 1.9l3.7 1.6" stroke="#edb835" stroke-width="1.6"/><path d="M495.5 18.2l3.7 1.5l3.7 1.4l3.6 1.7l3.5 1.9l3.6 1.7l3.9 1.1l4.0 0.8l4.0 1.0l3.7 1.6l3.4 2.1l3.4 2.2" stroke="#4740e4" stroke-width="1.3" stroke-opacity="0.50"/><path d="M496.1 16.7l3.7 1.5l3.7 1.4l3.6 1.7l3.5 1.9l3.6 1.7l3.9 1.1l4.0 0.8l4.0 1.0l3.7 1.6l3.4 2.1l3.4 2.2" stroke="#e5ba32" stroke-width="1.4"/><path d="M554.1 42.2l3.8 1.4l3.5 2.0l3.4 2.2l3.5 2.0l3.7 1.6l3.7 1.6l3.5 2.0l3.4 2.2l3.5 2.0" stroke="#4740e4" stroke-width="1.3" stroke-opacity="0.50"/><path d="M554.8 40.7l3.8 1.4l3.5 2.0l3.4 2.2l3.5 2.0l3.7 1.6l3.7 1.6l3.5 2.0l3.4 2.2l3.5 2.0" stroke="#edb835" stroke-width="1.1"/><path d="M384.4 -24.3l4.0 1.0l4.0 0.8l3.9 1.2l3.6 1.8l3.4 2.2l3.5 2.0l3.6 1.7l3.7 1.6l3.6 1.8l3.4 2.2l3.4 2.2l3.6 1.7l3.9 1.0l4.0 0.8l3.9 1.1" stroke="#4740e4" stroke-width="1.3" stroke-opacity="0.50"/><path d="M385.0 -25.7l4.0 1.0l4.0 0.8l3.9 1.2l3.6 1.8l3.4 2.2l3.5 2.0l3.6 1.7l3.7 1.6l3.6 1.8l3.4 2.2l3.4 2.2l3.6 1.7l3.9 1.0l4.0 0.8l3.9 1.1" stroke="#0cb1cc" stroke-width="1.3"/><path d="M452.1 6.0l3.7 1.6l3.9 1.1l4.0 0.8l3.9 1.0l3.7 1.6l3.4 2.1l3.4 2.1l3.6 1.8l3.7 1.6l3.6 1.8" stroke="#4740e4" stroke-width="1.3" stroke-opacity="0.50"/><path d="M452.7 4.6l3.7 1.6l3.9 1.1l4.0 0.8l3.9 1.0l3.7 1.6l3.4 2.1l3.4 2.1l3.6 1.8l3.7 1.6l3.6 1.8" stroke="#f3b539" stroke-width="1.0"/><path d="M503.1 26.4l3.7 1.4l3.5 2.0l3.4 2.3l3.5 2.0l3.6 1.7l3.7 1.6l3.5 1.9l3.4 2.2l3.5 2.0l3.8 1.4l4.0 0.9l4.0 0.8l3.8 1.3l3.6 1.8l3.5 1.9" stroke="#4740e4" stroke-width="1.3" stroke-opacity="0.50"/><path d="M503.8 24.9l3.7 1.4l3.5 2.0l3.4 2.3l3.5 2.0l3.6 1.7l3.7 1.6l3.5 1.9l3.4 2.2l3.5 2.0l3.8 1.4l4.0 0.9l4.0 0.8l3.8 1.3l3.6 1.8l3.5 1.9" stroke="#f2b639" stroke-width="1.2"/><path d="M381.3 -17.4l3.9 1.1l4.0 0.9l3.8 1.2l3.6 1.9l3.3 2.3l3.4 2.3l3.5 1.9l3.7 1.5l3.7 1.6l3.5 1.9l3.5 2.0" stroke="#4740e4" stroke-width="1.3" stroke-opacity="0.50"/><path d="M382.0 -18.9l3.9 1.1l4.0 0.9l3.8 1.2l3.6 1.9l3.3 2.3l3.4 2.3l3.5 1.9l3.7 1.5l3.7 1.6l3.5 1.9l3.5 2.0" stroke="#11a7d7" stroke-width="1.0"/><path d="M442.9 10.4l4.0 0.8l3.9 1.2l3.6 1.6l3.6 1.8l3.7 1.6l3.8 1.3l3.7 1.5l3.5 2.0" stroke="#4740e4" stroke-width="1.3" stroke-opacity="0.50"/><path d="M443.5 8.9l4.0 0.8l3.9 1.2l3.6 1.6l3.6 1.8l3.7 1.6l3.8 1.3l3.7 1.5l3.5 2.0" stroke="#91c34a" stroke-width="1.3"/><path d="M490.9 30.8l3.4 2.3l3.6 1.8l3.7 1.5l3.7 1.5l3.6 1.8l3.5 1.9" stroke="#4740e4" stroke-width="1.3" stroke-opacity="0.50"/><path d="M491.6 29.3l3.4 2.3l3.6 1.8l3.7 1.5l3.7 1.5l3.6 1.8l3.5 1.9" stroke="#fab53c" stroke-width="1.0"/><path d="M533.9 51.6l3.7 1.4l3.9 1.1l3.8 1.3l3.7 1.6l3.6 1.6l3.8 1.3l3.9 1.0l3.9 1.1l3.6 1.7l3.4 2.3l3.3 2.4l3.5 2.1l3.7 1.6l3.7 1.5l3.6 1.7l3.5 1.9l3.6 1.8" stroke="#4740e4" stroke-width="1.3" stroke-opacity="0.50"/><path d="M534.5 50.1l3.7 1.4l3.9 1.1l3.8 1.3l3.7 1.6l3.6 1.6l3.8 1.3l3.9 1.0l3.9 1.1l3.6 1.7l3.4 2.3l3.3 2.4l3.5 2.1l3.7 1.6l3.7 1.5l3.6 1.7l3.5 1.9l3.6 1.8" stroke="#f4b53a" stroke-width="1.1"/><path d="M377.9 -9.8l3.9 1.0l4.0 1.0l3.8 1.3l3.6 1.7l3.7 1.6l3.8 1.3l3.8 1.2l3.7 1.5l3.4 2.1l3.3 2.5l3.3 2.3l3.6 1.8l3.8 1.3l3.8 1.3l3.7 1.6" stroke="#4740e4" stroke-width="1.3" stroke-opacity="0.50"/><path d="M378.6 -11.3l3.9 1.0l4.0 1.0l3.8 1.3l3.6 1.7l3.7 1.6l3.8 1.3l3.8 1.2l3.7 1.5l3.4 2.1l3.3 2.5l3.3 2.3l3.6 1.8l3.8 1.3l3.8 1.3l3.7 1.6" stroke="#0fb6c1" stroke-width="1.1"/><path d="M457.6 24.8l3.7 1.6l3.9 1.2l4.0 0.8l3.9 1.0l3.6 1.7l3.4 2.2l3.4 2.3l3.5 1.9l3.7 1.6l3.6 1.6l3.5 2.0l3.4 2.1l3.6 1.8l3.9 1.2l4.0 0.8l4.0 0.9" stroke="#4740e4" stroke-width="1.3" stroke-opacity="0.50"/><path d="M458.3 23.4l3.7 1.6l3.9 1.2l4.0 0.8l3.9 1.0l3.6 1.7l3.4 2.2l3.4 2.3l3.5 1.9l3.7 1.6l3.6 1.6l3.5 2.0l3.4 2.1l3.6 1.8l3.9 1.2l4.0 0.8l4.0 0.9" stroke="#fab939" stroke-width="1.3"/><path d="M526.2 55.0l3.8 1.3l3.7 1.6l3.6 1.6l3.8 1.3l3.9 1.1l3.8 1.3l3.5 1.9l3.3 2.4l3.3 2.4" stroke="#4740e4" stroke-width="1.3" stroke-opacity="0.50"/><path d="M526.8 53.5l3.8 1.3l3.7 1.6l3.6 1.6l3.8 1.3l3.9 1.1l3.8 1.3l3.5 1.9l3.3 2.4l3.3 2.4" stroke="#f3b539" stroke-width="1.4"/><path d="M376.1 -5.7l3.5 2.0l3.5 2.1l3.6 1.8l3.7 1.6l3.6 1.7l3.4 2.1l3.3 2.3l3.5 2.0" stroke="#4740e4" stroke-width="1.3" stroke-opacity="0.50"/><path d="M376.7 -7.1l3.5 2.0l3.5 2.1l3.6 1.8l3.7 1.6l3.6 1.7l3.4 2.1l3.3 2.3l3.5 2.0" stroke="#0eadd0" stroke-width="1.2"/><path d="M425.5 18.6l4.0 0.8l4.0 0.9l3.8 1.4l3.5 1.9l3.5 2.0l3.6 1.7l3.7 1.5l3.6 1.7" stroke="#4740e4" stroke-width="1.3" stroke-opacity="0.50"/><path d="M426.1 17.1l4.0 0.8l4.0 0.9l3.8 1.4l3.5 1.9l3.5 2.0l3.6 1.7l3.7 1.5l3.6 1.7" stroke="#61c46f" stroke-width="1.1"/><path d="M472.7 39.7l3.7 1.6l3.9 1.1l4.0 0.8l3.9 1.0l3.6 1.7l3.4 2.1l3.4 2.1l3.6 1.8l3.7 1.6l3.6 1.8l3.4 2.1l3.4 2.2l3.6 1.8l3.9 1.2l4.0 0.8l3.9 1.0l3.7 1.5" stroke="#4740e4" stroke-width="1.3" stroke-opacity="0.50"/><path d="M473.3 38.3l3.7 1.6l3.9 1.1l4.0 0.8l3.9 1.0l3.6 1.7l3.4 2.1l3.4 2.1l3.6 1.8l3.7 1.6l3.6 1.8l3.4 2.1l3.4 2.2l3.6 1.8l3.9 1.2l4.0 0.8l3.9 1.0l3.7 1.5" stroke="#faba39" stroke-width="1.4"/><path d="M372.7 2.0l3.7 1.6l3.6 1.8l3.6 1.7l3.9 1.2l4.0 0.8l4.0 1.0" stroke="#4740e4" stroke-width="1.3" stroke-opacity="0.50"/><path d="M373.3 0.6l3.7 1.6l3.6 1.8l3.6 1.7l3.9 1.2l4.0 0.8l4.0 1.0" stroke="#0daece" stroke-width="1.5"/><path d="M403.4 15.2l3.3 2.4l3.4 2.1l3.7 1.4l3.9 1.0l3.9 1.1l3.7 1.5" stroke="#4740e4" stroke-width="1.3" stroke-opacity="0.50"/><path d="M404.1 13.7l3.3 2.4l3.4 2.1l3.7 1.4l3.9 1.0l3.9 1.1l3.7 1.5" stroke="#26bfa5" stroke-width="1.5"/><path d="M442.8 33.1l4.0 1.0l3.8 1.4l3.6 1.7l3.6 1.7l3.8 1.4l3.8 1.3l3.6 1.7l3.4 2.2l3.3 2.5l3.4 2.2l3.7 1.6l3.9 1.2l3.8 1.2" stroke="#4740e4" stroke-width="1.3" stroke-opacity="0.50"/><path d="M443.5 31.6l4.0 1.0l3.8 1.4l3.6 1.7l3.6 1.7l3.8 1.4l3.8 1.3l3.6 1.7l3.4 2.2l3.3 2.5l3.4 2.2l3.7 1.6l3.9 1.2l3.8 1.2" stroke="#f4b53a" stroke-width="1.6"/><path d="M512.8 63.3l3.4 2.1l3.6 1.7l3.7 1.6l3.6 1.8l3.4 2.1l3.5 2.1l3.7 1.6l3.9 1.0l4.0 0.8l3.9 1.1l3.6 1.7l3.5 1.9l3.6 1.8l3.7 1.5l3.7 1.5l3.5 2.0" stroke="#4740e4" stroke-width="1.3" stroke-opacity="0.50"/><path d="M513.4 61.8l3.4 2.1l3.6 1.7l3.7 1.6l3.6 1.8l3.4 2.1l3.5 2.1l3.7 1.6l3.9 1.0l4.0 0.8l3.9 1.1l3.6 1.7l3.5 1.9l3.6 1.8l3.7 1.5l3.7 1.5l3.5 2.0" stroke="#ecb835" stroke-width="1.2"/><path d="M370.8 6.2l3.6 1.7l3.7 1.4l3.8 1.2l3.7 1.4l3.5 2.0l3.3 2.5l3.3 2.4l3.5 1.9l3.8 1.3l3.8 1.2l3.7 1.5l3.6 1.7l3.7 1.6l3.9 1.1l4.0 0.9l3.9 1.2" stroke="#4740e4" stroke-width="1.3" stroke-opacity="0.50"/><path d="M371.4 4.8l3.6 1.7l3.7 1.4l3.8 1.2l3.7 1.4l3.5 2.0l3.3 2.5l3.3 2.4l3.5 1.9l3.8 1.3l3.8 1.2l3.7 1.5l3.6 1.7l3.7 1.6l3.9 1.1l4.0 0.9l3.9 1.2" stroke="#14a2dc" stroke-width="1.1"/><path d="M446.4 39.9l3.3 2.5l3.4 2.1l3.7 1.6l3.8 1.3l3.7 1.5l3.6 1.7l3.6 1.7l3.8 1.3l4.0 0.9" stroke="#4740e4" stroke-width="1.3" stroke-opacity="0.50"/><path d="M447.1 38.5l3.3 2.5l3.4 2.1l3.7 1.6l3.8 1.3l3.7 1.5l3.6 1.7l3.6 1.7l3.8 1.3l4.0 0.9" stroke="#cabe2e" stroke-width="1.2"/><path d="M505.8 67.1l3.8 1.4l3.9 1.0l3.9 1.0l3.7 1.5l3.4 2.2l3.3 2.4l3.4 2.1l3.6 1.7l3.7 1.5" stroke="#4740e4" stroke-width="1.3" stroke-opacity="0.50"/><path d="M506.4 65.7l3.8 1.4l3.9 1.0l3.9 1.0l3.7 1.5l3.4 2.2l3.3 2.4l3.4 2.1l3.6 1.7l3.7 1.5" stroke="#fabe36" stroke-width="1.2"/><path d="M366.9 15.0l3.8 1.4l3.9 1.0l3.9 1.0l3.7 1.5l3.4 2.1l3.3 2.4l3.4 2.1l3.6 1.7l3.7 1.5l3.6 1.7l3.5 2.0l3.5 1.9" stroke="#4740e4" stroke-width="1.3" stroke-opacity="0.50"/><path d="M367.5 13.5l3.8 1.4l3.9 1.0l3.9 1.0l3.7 1.5l3.4 2.1l3.3 2.4l3.4 2.1l3.6 1.7l3.7 1.5l3.6 1.7l3.5 2.0l3.5 1.9" stroke="#179edf" stroke-width="1.2"/><path d="M418.2 39.0l3.8 1.3l4.0 0.8l4.0 0.9l3.8 1.3l3.6 1.8l3.6 1.8" stroke="#4740e4" stroke-width="1.3" stroke-opacity="0.50"/><path d="M418.8 37.5l3.8 1.3l4.0 0.8l4.0 0.9l3.8 1.3l3.6 1.8l3.6 1.8" stroke="#22bfa8" stroke-width="1.3"/><path d="M466.2 59.5l3.6 1.8l3.7 1.5l4.0 0.9l4.0 0.8l3.8 1.2l3.6 1.8l3.4 2.2l3.5 2.1l3.6 1.7l3.7 1.6l3.6 1.8" stroke="#4740e4" stroke-width="1.3" stroke-opacity="0.50"/><path d="M466.9 58.1l3.6 1.8l3.7 1.5l4.0 0.9l4.0 0.8l3.8 1.2l3.6 1.8l3.4 2.2l3.5 2.1l3.6 1.7l3.7 1.6l3.6 1.8" stroke="#eeb736" stroke-width="1.5"/><path d="M527.7 86.9l3.7 1.5l3.6 1.7l3.5 1.9l3.6 1.8l3.8 1.3l4.0 0.8l4.0 0.9l3.8 1.4l3.5 2.0l3.4 2.1l3.5 1.9" stroke="#4740e4" stroke-width="1.3" stroke-opacity="0.50"/><path d="M528.3 85.4l3.7 1.5l3.6 1.7l3.5 1.9l3.6 1.8l3.8 1.3l4.0 0.8l4.0 0.9l3.8 1.4l3.5 2.0l3.4 2.1l3.5 1.9" stroke="#f9b23e" stroke-width="1.5"/><path d="M364.2 21.0l3.6 1.7l3.9 1.1l4.0 0.8l3.9 1.0l3.7 1.5l3.5 1.9l3.5 1.9l3.7 1.6l3.7 1.5" stroke="#4740e4" stroke-width="1.3" stroke-opacity="0.50"/><path d="M364.8 19.6l3.6 1.7l3.9 1.1l4.0 0.8l3.9 1.0l3.7 1.5l3.5 1.9l3.5 1.9l3.7 1.6l3.7 1.5" stroke="#199be1" stroke-width="1.3"/><path d="M421.7 45.1l3.6 1.7l3.7 1.6l3.6 1.8l3.4 2.2l3.4 2.2l3.6 1.7l3.9 1.1l4.0 0.8" stroke="#4740e4" stroke-width="1.3" stroke-opacity="0.50"/><path d="M422.3 43.7l3.6 1.7l3.7 1.6l3.6 1.8l3.4 2.2l3.4 2.2l3.6 1.7l3.9 1.1l4.0 0.8" stroke="#62c46e" stroke-width="1.0"/><path d="M479.3 70.1l3.7 1.6l3.5 2.1l3.3 2.5l3.3 2.3l3.6 1.7l3.8 1.2l3.9 1.1l3.8 1.4l3.6 1.7l3.7 1.6l3.8 1.2l3.9 1.0" stroke="#4740e4" stroke-width="1.3" stroke-opacity="0.50"/><path d="M480.0 68.6l3.7 1.6l3.5 2.1l3.3 2.5l3.3 2.3l3.6 1.7l3.8 1.2l3.9 1.1l3.8 1.4l3.6 1.7l3.7 1.6l3.8 1.2l3.9 1.0" stroke="#fab23e" stroke-width="1.6"/><path d="M537.6 98.5l3.8 1.4l4.0 0.9l4.0 0.9l3.8 1.3l3.6 1.7l3.6 1.8l3.7 1.5l3.8 1.4l3.7 1.6l3.4 2.2" stroke="#4740e4" stroke-width="1.3" stroke-opacity="0.50"/><path d="M538.2 97.1l3.8 1.4l4.0 0.9l4.0 0.9l3.8 1.3l3.6 1.7l3.6 1.8l3.7 1.5l3.8 1.4l3.7 1.6l3.4 2.2" stroke="#efb737" stroke-width="1.6"/><path d="M361.3 27.5l3.5 2.1l3.4 2.1l3.7 1.6l3.9 1.0l4.0 0.8l3.9 1.1l3.7 1.6l3.5 1.9l3.6 1.8" stroke="#4740e4" stroke-width="1.3" stroke-opacity="0.50"/><path d="M362.0 26.0l3.5 2.1l3.4 2.1l3.7 1.6l3.9 1.0l4.0 0.8l3.9 1.1l3.7 1.6l3.5 1.9l3.6 1.8" stroke="#189de0" stroke-width="1.3"/><path d="M415.5 50.4l3.4 2.2l3.3 2.5l3.4 2.2l3.7 1.6l3.9 1.1l3.9 1.1l3.7 1.4l3.6 1.7l3.7 1.5l3.9 1.2l3.9 1.1l3.7 1.4" stroke="#4740e4" stroke-width="1.3" stroke-opacity="0.50"/><path d="M416.2 48.9l3.4 2.2l3.3 2.5l3.4 2.2l3.7 1.6l3.9 1.1l3.9 1.1l3.7 1.4l3.6 1.7l3.7 1.5l3.9 1.2l3.9 1.1l3.7 1.4" stroke="#60c46f" stroke-width="1.2"/><path d="M484.6 81.5l3.8 1.3l3.8 1.3l3.6 1.7l3.4 2.3l3.3 2.5l3.4 2.2l3.7 1.5l3.9 1.2l3.8 1.3l3.7 1.6" stroke="#4740e4" stroke-width="1.3" stroke-opacity="0.50"/><path d="M485.2 80.1l3.8 1.3l3.8 1.3l3.6 1.7l3.4 2.3l3.3 2.5l3.4 2.2l3.7 1.5l3.9 1.2l3.8 1.3l3.7 1.6" stroke="#e8ba32" stroke-width="1.2"/><path d="M530.3 101.7l3.9 1.1l3.7 1.4l3.5 2.1l3.3 2.5l3.4 2.3l3.6 1.8l3.7 1.4l3.7 1.5l3.6 1.7l3.6 1.8l3.7 1.5l3.9 1.0l4.0 0.8l3.9 1.2" stroke="#4740e4" stroke-width="1.3" stroke-opacity="0.50"/><path d="M530.9 100.3l3.9 1.1l3.7 1.4l3.5 2.1l3.3 2.5l3.4 2.3l3.6 1.8l3.7 1.4l3.7 1.5l3.6 1.7l3.6 1.8l3.7 1.5l3.9 1.0l4.0 0.8l3.9 1.2" stroke="#ebb934" stroke-width="1.5"/><path d="M358.6 33.6l3.8 1.4l3.9 1.0l3.9 1.0l3.7 1.5l3.4 2.2l3.3 2.4l3.4 2.1l3.6 1.7l3.7 1.5l3.6 1.7l3.5 1.9l3.6 1.8l3.8 1.3l4.0 0.8" stroke="#4740e4" stroke-width="1.3" stroke-opacity="0.50"/><path d="M359.3 32.1l3.8 1.4l3.9 1.0l3.9 1.0l3.7 1.5l3.4 2.2l3.3 2.4l3.4 2.1l3.6 1.7l3.7 1.5l3.6 1.7l3.5 1.9l3.6 1.8l3.8 1.3l4.0 0.8" stroke="#14a2dc" stroke-width="1.4"/><path d="M421.7 60.6l3.4 2.1l3.3 2.4l3.4 2.2l3.7 1.6l3.9 1.1l3.9 1.0" stroke="#4740e4" stroke-width="1.3" stroke-opacity="0.50"/><path d="M422.4 59.2l3.4 2.1l3.3 2.4l3.4 2.2l3.7 1.6l3.9 1.1l3.9 1.0" stroke="#2cc09e" stroke-width="1.6"/><path d="M460.5 79.5l3.7 1.5l3.9 1.0l4.0 0.8l3.9 1.2l3.6 1.8l3.4 2.2l3.4 2.1l3.6 1.8" stroke="#4740e4" stroke-width="1.3" stroke-opacity="0.50"/><path d="M461.1 78.1l3.7 1.5l3.9 1.0l4.0 0.8l3.9 1.2l3.6 1.8l3.4 2.2l3.4 2.1l3.6 1.8" stroke="#eeb736" stroke-width="1.1"/><path d="M496.5 95.3l3.6 1.8l3.6 1.7l3.8 1.3l4.0 0.8l4.0 0.9l3.7 1.4l3.5 2.0l3.4 2.2l3.5 1.9l3.7 1.6l3.6 1.6" stroke="#4740e4" stroke-width="1.3" stroke-opacity="0.50"/><path d="M497.2 93.8l3.6 1.8l3.6 1.7l3.8 1.3l4.0 0.8l4.0 0.9l3.7 1.4l3.5 2.0l3.4 2.2l3.5 1.9l3.7 1.6l3.6 1.6" stroke="#f1b638" stroke-width="1.4"/><path d="M355.9 39.7l3.4 2.2l3.7 1.5l3.9 1.0l3.9 1.0l3.8 1.4l3.6 1.7l3.7 1.6l3.8 1.3" stroke="#4740e4" stroke-width="1.3" stroke-opacity="0.50"/><path d="M356.6 38.2l3.4 2.2l3.7 1.5l3.9 1.0l3.9 1.0l3.8 1.4l3.6 1.7l3.7 1.6l3.8 1.3" stroke="#1a9ae2" stroke-width="1.0"/><path d="M409.4 64.0l3.6 1.7l3.9 1.1l4.0 0.8l3.9 1.0l3.7 1.6l3.5 1.9l3.6 1.8l3.7 1.5l3.7 1.5l3.5 1.9l3.3 2.3l3.3 2.4" stroke="#4740e4" stroke-width="1.3" stroke-opacity="0.50"/><path d="M410.0 62.5l3.6 1.7l3.9 1.1l4.0 0.8l3.9 1.0l3.7 1.6l3.5 1.9l3.6 1.8l3.7 1.5l3.7 1.5l3.5 1.9l3.3 2.3l3.3 2.4" stroke="#3ac291" stroke-width="1.3"/><path d="M476.3 92.4l3.6 1.7l3.8 1.4l3.9 1.1l3.9 1.1l3.7 1.6l3.4 2.2l3.3 2.5l3.4 2.1" stroke="#4740e4" stroke-width="1.3" stroke-opacity="0.50"/><path d="M476.9 90.9l3.6 1.7l3.8 1.4l3.9 1.1l3.9 1.1l3.7 1.6l3.4 2.2l3.3 2.5l3.4 2.1" stroke="#ddbc31" stroke-width="1.2"/><path d="M526.3 113.7l3.7 1.6l3.5 1.9l3.6 1.8l3.7 1.5l3.7 1.5l3.5 1.9l3.3 2.3" stroke="#4740e4" stroke-width="1.3" stroke-opacity="0.50"/><path d="M527.0 112.3l3.7 1.6l3.5 1.9l3.6 1.8l3.7 1.5l3.7 1.5l3.5 1.9l3.3 2.3" stroke="#f3b539" stroke-width="1.5"/><path d="M352.9 46.5l3.5 2.1l3.6 1.7l3.9 1.1l4.0 0.8l3.9 1.0l3.7 1.6l3.5 2.0l3.5 1.9" stroke="#4740e4" stroke-width="1.3" stroke-opacity="0.50"/><path d="M353.5 45.0l3.5 2.1l3.6 1.7l3.9 1.1l4.0 0.8l3.9 1.0l3.7 1.6l3.5 2.0l3.5 1.9" stroke="#13a4da" stroke-width="1.2"/><path d="M389.1 61.0l3.4 2.3l3.5 2.0l3.7 1.6l3.7 1.6l3.5 1.9l3.4 2.1l3.6 1.8l3.8 1.2l4.0 0.8l4.0 0.9l3.7 1.4l3.5 1.9l3.5 1.9" stroke="#4740e4" stroke-width="1.3" stroke-opacity="0.50"/><path d="M389.7 59.5l3.4 2.3l3.5 2.0l3.7 1.6l3.7 1.6l3.5 1.9l3.4 2.1l3.6 1.8l3.8 1.2l4.0 0.8l4.0 0.9l3.7 1.4l3.5 1.9l3.5 1.9" stroke="#0cb5c5" stroke-width="1.4"/><path d="M460.1 92.3l3.8 1.2l3.5 1.9l3.3 2.3l3.4 2.3l3.6 1.8l3.7 1.5l3.7 1.6l3.5 1.9" stroke="#4740e4" stroke-width="1.3" stroke-opacity="0.50"/><path d="M460.8 90.9l3.8 1.2l3.5 1.9l3.3 2.3l3.4 2.3l3.6 1.8l3.7 1.5l3.7 1.6l3.5 1.9" stroke="#d1bd2f" stroke-width="1.5"/><path d="M501.7 111.0l3.5 1.9l3.6 1.7l3.7 1.5l3.7 1.6l3.4 2.1l3.3 2.4l3.4 2.2l3.7 1.6l3.9 1.1l3.9 1.0l3.8 1.3l3.6 1.7l3.7 1.6l3.8 1.3l3.9 1.1" stroke="#4740e4" stroke-width="1.3" stroke-opacity="0.50"/><path d="M502.3 109.6l3.5 1.9l3.6 1.7l3.7 1.5l3.7 1.6l3.4 2.1l3.3 2.4l3.4 2.2l3.7 1.6l3.9 1.1l3.9 1.0l3.8 1.3l3.6 1.7l3.7 1.6l3.8 1.3l3.9 1.1" stroke="#dbbc30" stroke-width="1.1"/><path d="M350.2 52.6l3.6 1.7l3.7 1.6l3.5 1.9l3.4 2.2l3.4 2.1l3.7 1.6l3.9 1.0l4.0 0.8l3.9 1.2l3.6 1.7l3.6 1.8l3.6 1.6l3.8 1.4l3.7 1.5l3.5 2.0" stroke="#4740e4" stroke-width="1.3" stroke-opacity="0.50"/><path d="M350.8 51.1l3.6 1.7l3.7 1.6l3.5 1.9l3.4 2.2l3.4 2.1l3.7 1.6l3.9 1.0l4.0 0.8l3.9 1.2l3.6 1.7l3.6 1.8l3.6 1.6l3.8 1.4l3.7 1.5l3.5 2.0" stroke="#0faad3" stroke-width="1.4"/><path d="M418.2 84.0l3.7 1.4l3.8 1.4l3.6 1.7l3.6 1.8l3.7 1.6l3.9 1.1l4.0 0.8" stroke="#4740e4" stroke-width="1.3" stroke-opacity="0.50"/><path d="M418.8 82.6l3.7 1.4l3.8 1.4l3.6 1.7l3.6 1.8l3.7 1.6l3.9 1.1l4.0 0.8" stroke="#32c198" stroke-width="1.2"/><path d="M451.2 97.1l3.9 1.0l3.7 1.6l3.5 2.1l3.5 2.1l3.6 1.8l3.7 1.6l3.6 1.8l3.4 2.1l3.4 2.3l3.5 1.9l3.8 1.2l4.0 0.8l3.9 1.0l3.7 1.5l3.6 1.8l3.6 1.7" stroke="#4740e4" stroke-width="1.3" stroke-opacity="0.50"/><path d="M451.9 95.6l3.9 1.0l3.7 1.6l3.5 2.1l3.5 2.1l3.6 1.8l3.7 1.6l3.6 1.8l3.4 2.1l3.4 2.3l3.5 1.9l3.8 1.2l4.0 0.8l3.9 1.0l3.7 1.5l3.6 1.8l3.6 1.7" stroke="#fab43d" stroke-width="1.0"/><path d="M346.8 60.0l3.8 1.3l3.7 1.5l3.6 1.8l3.6 1.7l3.8 1.3l4.0 0.9l4.0 0.9l3.7 1.4l3.5 2.1l3.4 2.3l3.5 2.0l3.6 1.7" stroke="#4740e4" stroke-width="1.3" stroke-opacity="0.50"/><path d="M347.5 58.6l3.8 1.3l3.7 1.5l3.6 1.8l3.6 1.7l3.8 1.3l4.0 0.9l4.0 0.9l3.7 1.4l3.5 2.1l3.4 2.3l3.5 2.0l3.6 1.7" stroke="#1c97e4" stroke-width="1.1"/><path d="M403.1 84.6l3.6 1.7l3.5 1.9l3.7 1.6l3.9 1.1l4.0 0.8l3.9 1.0l3.7 1.6l3.4 2.1l3.4 2.1l3.6 1.8l3.7 1.6l3.6 1.7l3.4 2.1l3.4 2.2l3.6 1.8" stroke="#4740e4" stroke-width="1.3" stroke-opacity="0.50"/><path d="M403.8 83.1l3.6 1.7l3.5 1.9l3.7 1.6l3.9 1.1l4.0 0.8l3.9 1.0l3.7 1.6l3.4 2.1l3.4 2.1l3.6 1.8l3.7 1.6l3.6 1.7l3.4 2.1l3.4 2.2l3.6 1.8" stroke="#3ec28d" stroke-width="1.1"/><path d="M471.0 114.8l3.4 2.2l3.5 1.9l3.8 1.3l4.0 0.8l4.0 0.9l3.8 1.4l3.6 1.8l3.6 1.8l3.7 1.5l3.8 1.4" stroke="#4740e4" stroke-width="1.3" stroke-opacity="0.50"/><path d="M471.7 113.3l3.4 2.2l3.5 1.9l3.8 1.3l4.0 0.8l4.0 0.9l3.8 1.4l3.6 1.8l3.6 1.8l3.7 1.5l3.8 1.4" stroke="#f8b33d" stroke-width="1.1"/><path d="M344.4 65.6l3.7 1.6l3.7 1.5l3.6 1.7l3.5 1.9l3.6 1.7l3.8 1.2l4.0 0.8l4.0 0.9l3.7 1.4l3.5 2.0l3.4 2.1" stroke="#4740e4" stroke-width="1.3" stroke-opacity="0.50"/><path d="M345.0 64.1l3.7 1.6l3.7 1.5l3.6 1.7l3.5 1.9l3.6 1.7l3.8 1.2l4.0 0.8l4.0 0.9l3.7 1.4l3.5 2.0l3.4 2.1" stroke="#179edf" stroke-width="1.1"/><path d="M396.6 87.8l3.4 2.2l3.3 2.3l3.5 2.0l3.8 1.3l4.0 0.9l3.9 1.0l3.7 1.4l3.6 1.7" stroke="#4740e4" stroke-width="1.3" stroke-opacity="0.50"/><path d="M397.2 86.3l3.4 2.2l3.3 2.3l3.5 2.0l3.8 1.3l4.0 0.9l3.9 1.0l3.7 1.4l3.6 1.7" stroke="#15b9b9" stroke-width="1.2"/><path d="M434.9 105.6l3.7 1.5l3.9 1.0l4.0 0.9l3.8 1.3l3.5 2.0l3.3 2.4l3.4 2.2l3.6 1.8l3.7 1.5" stroke="#4740e4" stroke-width="1.3" stroke-opacity="0.50"/><path d="M435.6 104.2l3.7 1.5l3.9 1.0l4.0 0.9l3.8 1.3l3.5 2.0l3.3 2.4l3.4 2.2l3.6 1.8l3.7 1.5" stroke="#8cc44d" stroke-width="1.1"/><path d="M478.7 124.3l3.4 2.2l3.6 1.7l3.7 1.5l3.6 1.7l3.5 2.0l3.5 1.9l3.7 1.4l4.0 0.9l4.0 0.8" stroke="#4740e4" stroke-width="1.3" stroke-opacity="0.50"/><path d="M479.4 122.9l3.4 2.2l3.6 1.7l3.7 1.5l3.6 1.7l3.5 2.0l3.5 1.9l3.7 1.4l4.0 0.9l4.0 0.8" stroke="#e8ba32" stroke-width="1.0"/><path d="M342.3 70.2l3.6 1.8l3.4 2.2l3.4 2.1l3.6 1.8l3.7 1.6l3.6 1.8l3.4 2.1" stroke="#4740e4" stroke-width="1.3" stroke-opacity="0.50"/><path d="M342.9 68.8l3.6 1.8l3.4 2.2l3.4 2.1l3.6 1.8l3.7 1.6l3.6 1.8l3.4 2.1" stroke="#1d96e5" stroke-width="1.4"/><path d="M389.9 91.5l3.7 1.6l3.4 2.2l3.3 2.4l3.5 2.0l3.7 1.6l3.7 1.5l3.6 1.8l3.5 2.0l3.6 1.8l3.8 1.3l4.0 0.8l4.0 0.8l3.8 1.4l3.5 1.9l3.5 2.0" stroke="#4740e4" stroke-width="1.3" stroke-opacity="0.50"/><path d="M390.6 90.0l3.7 1.6l3.4 2.2l3.3 2.4l3.5 2.0l3.7 1.6l3.7 1.5l3.6 1.8l3.5 2.0l3.6 1.8l3.8 1.3l4.0 0.8l4.0 0.8l3.8 1.4l3.5 1.9l3.5 2.0" stroke="#1bbcb1" stroke-width="1.1"/><path d="M461.0 124.2l3.6 1.7l3.4 2.1l3.3 2.3l3.5 2.0l3.8 1.4l4.0 0.9l4.0 1.0l3.8 1.4" stroke="#4740e4" stroke-width="1.3" stroke-opacity="0.50"/><path d="M461.6 122.8l3.6 1.7l3.4 2.1l3.3 2.3l3.5 2.0l3.8 1.4l4.0 0.9l4.0 1.0l3.8 1.4" stroke="#dbbc30" stroke-width="1.0"/><path d="M509.9 147.9l3.8 1.4l3.9 1.1l3.8 1.3l3.7 1.6l3.6 1.6l3.8 1.3l3.9 1.0l3.9 1.2" stroke="#4740e4" stroke-width="1.3" stroke-opacity="0.50"/><path d="M510.5 146.5l3.8 1.4l3.9 1.1l3.8 1.3l3.7 1.6l3.6 1.6l3.8 1.3l3.9 1.0l3.9 1.2" stroke="#e8ba32" stroke-width="1.1"/><path d="M339.3 77.0l3.7 1.5l3.4 2.1l3.3 2.5l3.4 2.3l3.6 1.7l3.8 1.3l3.8 1.4l3.6 1.7l3.6 1.8l3.7 1.4l3.9 1.0l4.0 0.9l3.8 1.3l3.5 1.9" stroke="#4740e4" stroke-width="1.3" stroke-opacity="0.50"/><path d="M339.9 75.6l3.7 1.5l3.4 2.1l3.3 2.5l3.4 2.3l3.6 1.7l3.8 1.3l3.8 1.4l3.6 1.7l3.6 1.8l3.7 1.4l3.9 1.0l4.0 0.9l3.8 1.3l3.5 1.9" stroke="#1c97e4" stroke-width="1.2"/><path d="M413.4 109.9l3.3 2.3l3.3 2.4l3.5 2.0l3.7 1.5l3.7 1.4l3.6 1.7l3.5 1.9l3.6 1.7l3.9 1.2l4.0 0.8" stroke="#4740e4" stroke-width="1.3" stroke-opacity="0.50"/><path d="M414.0 108.5l3.3 2.3l3.3 2.4l3.5 2.0l3.7 1.5l3.7 1.4l3.6 1.7l3.5 1.9l3.6 1.7l3.9 1.2l4.0 0.8" stroke="#5ec471" stroke-width="1.1"/><path d="M458.5 130.9l3.6 1.7l3.7 1.6l3.8 1.3l3.8 1.2l3.6 1.6l3.4 2.2l3.3 2.5l3.4 2.2l3.7 1.6l3.8 1.3l3.8 1.3" stroke="#4740e4" stroke-width="1.3" stroke-opacity="0.50"/><path d="M459.2 129.5l3.6 1.7l3.7 1.6l3.8 1.3l3.8 1.2l3.6 1.6l3.4 2.2l3.3 2.5l3.4 2.2l3.7 1.6l3.8 1.3l3.8 1.3" stroke="#e9ba33" stroke-width="1.5"/><path d="M508.2 154.1l3.7 1.6l3.6 1.8l3.7 1.6l3.9 1.1l4.0 0.8l3.9 1.0l3.7 1.6l3.4 2.2l3.4 2.2" stroke="#4740e4" stroke-width="1.3" stroke-opacity="0.50"/><path d="M508.8 152.6l3.7 1.6l3.6 1.8l3.7 1.6l3.9 1.1l4.0 0.8l3.9 1.0l3.7 1.6l3.4 2.2l3.4 2.2" stroke="#fab939" stroke-width="1.2"/><path d="M336.5 83.2l3.7 1.5l3.6 1.9l3.6 1.8l3.7 1.5l3.7 1.5l3.6 1.8l3.4 2.3" stroke="#4740e4" stroke-width="1.3" stroke-opacity="0.50"/><path d="M337.2 81.7l3.7 1.5l3.6 1.9l3.6 1.8l3.7 1.5l3.7 1.5l3.6 1.8l3.4 2.3" stroke="#0ab3c9" stroke-width="1.2"/><path d="M370.3 99.0l3.7 1.6l3.6 1.7l3.5 2.0l3.4 2.3l3.5 2.0l3.8 1.4l4.0 0.9l4.0 0.9l3.8 1.3l3.6 1.8l3.6 1.8l3.7 1.5l3.8 1.4l3.6 1.7" stroke="#4740e4" stroke-width="1.3" stroke-opacity="0.50"/><path d="M371.0 97.5l3.7 1.6l3.6 1.7l3.5 2.0l3.4 2.3l3.5 2.0l3.8 1.4l4.0 0.9l4.0 0.9l3.8 1.3l3.6 1.8l3.6 1.8l3.7 1.5l3.8 1.4l3.6 1.7" stroke="#13a3db" stroke-width="1.4"/><path d="M445.5 132.3l3.3 2.4l3.5 1.9l3.7 1.5l3.7 1.5l3.6 1.7l3.6 1.9l3.7 1.6l3.9 1.1l4.0 0.8l3.9 1.1l3.6 1.7l3.4 2.2l3.4 2.1l3.6 1.8" stroke="#4740e4" stroke-width="1.3" stroke-opacity="0.50"/><path d="M446.2 130.9l3.3 2.4l3.5 1.9l3.7 1.5l3.7 1.5l3.6 1.7l3.6 1.9l3.7 1.6l3.9 1.1l4.0 0.8l3.9 1.1l3.6 1.7l3.4 2.2l3.4 2.1l3.6 1.8" stroke="#f0b637" stroke-width="1.1"/><path d="M333.3 90.4l3.7 1.5l3.6 1.7l3.5 1.9l3.6 1.8l3.8 1.3l4.0 0.8l4.0 0.8l3.8 1.3l3.5 1.9l3.4 2.1" stroke="#4740e4" stroke-width="1.3" stroke-opacity="0.50"/><path d="M334.0 88.9l3.7 1.5l3.6 1.7l3.5 1.9l3.6 1.8l3.8 1.3l4.0 0.8l4.0 0.8l3.8 1.3l3.5 1.9l3.4 2.1" stroke="#12a6d7" stroke-width="1.5"/><path d="M378.8 108.9l3.9 1.2l3.6 1.8l3.4 2.3l3.4 2.3l3.5 1.9l3.7 1.6l3.6 1.7l3.5 2.0l3.5 2.0l3.6 1.7" stroke="#4740e4" stroke-width="1.3" stroke-opacity="0.50"/><path d="M379.4 107.4l3.9 1.2l3.6 1.8l3.4 2.3l3.4 2.3l3.5 1.9l3.7 1.6l3.6 1.7l3.5 2.0l3.5 2.0l3.6 1.7" stroke="#0fabd2" stroke-width="1.6"/><path d="M438.4 137.2l3.7 1.5l3.7 1.6l3.6 1.8l3.5 2.0l3.7 1.6l3.9 1.1l4.0 0.8l3.9 1.0l3.7 1.6l3.5 2.1l3.5 2.0l3.6 1.7" stroke="#4740e4" stroke-width="1.3" stroke-opacity="0.50"/><path d="M439.0 135.7l3.7 1.5l3.7 1.6l3.6 1.8l3.5 2.0l3.7 1.6l3.9 1.1l4.0 0.8l3.9 1.0l3.7 1.6l3.5 2.1l3.5 2.0l3.6 1.7" stroke="#e3bb31" stroke-width="1.4"/><path d="M502.0 164.9l3.6 1.7l3.5 2.0l3.4 2.1l3.6 1.8l3.9 1.2l4.0 0.8l4.0 0.9l3.7 1.5l3.5 1.9l3.6 1.9" stroke="#4740e4" stroke-width="1.3" stroke-opacity="0.50"/><path d="M502.6 163.5l3.6 1.7l3.5 2.0l3.4 2.1l3.6 1.8l3.9 1.2l4.0 0.8l4.0 0.9l3.7 1.5l3.5 1.9l3.6 1.9" stroke="#eeb736" stroke-width="1.5"/><path d="M330.2 97.4l3.7 1.5l3.6 1.7l3.4 2.1l3.3 2.4l3.4 2.2l3.7 1.6l3.9 1.0l3.9 1.0l3.8 1.3l3.6 1.7l3.7 1.6l3.8 1.3l3.9 1.2l3.7 1.5" stroke="#4740e4" stroke-width="1.3" stroke-opacity="0.50"/><path d="M330.9 95.9l3.7 1.5l3.6 1.7l3.4 2.1l3.3 2.4l3.4 2.2l3.7 1.6l3.9 1.0l3.9 1.0l3.8 1.3l3.6 1.7l3.7 1.6l3.8 1.3l3.9 1.2l3.7 1.5" stroke="#1d97e5" stroke-width="1.4"/><path d="M403.5 130.8l4.0 0.8l3.9 1.1l3.6 1.7l3.4 2.1l3.5 2.0l3.6 1.7l3.7 1.6l3.5 1.9l3.4 2.2l3.4 2.2l3.6 1.7l3.9 1.1l4.0 0.8l3.9 1.1" stroke="#4740e4" stroke-width="1.3" stroke-opacity="0.50"/><path d="M404.2 129.3l4.0 0.8l3.9 1.1l3.6 1.7l3.4 2.1l3.5 2.0l3.6 1.7l3.7 1.6l3.5 1.9l3.4 2.2l3.4 2.2l3.6 1.7l3.9 1.1l4.0 0.8l3.9 1.1" stroke="#49c482" stroke-width="1.2"/><path d="M469.6 160.0l3.6 1.7l3.7 1.5l3.9 1.1l3.9 1.1l3.7 1.5l3.4 2.1l3.3 2.5l3.4 2.2l3.6 1.7l3.7 1.4l3.7 1.5l3.6 1.8l3.6 1.8l3.8 1.4l4.0 0.9l4.0 0.8" stroke="#4740e4" stroke-width="1.3" stroke-opacity="0.50"/><path d="M470.3 158.5l3.6 1.7l3.7 1.5l3.9 1.1l3.9 1.1l3.7 1.5l3.4 2.1l3.3 2.5l3.4 2.2l3.6 1.7l3.7 1.4l3.7 1.5l3.6 1.8l3.6 1.8l3.8 1.4l4.0 0.9l4.0 0.8" stroke="#ddbc31" stroke-width="1.1"/></g>
<line x1="458.6" y1="22.0" x2="432.5" y2="95.9" stroke="#ee1c1c" stroke-width="1.5"/>
<rect x="398.4" y="11.4" width="107.2" height="92.0" fill="none" stroke="#c4c4c4" stroke-width="0.7"/>
<text x="399.5" y="19.0" font-size="8.30" font-weight="bold">B1</text>
<text x="398.5" y="115.1" font-size="8.50" text-anchor="middle">572</text>
<text x="429.3" y="115.1" font-size="8.50" text-anchor="middle">574</text>
<text x="460.1" y="115.1" font-size="8.50" text-anchor="middle">576</text>
<text x="490.9" y="115.1" font-size="8.50" text-anchor="middle">578</text>
<text x="394.8" y="107.0" font-size="8.50" text-anchor="end">5810</text>
<text x="394.8" y="76.3" font-size="8.50" text-anchor="end">5812</text>
<text x="394.8" y="45.6" font-size="8.50" text-anchor="end">5814</text>
<text x="394.8" y="14.9" font-size="8.50" text-anchor="end">5816</text>
<text x="452.0" y="125.4" font-size="9.70" text-anchor="middle">easting [km]</text>
<text transform="translate(374.5,57.4) rotate(-90)" font-size="9.70" text-anchor="middle">northing [km]</text>
<rect x="509.1" y="11.4" width="6.4" height="92.0" fill="url(#cbB0)" filter="url(#par)"/>
<path d="M514.0 11.4h1.5M514.0 37.7h1.5M514.0 64.0h1.5M514.0 90.3h1.5" stroke="#aaa" stroke-width="0.5"/>
<text x="517.7" y="14.4" font-size="8.50">−20</text>
<text x="517.7" y="40.7" font-size="8.50">−22</text>
<text x="517.7" y="67.0" font-size="8.50">−24</text>
<text x="517.7" y="93.3" font-size="8.50">−26</text>
<text transform="translate(539.8,57.4) rotate(-90)" font-size="8.6" text-anchor="middle"><tspan font-style="italic">z</tspan><tspan font-size="5.6" dy="1.8" font-style="italic">b</tspan><tspan dy="-1.8" dx="2.5">[m]</tspan></text>
<g clip-path="url(#clipB1)"><g filter="url(#pb1)"><rect x="383.4" y="120.7" width="137.2" height="122.0" fill="url(#bb1)"/><rect x="383.4" y="120.7" width="137.2" height="122.0" fill="url(#sw1)" fill-opacity="0.60"/><rect x="383.4" y="120.7" width="137.2" height="122.0" fill="url(#sx1)" fill-opacity="0.40"/></g></g>
<g clip-path="url(#clipB1)" fill="none" stroke-linecap="round" stroke-linejoin="round" opacity="0.90"><path d="M391.2 70.9l3.8 1.2l3.7 1.4l4.0 0.6l3.9 0.9l3.3 2.6l3.1 3.3l3.6 1.9l4.1 0.5l3.9 0.9" stroke="#4634d1" stroke-width="1.4" stroke-opacity="0.60"/><path d="M391.8 69.4l3.8 1.2l3.7 1.4l4.0 0.6l3.9 0.9l3.3 2.6l3.1 3.3l3.6 1.9l4.1 0.5l3.9 0.9" stroke="#cdbe2f" stroke-width="1.2"/><path d="M432.9 85.2l3.8 1.2l3.2 2.8l3.1 3.1l3.7 1.5l4.2 0.2l4.0 0.8l3.7 1.4l4.0 0.7l4.3 0.0l3.8 1.2l3.2 2.9l3.2 2.9l3.7 1.4l3.9 1.0l3.6 1.8l3.7 1.6l4.2 0.0" stroke="#4634d1" stroke-width="1.4" stroke-opacity="0.60"/><path d="M433.4 83.7l3.8 1.2l3.2 2.8l3.1 3.1l3.7 1.5l4.2 0.2l4.0 0.8l3.7 1.4l4.0 0.7l4.3 0.0l3.8 1.2l3.2 2.9l3.2 2.9l3.7 1.4l3.9 1.0l3.6 1.8l3.7 1.6l4.2 0.0" stroke="#60c46f" stroke-width="1.2"/><path d="M507.6 115.9l4.1 0.5l4.5 -0.6l4.1 0.5l3.5 2.1l3.5 2.0l3.8 1.2l3.6 1.8l3.2 2.9l3.4 2.4" stroke="#4634d1" stroke-width="1.4" stroke-opacity="0.60"/><path d="M508.1 114.4l4.1 0.5l4.5 -0.6l4.1 0.5l3.5 2.1l3.5 2.0l3.8 1.2l3.6 1.8l3.2 2.9l3.4 2.4" stroke="#fab43d" stroke-width="1.3"/><path d="M546.4 129.0l3.3 2.5l3.9 0.9l4.4 -0.5l4.2 0.2l3.6 1.7l3.7 1.6l3.9 0.9l3.7 1.6l3.2 3.0l3.2 2.8" stroke="#4634d1" stroke-width="1.4" stroke-opacity="0.60"/><path d="M547.0 127.5l3.3 2.5l3.9 0.9l4.4 -0.5l4.2 0.2l3.6 1.7l3.7 1.6l3.9 0.9l3.7 1.6l3.2 3.0l3.2 2.8" stroke="#dbbc30" stroke-width="1.1"/><path d="M389.6 75.3l3.1 3.1l3.4 2.4l3.8 1.2l3.8 1.4l3.5 2.0l3.8 1.1l4.4 -0.4l4.3 -0.1l3.6 1.7l3.4 2.4l3.7 1.6" stroke="#4634d1" stroke-width="1.4" stroke-opacity="0.60"/><path d="M390.2 73.8l3.1 3.1l3.4 2.4l3.8 1.2l3.8 1.4l3.5 2.0l3.8 1.1l4.4 -0.4l4.3 -0.1l3.6 1.7l3.4 2.4l3.7 1.6" stroke="#fabf35" stroke-width="1.3"/><path d="M441.1 95.8l4.3 -0.2l3.9 1.0l3.2 2.8l3.2 2.8l3.7 1.5l3.8 1.2l3.5 2.0l3.6 1.7l4.2 0.1l4.4 -0.5l3.9 1.0l3.4 2.3l3.6 1.9l3.8 1.2" stroke="#4634d1" stroke-width="1.4" stroke-opacity="0.60"/><path d="M441.7 94.2l4.3 -0.2l3.9 1.0l3.2 2.8l3.2 2.8l3.7 1.5l3.8 1.2l3.5 2.0l3.6 1.7l4.2 0.1l4.4 -0.5l3.9 1.0l3.4 2.3l3.6 1.9l3.8 1.2" stroke="#a5c23d" stroke-width="1.4"/><path d="M505.2 118.0l3.6 1.8l3.9 1.0l3.8 1.2l3.3 2.7l3.1 3.1l3.7 1.5" stroke="#4634d1" stroke-width="1.4" stroke-opacity="0.60"/><path d="M505.7 116.5l3.6 1.8l3.9 1.0l3.8 1.2l3.3 2.7l3.1 3.1l3.7 1.5" stroke="#40c38b" stroke-width="1.1"/><path d="M534.5 128.2l3.1 3.2l3.3 2.6l3.9 1.1l3.9 1.0l3.6 1.8" stroke="#4634d1" stroke-width="1.4" stroke-opacity="0.60"/><path d="M535.1 126.7l3.1 3.2l3.3 2.6l3.9 1.1l3.9 1.0l3.6 1.8" stroke="#efb737" stroke-width="1.3"/><path d="M567.0 141.0l4.2 0.2l3.7 1.4l3.1 3.1l3.2 2.8l3.8 1.3l4.0 0.8l3.7 1.6l3.7 1.4l4.3 0.0l4.3 -0.2l3.7 1.4l3.2 2.8l3.5 2.2" stroke="#4634d1" stroke-width="1.4" stroke-opacity="0.60"/><path d="M567.5 139.5l4.2 0.2l3.7 1.4l3.1 3.1l3.2 2.8l3.8 1.3l4.0 0.8l3.7 1.6l3.7 1.4l4.3 0.0l4.3 -0.2l3.7 1.4l3.2 2.8l3.5 2.2" stroke="#f6b43c" stroke-width="1.6"/><path d="M386.5 83.8l3.8 1.3l3.3 2.5l3.2 2.9l3.8 1.3l4.3 -0.2l4.1 0.3l3.7 1.5" stroke="#4634d1" stroke-width="1.4" stroke-opacity="0.60"/><path d="M387.1 82.3l3.8 1.3l3.3 2.5l3.2 2.9l3.8 1.3l4.3 -0.2l4.1 0.3l3.7 1.5" stroke="#1dbead" stroke-width="1.6"/><path d="M426.0 96.5l3.2 2.8l3.2 2.9l3.7 1.5l3.9 1.1l3.6 1.9l3.7 1.6" stroke="#4634d1" stroke-width="1.4" stroke-opacity="0.60"/><path d="M426.6 95.0l3.2 2.8l3.2 2.9l3.7 1.5l3.9 1.1l3.6 1.9l3.7 1.6" stroke="#f7e523" stroke-width="1.5"/><path d="M459.8 110.0l3.2 2.9l3.6 1.7l3.8 1.2l3.6 1.9l3.6 1.9l4.1 0.3l4.5 -0.5l4.0 0.7l3.4 2.2l3.5 2.0l3.8 1.3l3.6 1.9l3.2 2.9l3.5 2.1" stroke="#4634d1" stroke-width="1.4" stroke-opacity="0.60"/><path d="M460.3 108.5l3.2 2.9l3.6 1.7l3.8 1.2l3.6 1.9l3.6 1.9l4.1 0.3l4.5 -0.5l4.0 0.7l3.4 2.2l3.5 2.0l3.8 1.3l3.6 1.9l3.2 2.9l3.5 2.1" stroke="#ebb934" stroke-width="1.5"/><path d="M524.0 136.9l4.2 0.3l4.4 -0.5l4.0 0.8l3.6 1.9l3.8 1.4l3.9 1.0l3.5 2.1l3.1 3.2l3.5 2.2l4.1 0.4l4.2 0.2" stroke="#4634d1" stroke-width="1.4" stroke-opacity="0.60"/><path d="M524.5 135.4l4.2 0.3l4.4 -0.5l4.0 0.8l3.6 1.9l3.8 1.4l3.9 1.0l3.5 2.1l3.1 3.2l3.5 2.2l4.1 0.4l4.2 0.2" stroke="#bac031" stroke-width="1.1"/><path d="M385.3 87.1l3.8 1.4l3.1 3.1l3.2 2.8l3.8 1.3l3.9 1.0l3.6 1.8l3.7 1.4l4.3 -0.1l4.4 -0.3l3.7 1.4l3.3 2.6" stroke="#4634d1" stroke-width="1.4" stroke-opacity="0.60"/><path d="M385.9 85.6l3.8 1.4l3.1 3.1l3.2 2.8l3.8 1.3l3.9 1.0l3.6 1.8l3.7 1.4l4.3 -0.1l4.4 -0.3l3.7 1.4l3.3 2.6" stroke="#48c483" stroke-width="1.0"/><path d="M435.6 110.0l4.1 0.5l4.2 0.3l3.8 1.3l3.8 1.2l4.2 0.2l4.1 0.5l3.4 2.4l3.1 3.2l3.5 2.0l3.9 0.9l3.8 1.4l3.6 1.8l4.0 0.7l4.4 -0.5l4.1 0.4" stroke="#4634d1" stroke-width="1.4" stroke-opacity="0.60"/><path d="M436.1 108.5l4.1 0.5l4.2 0.3l3.8 1.3l3.8 1.2l4.2 0.2l4.1 0.5l3.4 2.4l3.1 3.2l3.5 2.0l3.9 0.9l3.8 1.4l3.6 1.8l4.0 0.7l4.4 -0.5l4.1 0.4" stroke="#fad12a" stroke-width="1.1"/><path d="M501.2 132.3l4.4 -0.5l4.1 0.3l3.5 2.2l3.3 2.5l3.7 1.5l3.7 1.5l3.4 2.5l3.4 2.3l4.1 0.5l4.4 -0.5l4.0 0.6l3.6 1.8l3.7 1.4l3.9 0.9l3.6 1.9l3.1 3.2" stroke="#4634d1" stroke-width="1.4" stroke-opacity="0.60"/><path d="M501.7 130.8l4.4 -0.5l4.1 0.3l3.5 2.2l3.3 2.5l3.7 1.5l3.7 1.5l3.4 2.5l3.4 2.3l4.1 0.5l4.4 -0.5l4.0 0.6l3.6 1.8l3.7 1.4l3.9 0.9l3.6 1.9l3.1 3.2" stroke="#fac034" stroke-width="1.3"/><path d="M382.8 94.0l3.5 2.1l3.4 2.4l3.7 1.5l3.7 1.5l3.3 2.6l3.4 2.4l4.1 0.5l4.4 -0.4l4.0 0.6l3.6 1.7l3.8 1.3l4.0 0.8l3.6 1.9l3.1 3.2" stroke="#4634d1" stroke-width="1.4" stroke-opacity="0.60"/><path d="M383.4 92.5l3.5 2.1l3.4 2.4l3.7 1.5l3.7 1.5l3.3 2.6l3.4 2.4l4.1 0.5l4.4 -0.4l4.0 0.6l3.6 1.7l3.8 1.3l4.0 0.8l3.6 1.9l3.1 3.2" stroke="#7cc459" stroke-width="1.5"/><path d="M443.6 116.4l3.8 1.2l3.2 2.8l3.3 2.5l3.8 1.4l3.7 1.5l3.4 2.3l3.7 1.6l4.3 -0.1l4.4 -0.4l3.8 1.2l3.5 2.2l3.7 1.5l3.8 1.2" stroke="#4634d1" stroke-width="1.4" stroke-opacity="0.60"/><path d="M444.2 114.9l3.8 1.2l3.2 2.8l3.3 2.5l3.8 1.4l3.7 1.5l3.4 2.3l3.7 1.6l4.3 -0.1l4.4 -0.4l3.8 1.2l3.5 2.2l3.7 1.5l3.8 1.2" stroke="#cabf2e" stroke-width="1.5"/><path d="M501.6 140.0l3.6 1.7l3.8 1.2l3.5 2.0l3.5 2.0l4.1 0.4l4.5 -0.6l4.0 0.6l3.5 2.1l3.5 2.0" stroke="#4634d1" stroke-width="1.4" stroke-opacity="0.60"/><path d="M502.2 138.5l3.6 1.7l3.8 1.2l3.5 2.0l3.5 2.0l4.1 0.4l4.5 -0.6l4.0 0.6l3.5 2.1l3.5 2.0" stroke="#c2c02d" stroke-width="1.4"/><path d="M550.3 156.9l3.2 3.0l3.4 2.4l4.1 0.5l4.3 -0.1l3.9 0.9l3.7 1.5l4.0 0.7l4.0 0.6l3.5 2.1" stroke="#4634d1" stroke-width="1.4" stroke-opacity="0.60"/><path d="M550.8 155.4l3.2 3.0l3.4 2.4l4.1 0.5l4.3 -0.1l3.9 0.9l3.7 1.5l4.0 0.7l4.0 0.6l3.5 2.1" stroke="#b7c132" stroke-width="1.1"/><path d="M378.9 104.7l3.9 1.0l4.4 -0.4l4.2 0.2l3.7 1.6l3.7 1.7l3.9 0.9l3.7 1.6" stroke="#4634d1" stroke-width="1.4" stroke-opacity="0.60"/><path d="M379.5 103.2l3.9 1.0l4.4 -0.4l4.2 0.2l3.7 1.6l3.7 1.7l3.9 0.9l3.7 1.6" stroke="#49c482" stroke-width="1.0"/><path d="M414.7 115.9l3.6 1.8l3.4 2.3l3.9 1.1l4.4 -0.5l4.2 0.0" stroke="#4634d1" stroke-width="1.4" stroke-opacity="0.60"/><path d="M415.2 114.4l3.6 1.8l3.4 2.3l3.9 1.1l4.4 -0.5l4.2 0.0" stroke="#bfc02d" stroke-width="1.2"/><path d="M439.8 124.8l4.4 -0.3l4.1 0.5l3.4 2.4l3.2 2.8l3.7 1.6l3.8 1.3l3.5 2.2l3.5 2.0" stroke="#4634d1" stroke-width="1.4" stroke-opacity="0.60"/><path d="M440.3 123.3l4.4 -0.3l4.1 0.5l3.4 2.4l3.2 2.8l3.7 1.6l3.8 1.3l3.5 2.2l3.5 2.0" stroke="#f7b33c" stroke-width="1.4"/><path d="M482.3 138.2l3.8 1.3l3.4 2.2l3.7 1.6l3.8 1.2l3.4 2.3l3.2 3.0" stroke="#4634d1" stroke-width="1.4" stroke-opacity="0.60"/><path d="M482.8 136.7l3.8 1.3l3.4 2.2l3.7 1.6l3.8 1.2l3.4 2.3l3.2 3.0" stroke="#1bbdb0" stroke-width="1.2"/><path d="M515.1 152.4l4.4 -0.3l3.8 1.2l3.5 2.0l3.8 1.3l3.8 1.2l3.3 2.5l3.1 3.1" stroke="#4634d1" stroke-width="1.4" stroke-opacity="0.60"/><path d="M515.7 150.9l4.4 -0.3l3.8 1.2l3.5 2.0l3.8 1.3l3.8 1.2l3.3 2.5l3.1 3.1" stroke="#6bc467" stroke-width="1.2"/><path d="M551.7 163.0l3.2 3.0l3.2 2.9l3.8 1.4l3.9 1.0l3.6 1.7l3.7 1.5l4.3 0.0l4.4 -0.4" stroke="#4634d1" stroke-width="1.4" stroke-opacity="0.60"/><path d="M552.2 161.5l3.2 3.0l3.2 2.9l3.8 1.4l3.9 1.0l3.6 1.7l3.7 1.5l4.3 0.0l4.4 -0.4" stroke="#faba39" stroke-width="1.6"/><path d="M377.4 108.9l4.3 -0.2l4.4 -0.3l3.8 1.4l3.4 2.5l3.6 1.8l3.8 1.3l3.5 2.2l3.2 2.8l3.7 1.5l4.3 -0.2l4.3 0.0l3.8 1.4l3.7 1.6l4.0 0.8l3.8 1.2l3.2 2.8l3.1 3.1" stroke="#4634d1" stroke-width="1.4" stroke-opacity="0.60"/><path d="M377.9 107.4l4.3 -0.2l4.4 -0.3l3.8 1.4l3.4 2.5l3.6 1.8l3.8 1.3l3.5 2.2l3.2 2.8l3.7 1.5l4.3 -0.2l4.3 0.0l3.8 1.4l3.7 1.6l4.0 0.8l3.8 1.2l3.2 2.8l3.1 3.1" stroke="#5fc470" stroke-width="1.1"/><path d="M447.4 135.3l4.0 0.7l4.4 -0.3l4.0 0.6l3.7 1.6l3.8 1.1l4.0 0.6l3.6 1.8l3.1 3.2l3.3 2.6l3.9 0.9l4.1 0.4l3.8 1.3l3.8 1.3l4.2 0.1l4.2 0.1l3.6 1.9" stroke="#4634d1" stroke-width="1.4" stroke-opacity="0.60"/><path d="M447.9 133.8l4.0 0.7l4.4 -0.3l4.0 0.6l3.7 1.6l3.8 1.1l4.0 0.6l3.6 1.8l3.1 3.2l3.3 2.6l3.9 0.9l4.1 0.4l3.8 1.3l3.8 1.3l4.2 0.1l4.2 0.1l3.6 1.9" stroke="#f0b637" stroke-width="1.4"/><path d="M514.2 157.2l3.5 2.0l3.3 2.6l3.8 1.3l4.4 -0.3l4.3 -0.1l3.7 1.4" stroke="#4634d1" stroke-width="1.4" stroke-opacity="0.60"/><path d="M514.7 155.7l3.5 2.0l3.3 2.6l3.8 1.3l4.4 -0.3l4.3 -0.1l3.7 1.4" stroke="#fac333" stroke-width="1.4"/><path d="M543.8 168.1l4.0 0.6l3.7 1.5l3.9 1.0l4.1 0.4l3.7 1.6l3.1 3.2l3.2 2.8l3.9 1.1l4.0 0.6l3.7 1.4l3.8 1.3l4.2 0.1l4.3 -0.1" stroke="#4634d1" stroke-width="1.4" stroke-opacity="0.60"/><path d="M544.4 166.6l4.0 0.6l3.7 1.5l3.9 1.0l4.1 0.4l3.7 1.6l3.1 3.2l3.2 2.8l3.9 1.1l4.0 0.6l3.7 1.4l3.8 1.3l4.2 0.1l4.3 -0.1" stroke="#3bc28f" stroke-width="1.4"/><path d="M375.7 113.4l3.8 1.1l3.2 2.8l3.1 3.1l3.7 1.6l4.1 0.4l3.9 1.0l3.7 1.5l4.0 0.6l4.3 -0.2l3.9 1.1l3.2 2.8l3.3 2.8l3.7 1.4l3.8 1.2l3.5 2.0" stroke="#4634d1" stroke-width="1.4" stroke-opacity="0.60"/><path d="M376.3 111.9l3.8 1.1l3.2 2.8l3.1 3.1l3.7 1.6l4.1 0.4l3.9 1.0l3.7 1.5l4.0 0.6l4.3 -0.2l3.9 1.1l3.2 2.8l3.3 2.8l3.7 1.4l3.8 1.2l3.5 2.0" stroke="#63c46d" stroke-width="1.6"/><path d="M441.7 137.3l3.7 1.5l3.5 2.0l3.8 1.3l3.8 1.3l3.3 2.7l3.2 2.9l3.8 1.3l4.3 -0.1l4.1 0.5l3.7 1.5l3.9 1.0l4.1 0.4l3.8 1.4" stroke="#4634d1" stroke-width="1.4" stroke-opacity="0.60"/><path d="M442.2 135.8l3.7 1.5l3.5 2.0l3.8 1.3l3.8 1.3l3.3 2.7l3.2 2.9l3.8 1.3l4.3 -0.1l4.1 0.5l3.7 1.5l3.9 1.0l4.1 0.4l3.8 1.4" stroke="#b8c132" stroke-width="1.3"/><path d="M501.6 159.2l3.8 1.3l3.2 2.9l3.1 3.1l3.8 1.4l4.1 0.3" stroke="#4634d1" stroke-width="1.4" stroke-opacity="0.60"/><path d="M502.2 157.7l3.8 1.3l3.2 2.9l3.1 3.1l3.8 1.4l4.1 0.3" stroke="#f9b23d" stroke-width="1.2"/><path d="M528.2 169.9l3.8 1.3l3.4 2.4l3.2 2.9l3.8 1.3l4.3 -0.2l4.2 0.2l3.7 1.4l3.8 1.3l4.1 0.6l3.8 1.3l3.2 3.0l3.2 3.0l3.8 1.3l4.1 0.4l3.8 1.1" stroke="#4634d1" stroke-width="1.4" stroke-opacity="0.60"/><path d="M528.8 168.4l3.8 1.3l3.4 2.4l3.2 2.9l3.8 1.3l4.3 -0.2l4.2 0.2l3.7 1.4l3.8 1.3l4.1 0.6l3.8 1.3l3.2 3.0l3.2 3.0l3.8 1.3l4.1 0.4l3.8 1.1" stroke="#fad12a" stroke-width="1.5"/><path d="M373.4 119.8l3.3 2.7l3.5 2.1l4.2 0.2l4.4 -0.3l3.9 1.0l3.6 1.7l3.9 1.1l3.9 0.9l3.4 2.3l3.1 3.3l3.5 2.1l4.1 0.4" stroke="#4634d1" stroke-width="1.4" stroke-opacity="0.60"/><path d="M374.0 118.3l3.3 2.7l3.5 2.1l4.2 0.2l4.4 -0.3l3.9 1.0l3.6 1.7l3.9 1.1l3.9 0.9l3.4 2.3l3.1 3.3l3.5 2.1l4.1 0.4" stroke="#fabc37" stroke-width="1.4"/><path d="M431.4 142.9l4.4 -0.3l4.2 0.3l3.7 1.5l3.8 1.3l4.0 0.6l3.7 1.5l3.1 3.1l3.2 2.9l3.8 1.2l4.1 0.3" stroke="#4634d1" stroke-width="1.4" stroke-opacity="0.60"/><path d="M432.0 141.4l4.4 -0.3l4.2 0.3l3.7 1.5l3.8 1.3l4.0 0.6l3.7 1.5l3.1 3.1l3.2 2.9l3.8 1.2l4.1 0.3" stroke="#fab63b" stroke-width="1.4"/><path d="M478.9 158.6l3.3 2.5l3.9 0.9l4.0 0.8l3.7 1.6l3.8 1.2l4.3 -0.1l4.2 0.1l3.6 1.9l3.2 2.9" stroke="#4634d1" stroke-width="1.4" stroke-opacity="0.60"/><path d="M479.5 157.1l3.3 2.5l3.9 0.9l4.0 0.8l3.7 1.6l3.8 1.2l4.3 -0.1l4.2 0.1l3.6 1.9l3.2 2.9" stroke="#31c199" stroke-width="1.5"/><path d="M521.1 171.1l3.3 2.6l3.1 3.2l3.6 1.8l4.0 0.8l3.8 1.4l3.6 1.7l4.1 0.5l4.4 -0.4l4.0 0.7l3.4 2.5l3.3 2.5l3.7 1.4" stroke="#4634d1" stroke-width="1.4" stroke-opacity="0.60"/><path d="M521.6 169.6l3.3 2.6l3.1 3.2l3.6 1.8l4.0 0.8l3.8 1.4l3.6 1.7l4.1 0.5l4.4 -0.4l4.0 0.7l3.4 2.5l3.3 2.5l3.7 1.4" stroke="#fabf36" stroke-width="1.5"/><path d="M371.8 124.4l4.0 0.6l3.4 2.3l3.1 3.3l3.5 2.2l4.0 0.7l3.9 0.9l3.7 1.6l3.9 0.9l4.4 -0.3l4.1 0.4" stroke="#4634d1" stroke-width="1.4" stroke-opacity="0.60"/><path d="M372.3 122.9l4.0 0.6l3.4 2.3l3.1 3.3l3.5 2.2l4.0 0.7l3.9 0.9l3.7 1.6l3.9 0.9l4.4 -0.3l4.1 0.4" stroke="#1dbead" stroke-width="1.3"/><path d="M416.6 140.1l3.2 2.9l3.5 2.2l3.8 1.2l3.6 1.8l3.4 2.3" stroke="#4634d1" stroke-width="1.4" stroke-opacity="0.60"/><path d="M417.2 138.6l3.2 2.9l3.5 2.2l3.8 1.2l3.6 1.8l3.4 2.3" stroke="#f8b33c" stroke-width="1.5"/><path d="M443.5 154.4l4.2 0.3l4.2 0.1l3.8 1.2l3.8 1.3l4.1 0.4l4.0 0.7l3.4 2.5l3.1 3.2l3.5 1.9l4.0 0.8l3.8 1.2l3.6 1.7" stroke="#4634d1" stroke-width="1.4" stroke-opacity="0.60"/><path d="M444.1 152.9l4.2 0.3l4.2 0.1l3.8 1.2l3.8 1.3l4.1 0.4l4.0 0.7l3.4 2.5l3.1 3.2l3.5 1.9l4.0 0.8l3.8 1.2l3.6 1.7" stroke="#35c195" stroke-width="1.4"/><path d="M501.4 171.0l3.9 1.1l3.2 2.9l3.2 2.9l3.7 1.5l3.9 1.1l3.6 1.9l3.7 1.6l4.2 0.1l4.4 -0.4l3.9 1.1l3.4 2.5l3.5 2.0l3.8 1.3l3.5 2.0" stroke="#4634d1" stroke-width="1.4" stroke-opacity="0.60"/><path d="M502.0 169.4l3.9 1.1l3.2 2.9l3.2 2.9l3.7 1.5l3.9 1.1l3.6 1.9l3.7 1.6l4.2 0.1l4.4 -0.4l3.9 1.1l3.4 2.5l3.5 2.0l3.8 1.3l3.5 2.0" stroke="#eeb736" stroke-width="1.1"/><path d="M368.5 133.3l4.0 0.6l4.0 0.7l3.7 1.5l3.9 1.0l4.3 -0.1l4.1 0.4l3.4 2.3l3.2 3.0" stroke="#4634d1" stroke-width="1.4" stroke-opacity="0.60"/><path d="M369.0 131.8l4.0 0.6l4.0 0.7l3.7 1.5l3.9 1.0l4.3 -0.1l4.1 0.4l3.4 2.3l3.2 3.0" stroke="#f0b737" stroke-width="1.1"/><path d="M409.0 147.0l3.8 1.3l3.8 1.3l3.5 2.0l3.8 1.4l4.3 -0.2l4.4 -0.3l3.7 1.5" stroke="#4634d1" stroke-width="1.4" stroke-opacity="0.60"/><path d="M409.6 145.5l3.8 1.3l3.8 1.3l3.5 2.0l3.8 1.4l4.3 -0.2l4.4 -0.3l3.7 1.5" stroke="#fac134" stroke-width="1.1"/><path d="M443.6 158.0l3.8 1.3l3.7 1.6l3.2 2.8l3.3 2.5l4.0 0.6l4.4 -0.3l4.0 0.7l3.7 1.6" stroke="#4634d1" stroke-width="1.4" stroke-opacity="0.60"/><path d="M444.2 156.5l3.8 1.3l3.7 1.6l3.2 2.8l3.3 2.5l4.0 0.6l4.4 -0.3l4.0 0.7l3.7 1.6" stroke="#a0c241" stroke-width="1.1"/><path d="M479.9 173.5l3.5 2.0l4.2 0.2l4.3 -0.1l3.8 1.1l3.7 1.5l4.0 0.7" stroke="#4634d1" stroke-width="1.4" stroke-opacity="0.60"/><path d="M480.4 172.0l3.5 2.0l4.2 0.2l4.3 -0.1l3.8 1.1l3.7 1.5l4.0 0.7" stroke="#65c46c" stroke-width="1.3"/><path d="M512.4 184.7l4.4 -0.4l3.9 0.9l3.6 1.8l3.8 1.2l3.9 1.0l3.4 2.3l3.1 3.2l3.5 2.1l4.1 0.4l4.1 0.4l3.8 1.3l3.9 1.1l4.2 0.1l4.0 0.7l3.3 2.5l3.1 3.2l3.6 1.9" stroke="#4634d1" stroke-width="1.4" stroke-opacity="0.60"/><path d="M513.0 183.2l4.4 -0.4l3.9 0.9l3.6 1.8l3.8 1.2l3.9 1.0l3.4 2.3l3.1 3.2l3.5 2.1l4.1 0.4l4.1 0.4l3.8 1.3l3.9 1.1l4.2 0.1l4.0 0.7l3.3 2.5l3.1 3.2l3.6 1.9" stroke="#f8e125" stroke-width="1.5"/><path d="M367.4 136.4l3.1 3.1l3.2 2.9l3.8 1.2l4.1 0.5l3.8 1.3l3.8 1.4l4.2 0.2l4.3 -0.1l3.7 1.5l3.2 3.0l3.4 2.4" stroke="#4634d1" stroke-width="1.4" stroke-opacity="0.60"/><path d="M367.9 134.9l3.1 3.1l3.2 2.9l3.8 1.2l4.1 0.5l3.8 1.3l3.8 1.4l4.2 0.2l4.3 -0.1l3.7 1.5l3.2 3.0l3.4 2.4" stroke="#a9c23b" stroke-width="1.3"/><path d="M416.5 156.4l3.8 1.3l3.8 1.2l4.2 0.1l4.1 0.4l3.4 2.2" stroke="#4634d1" stroke-width="1.4" stroke-opacity="0.60"/><path d="M417.0 154.9l3.8 1.3l3.8 1.2l4.2 0.1l4.1 0.4l3.4 2.2" stroke="#f9da27" stroke-width="1.1"/><path d="M441.6 163.2l3.1 3.1l3.4 2.4l3.8 1.1l3.8 1.4l3.5 2.0l3.8 1.1l4.4 -0.4l4.3 -0.1l3.6 1.7" stroke="#4634d1" stroke-width="1.4" stroke-opacity="0.60"/><path d="M442.2 161.7l3.1 3.1l3.4 2.4l3.8 1.1l3.8 1.4l3.5 2.0l3.8 1.1l4.4 -0.4l4.3 -0.1l3.6 1.7" stroke="#22bea9" stroke-width="1.6"/><path d="M484.1 181.6l3.7 1.5l3.9 1.1l3.6 1.9l3.7 1.7l4.2 0.1l4.4 -0.5l3.9 1.0l3.4 2.4l3.5 2.0l3.8 1.3l3.5 2.0l3.2 2.8l3.6 1.8l4.3 -0.0" stroke="#4634d1" stroke-width="1.4" stroke-opacity="0.60"/><path d="M484.6 180.0l3.7 1.5l3.9 1.1l3.6 1.9l3.7 1.7l4.2 0.1l4.4 -0.5l3.9 1.0l3.4 2.4l3.5 2.0l3.8 1.3l3.5 2.0l3.2 2.8l3.6 1.8l4.3 -0.0" stroke="#5ec471" stroke-width="1.5"/><path d="M545.9 201.3l4.0 0.7l3.3 2.6l3.2 3.0l3.6 1.7l3.9 1.1l3.6 1.9l3.6 1.9l4.1 0.3" stroke="#4634d1" stroke-width="1.4" stroke-opacity="0.60"/><path d="M546.4 199.8l4.0 0.7l3.3 2.6l3.2 3.0l3.6 1.7l3.9 1.1l3.6 1.9l3.6 1.9l4.1 0.3" stroke="#30c09a" stroke-width="1.4"/><path d="M364.0 145.6l3.4 2.3l3.9 1.0l3.8 1.3l3.6 1.9l3.9 1.0l4.4 -0.4l4.2 0.0l3.6 1.9l3.3 2.6" stroke="#4634d1" stroke-width="1.4" stroke-opacity="0.60"/><path d="M364.6 144.1l3.4 2.3l3.9 1.0l3.8 1.3l3.6 1.9l3.9 1.0l4.4 -0.4l4.2 0.0l3.6 1.9l3.3 2.6" stroke="#c6bf2e" stroke-width="1.5"/><path d="M403.2 159.3l4.0 0.6l4.1 0.4l3.5 2.0l3.1 3.3l3.4 2.4l3.9 0.9l3.9 1.0l3.6 1.7l3.9 1.1" stroke="#4634d1" stroke-width="1.4" stroke-opacity="0.60"/><path d="M403.7 157.8l4.0 0.6l4.1 0.4l3.5 2.0l3.1 3.3l3.4 2.4l3.9 0.9l3.9 1.0l3.6 1.7l3.9 1.1" stroke="#f4b43a" stroke-width="1.3"/><path d="M447.1 174.7l3.6 1.7l3.8 1.2l3.4 2.2l3.2 2.9l3.7 1.6l4.3 -0.1l4.2 0.0l3.8 1.3l3.7 1.4l4.0 0.7l3.9 1.1l3.2 2.8l3.1 3.2l3.7 1.6l4.1 0.4" stroke="#4634d1" stroke-width="1.4" stroke-opacity="0.60"/><path d="M447.7 173.2l3.6 1.7l3.8 1.2l3.4 2.2l3.2 2.9l3.7 1.6l4.3 -0.1l4.2 0.0l3.8 1.3l3.7 1.4l4.0 0.7l3.9 1.1l3.2 2.8l3.1 3.2l3.7 1.6l4.1 0.4" stroke="#f8ec1f" stroke-width="1.2"/><path d="M510.8 197.3l3.7 1.4l3.2 2.9l3.2 3.0l3.8 1.2l4.2 0.1l4.0 0.8l3.7 1.4l4.0 0.6l4.2 0.1" stroke="#4634d1" stroke-width="1.4" stroke-opacity="0.60"/><path d="M511.3 195.8l3.7 1.4l3.2 2.9l3.2 3.0l3.8 1.2l4.2 0.1l4.0 0.8l3.7 1.4l4.0 0.6l4.2 0.1" stroke="#44c387" stroke-width="1.5"/><path d="M362.0 151.2l4.4 -0.3l3.8 1.3l3.5 2.1l3.8 1.4l3.8 1.2l3.4 2.5l3.2 3.0l3.7 1.5l4.3 -0.0l4.1 0.3l3.7 1.4" stroke="#4634d1" stroke-width="1.4" stroke-opacity="0.60"/><path d="M362.6 149.6l4.4 -0.3l3.8 1.3l3.5 2.1l3.8 1.4l3.8 1.2l3.4 2.5l3.2 3.0l3.7 1.5l4.3 -0.0l4.1 0.3l3.7 1.4" stroke="#f8de26" stroke-width="1.2"/><path d="M408.9 167.1l4.2 0.1l3.7 1.6l3.1 3.1l3.3 2.6l3.8 1.2" stroke="#4634d1" stroke-width="1.4" stroke-opacity="0.60"/><path d="M409.4 165.6l4.2 0.1l3.7 1.6l3.1 3.1l3.3 2.6l3.8 1.2" stroke="#fac830" stroke-width="1.1"/><path d="M438.6 178.3l4.1 0.4l4.0 0.8l3.3 2.6l3.1 3.2l3.6 1.8l4.0 0.7l3.8 1.2l3.7 1.6l4.0 0.6l4.4 -0.4l4.0 0.7l3.3 2.5" stroke="#4634d1" stroke-width="1.4" stroke-opacity="0.60"/><path d="M439.2 176.8l4.1 0.4l4.0 0.8l3.3 2.6l3.1 3.2l3.6 1.8l4.0 0.7l3.8 1.2l3.7 1.6l4.0 0.6l4.4 -0.4l4.0 0.7l3.3 2.5" stroke="#8fc34b" stroke-width="1.6"/><path d="M489.0 197.6l3.7 1.5l3.9 0.9l4.3 -0.1l4.1 0.5l3.4 2.4l3.2 3.0l3.6 1.8l3.8 1.1" stroke="#4634d1" stroke-width="1.4" stroke-opacity="0.60"/><path d="M489.6 196.1l3.7 1.5l3.9 0.9l4.3 -0.1l4.1 0.5l3.4 2.4l3.2 3.0l3.6 1.8l3.8 1.1" stroke="#f3b539" stroke-width="1.2"/><path d="M527.8 212.4l4.4 -0.5l4.0 0.8l3.6 1.9l3.7 1.5l3.9 1.0l3.5 2.1l3.1 3.2l3.4 2.2l4.1 0.4" stroke="#4634d1" stroke-width="1.4" stroke-opacity="0.60"/><path d="M528.3 210.9l4.4 -0.5l4.0 0.8l3.6 1.9l3.7 1.5l3.9 1.0l3.5 2.1l3.1 3.2l3.4 2.2l4.1 0.4" stroke="#f9d429" stroke-width="1.3"/><path d="M358.9 159.8l4.2 0.2l4.4 -0.5l4.0 0.8l3.6 1.9l3.7 1.4l3.9 1.0l3.5 2.1l3.1 3.2" stroke="#4634d1" stroke-width="1.4" stroke-opacity="0.60"/><path d="M359.4 158.3l4.2 0.2l4.4 -0.5l4.0 0.8l3.6 1.9l3.7 1.4l3.9 1.0l3.5 2.1l3.1 3.2" stroke="#ccbe2f" stroke-width="1.2"/><path d="M398.0 169.8l3.8 1.4l3.4 2.2l3.7 1.5l3.8 1.3l3.4 2.4l3.2 2.9l3.7 1.4l4.3 -0.1l4.2 0.2l3.7 1.4l3.8 1.3l4.1 0.5l3.8 1.2l3.2 2.9" stroke="#4634d1" stroke-width="1.4" stroke-opacity="0.60"/><path d="M398.5 168.3l3.8 1.4l3.4 2.2l3.7 1.5l3.8 1.3l3.4 2.4l3.2 2.9l3.7 1.4l4.3 -0.1l4.2 0.2l3.7 1.4l3.8 1.3l4.1 0.5l3.8 1.2l3.2 2.9" stroke="#bac031" stroke-width="1.4"/><path d="M456.6 194.2l3.5 2.2l4.0 0.6l4.0 0.7l3.7 1.5l3.9 1.0l4.3 -0.2l4.1 0.4l3.4 2.3" stroke="#4634d1" stroke-width="1.4" stroke-opacity="0.60"/><path d="M457.2 192.7l3.5 2.2l4.0 0.6l4.0 0.7l3.7 1.5l3.9 1.0l4.3 -0.2l4.1 0.4l3.4 2.3" stroke="#8ac44e" stroke-width="1.1"/><path d="M496.4 207.9l3.2 2.9l3.8 1.1l4.2 0.2l3.9 1.0l3.7 1.4" stroke="#4634d1" stroke-width="1.4" stroke-opacity="0.60"/><path d="M497.0 206.4l3.2 2.9l3.8 1.1l4.2 0.2l3.9 1.0l3.7 1.4" stroke="#fad229" stroke-width="1.0"/><path d="M519.9 214.9l3.7 1.5l3.7 1.4l4.0 0.7l3.7 1.5l3.2 3.0l3.2 2.9l3.8 1.2l4.2 0.2l3.9 1.0l3.7 1.4l4.1 0.4l4.2 0.0l3.7 1.5l3.1 3.1l3.3 2.6l3.8 1.2" stroke="#4634d1" stroke-width="1.4" stroke-opacity="0.60"/><path d="M520.4 213.4l3.7 1.5l3.7 1.4l4.0 0.7l3.7 1.5l3.2 3.0l3.2 2.9l3.8 1.2l4.2 0.2l3.9 1.0l3.7 1.4l4.1 0.4l4.2 0.0l3.7 1.5l3.1 3.1l3.3 2.6l3.8 1.2" stroke="#67c46a" stroke-width="1.4"/><path d="M357.0 164.8l4.4 -0.4l4.0 0.8l3.6 1.8l3.8 1.2l3.9 0.9l3.5 2.2l3.1 3.2l3.4 2.2l4.1 0.5l4.1 0.4l3.8 1.3l3.8 1.1l4.2 0.1l4.1 0.5" stroke="#4634d1" stroke-width="1.4" stroke-opacity="0.60"/><path d="M357.6 163.3l4.4 -0.4l4.0 0.8l3.6 1.8l3.8 1.2l3.9 0.9l3.5 2.2l3.1 3.2l3.4 2.2l4.1 0.5l4.1 0.4l3.8 1.3l3.8 1.1l4.2 0.1l4.1 0.5" stroke="#f7e722" stroke-width="1.5"/><path d="M415.1 186.4l4.2 0.1l3.9 1.1l3.8 1.4l4.1 0.4l4.1 0.4l3.5 2.1l3.1 3.2l3.4 2.3l3.9 0.9" stroke="#4634d1" stroke-width="1.4" stroke-opacity="0.60"/><path d="M415.6 184.9l4.2 0.1l3.9 1.1l3.8 1.4l4.1 0.4l4.1 0.4l3.5 2.1l3.1 3.2l3.4 2.3l3.9 0.9" stroke="#facd2c" stroke-width="1.5"/><path d="M458.0 202.1l4.4 -0.5l4.1 0.4l3.6 1.7l3.7 1.5l3.9 0.8l3.6 1.8l3.1 3.1l3.3 2.7l4.0 0.8" stroke="#4634d1" stroke-width="1.4" stroke-opacity="0.60"/><path d="M458.6 200.5l4.4 -0.5l4.1 0.4l3.6 1.7l3.7 1.5l3.9 0.8l3.6 1.8l3.1 3.1l3.3 2.7l4.0 0.8" stroke="#85c452" stroke-width="1.3"/><path d="M495.3 215.2l4.3 -0.1l4.4 -0.3l3.7 1.5l3.3 2.7l3.5 2.0l3.8 1.3l3.5 2.0l3.3 2.6l3.8 1.3l4.4 -0.3l4.3 -0.1l3.7 1.4l3.6 1.8l3.9 1.0l3.8 1.3" stroke="#4634d1" stroke-width="1.4" stroke-opacity="0.60"/><path d="M495.8 213.7l4.3 -0.1l4.4 -0.3l3.7 1.5l3.3 2.7l3.5 2.0l3.8 1.3l3.5 2.0l3.3 2.6l3.8 1.3l4.4 -0.3l4.3 -0.1l3.7 1.4l3.6 1.8l3.9 1.0l3.8 1.3" stroke="#bcc02f" stroke-width="1.1"/><path d="M355.7 168.6l3.6 1.8l3.9 1.1l3.8 1.2l3.3 2.6l3.1 3.1l3.7 1.6l4.2 0.1l4.1 0.5l3.7 1.4l3.9 0.9l4.2 0.1" stroke="#4634d1" stroke-width="1.4" stroke-opacity="0.60"/><path d="M356.2 167.1l3.6 1.8l3.9 1.1l3.8 1.2l3.3 2.6l3.1 3.1l3.7 1.6l4.2 0.1l4.1 0.5l3.7 1.4l3.9 0.9l4.2 0.1" stroke="#f8b33d" stroke-width="1.5"/><path d="M407.0 187.8l3.9 1.1l3.8 1.2l3.3 2.6l3.1 3.1l3.7 1.6l4.2 0.1l4.1 0.5l3.7 1.4l3.9 0.9l4.2 0.1l3.8 1.1l3.2 2.9l3.2 3.0l3.7 1.5l3.9 0.9l3.7 1.6l3.7 1.6" stroke="#4634d1" stroke-width="1.4" stroke-opacity="0.60"/><path d="M407.6 186.3l3.9 1.1l3.8 1.2l3.3 2.6l3.1 3.1l3.7 1.6l4.2 0.1l4.1 0.5l3.7 1.4l3.9 0.9l4.2 0.1l3.8 1.1l3.2 2.9l3.2 3.0l3.7 1.5l3.9 0.9l3.7 1.6l3.7 1.6" stroke="#fabd37" stroke-width="1.6"/><path d="M482.9 215.0l3.1 3.3l3.4 2.3l4.0 0.8l3.9 0.9l3.7 1.6l3.9 1.0l4.3 -0.2" stroke="#4634d1" stroke-width="1.4" stroke-opacity="0.60"/><path d="M483.4 213.4l3.1 3.3l3.4 2.3l4.0 0.8l3.9 0.9l3.7 1.6l3.9 1.0l4.3 -0.2" stroke="#fab939" stroke-width="1.4"/><path d="M514.9 226.0l3.1 3.2l3.3 2.7l3.8 1.2l3.9 0.9l3.7 1.6l3.8 1.3l4.3 -0.1l4.3 -0.2l3.7 1.6l3.2 2.8l3.5 2.1" stroke="#4634d1" stroke-width="1.4" stroke-opacity="0.60"/><path d="M515.5 224.5l3.1 3.2l3.3 2.7l3.8 1.2l3.9 0.9l3.7 1.6l3.8 1.3l4.3 -0.1l4.3 -0.2l3.7 1.6l3.2 2.8l3.5 2.1" stroke="#5ac474" stroke-width="1.0"/><path d="M352.6 177.0l4.3 -0.1l4.0 0.7l3.7 1.5l4.0 0.8l4.1 0.3" stroke="#4634d1" stroke-width="1.4" stroke-opacity="0.60"/><path d="M353.2 175.5l4.3 -0.1l4.0 0.7l3.7 1.5l4.0 0.8l4.1 0.3" stroke="#dcbc30" stroke-width="1.2"/><path d="M381.9 184.6l3.1 3.1l3.6 1.8l3.9 0.9l3.7 1.5l3.6 1.8l4.1 0.4l4.4 -0.5l4.0 0.7l3.4 2.4" stroke="#4634d1" stroke-width="1.4" stroke-opacity="0.60"/><path d="M382.5 183.1l3.1 3.1l3.6 1.8l3.9 0.9l3.7 1.5l3.6 1.8l4.1 0.4l4.4 -0.5l4.0 0.7l3.4 2.4" stroke="#fab83a" stroke-width="1.2"/><path d="M428.6 202.8l3.6 1.7l3.3 2.5l3.7 1.6l4.3 -0.2l4.4 -0.3l3.8 1.2l3.5 2.0l3.8 1.3l3.8 1.2l3.3 2.5l3.1 3.1l3.7 1.6l4.2 0.1l4.1 0.4l3.8 1.4l3.9 1.1l4.2 0.3" stroke="#4634d1" stroke-width="1.4" stroke-opacity="0.60"/><path d="M429.2 201.3l3.6 1.7l3.3 2.5l3.7 1.6l4.3 -0.2l4.4 -0.3l3.8 1.2l3.5 2.0l3.8 1.3l3.8 1.2l3.3 2.5l3.1 3.1l3.7 1.6l4.2 0.1l4.1 0.4l3.8 1.4l3.9 1.1l4.2 0.3" stroke="#8ac44e" stroke-width="1.0"/><path d="M502.4 229.4l3.1 3.1l3.7 1.4l4.1 0.4l3.9 1.0l3.7 1.5l4.1 0.5l4.3 -0.1l3.8 1.2l3.2 2.9l3.3 2.7l3.8 1.4l3.8 1.3l3.5 2.1" stroke="#4634d1" stroke-width="1.4" stroke-opacity="0.60"/><path d="M503.0 227.9l3.1 3.1l3.7 1.4l4.1 0.4l3.9 1.0l3.7 1.5l4.1 0.5l4.3 -0.1l3.8 1.2l3.2 2.9l3.3 2.7l3.8 1.4l3.8 1.3l3.5 2.1" stroke="#ecb835" stroke-width="1.0"/><path d="M350.7 182.1l4.5 -0.5l4.2 0.2l3.6 1.8l3.5 2.0l3.8 1.2l3.7 1.6l3.2 2.9" stroke="#4634d1" stroke-width="1.4" stroke-opacity="0.60"/><path d="M351.3 180.6l4.5 -0.5l4.2 0.2l3.6 1.8l3.5 2.0l3.8 1.2l3.7 1.6l3.2 2.9" stroke="#8dc44c" stroke-width="1.5"/><path d="M383.1 193.7l3.9 1.1l3.8 1.3l3.5 2.0l3.9 1.1l4.4 -0.4l4.3 -0.0l3.6 1.8l3.3 2.5l3.7 1.6l3.8 1.4l3.4 2.4l3.3 2.6l3.9 0.9l4.4 -0.4l4.1 0.3" stroke="#4634d1" stroke-width="1.4" stroke-opacity="0.60"/><path d="M383.6 192.2l3.9 1.1l3.8 1.3l3.5 2.0l3.9 1.1l4.4 -0.4l4.3 -0.0l3.6 1.8l3.3 2.5l3.7 1.6l3.8 1.4l3.4 2.4l3.3 2.6l3.9 0.9l4.4 -0.4l4.1 0.3" stroke="#f7e324" stroke-width="1.3"/><path d="M451.1 216.5l3.8 1.2l3.5 2.2l3.2 3.0l3.6 1.9l4.2 0.1l4.3 0.0l3.8 1.2l3.7 1.4l4.0 0.6l3.9 0.9l3.3 2.6l3.1 3.2l3.6 1.8l4.1 0.5l3.9 1.0" stroke="#4634d1" stroke-width="1.4" stroke-opacity="0.60"/><path d="M451.6 215.0l3.8 1.2l3.5 2.2l3.2 3.0l3.6 1.9l4.2 0.1l4.3 0.0l3.8 1.2l3.7 1.4l4.0 0.6l3.9 0.9l3.3 2.6l3.1 3.2l3.6 1.8l4.1 0.5l3.9 1.0" stroke="#88c44f" stroke-width="1.2"/><path d="M516.5 242.6l3.6 1.9l4.1 0.4l4.0 0.7l3.7 1.5l3.9 0.9l4.3 -0.1l4.0 0.8l3.3 2.6" stroke="#4634d1" stroke-width="1.4" stroke-opacity="0.60"/><path d="M517.1 241.1l3.6 1.9l4.1 0.4l4.0 0.7l3.7 1.5l3.9 0.9l4.3 -0.1l4.0 0.8l3.3 2.6" stroke="#2cc09f" stroke-width="1.4"/><path d="M348.8 187.4l3.4 2.5l3.8 1.2l3.8 1.3l3.5 2.0l3.8 1.3l4.4 -0.3" stroke="#4634d1" stroke-width="1.4" stroke-opacity="0.60"/><path d="M349.4 185.9l3.4 2.5l3.8 1.2l3.8 1.3l3.5 2.0l3.8 1.3l4.4 -0.3" stroke="#cebe2f" stroke-width="1.5"/><path d="M377.9 197.6l3.1 3.2l3.4 2.3l4.1 0.4l4.2 0.2l3.8 1.2l3.8 1.3" stroke="#4634d1" stroke-width="1.4" stroke-opacity="0.60"/><path d="M378.4 196.1l3.1 3.2l3.4 2.3l4.1 0.4l4.2 0.2l3.8 1.2l3.8 1.3" stroke="#2fc09c" stroke-width="1.1"/><path d="M406.0 209.0l4.3 -0.0l4.2 0.0l3.6 1.9l3.2 3.0l3.5 2.1l3.8 1.2l3.6 1.8l3.4 2.2l3.9 1.0l4.4 -0.5l4.2 0.1l3.6 1.8" stroke="#4634d1" stroke-width="1.4" stroke-opacity="0.60"/><path d="M406.5 207.5l4.3 -0.0l4.2 0.0l3.6 1.9l3.2 3.0l3.5 2.1l3.8 1.2l3.6 1.8l3.4 2.2l3.9 1.0l4.4 -0.5l4.2 0.1l3.6 1.8" stroke="#f3b53a" stroke-width="1.4"/><path d="M461.5 226.6l3.1 3.1l3.2 2.8l3.8 1.3l3.9 0.8l3.7 1.6l3.7 1.4l4.3 -0.0l4.3 -0.3l3.7 1.4l3.3 2.8l3.5 2.2l3.8 1.3l3.6 1.9l3.3 2.5" stroke="#4634d1" stroke-width="1.4" stroke-opacity="0.60"/><path d="M462.1 225.1l3.1 3.1l3.2 2.8l3.8 1.3l3.9 0.8l3.7 1.6l3.7 1.4l4.3 -0.0l4.3 -0.3l3.7 1.4l3.3 2.8l3.5 2.2l3.8 1.3l3.6 1.9l3.3 2.5" stroke="#76c45e" stroke-width="1.4"/><path d="M516.7 251.1l3.9 0.9l4.4 -0.4l4.1 0.4l3.7 1.6l3.7 1.4l4.0 0.8l3.7 1.7l3.1 3.1l3.3 2.8l3.9 0.9l4.2 0.2" stroke="#4634d1" stroke-width="1.4" stroke-opacity="0.60"/><path d="M517.2 249.6l3.9 0.9l4.4 -0.4l4.1 0.4l3.7 1.6l3.7 1.4l4.0 0.8l3.7 1.7l3.1 3.1l3.3 2.8l3.9 0.9l4.2 0.2" stroke="#9fc241" stroke-width="1.4"/><path d="M346.0 195.1l4.2 0.2l3.8 1.1l3.8 1.3l4.1 0.3l4.1 0.3l3.5 2.0l3.1 3.2l3.4 2.3" stroke="#4634d1" stroke-width="1.4" stroke-opacity="0.60"/><path d="M346.6 193.6l4.2 0.2l3.8 1.1l3.8 1.3l4.1 0.3l4.1 0.3l3.5 2.0l3.1 3.2l3.4 2.3" stroke="#52c47a" stroke-width="1.6"/><path d="M380.7 206.0l3.8 1.1l4.2 0.2l4.0 0.8l3.3 2.7l3.1 3.2l3.6 1.8l4.0 0.8" stroke="#4634d1" stroke-width="1.4" stroke-opacity="0.60"/><path d="M381.2 204.5l3.8 1.1l4.2 0.2l4.0 0.8l3.3 2.7l3.1 3.2l3.6 1.8l4.0 0.8" stroke="#e6ba32" stroke-width="1.6"/><path d="M413.3 217.7l3.8 1.2l3.8 1.3l4.1 0.4l4.0 0.8l3.3 2.5l3.1 3.2l3.6 1.9l4.0 0.7l3.8 1.1l3.7 1.6l4.0 0.7l4.4 -0.4l4.0 0.6" stroke="#4634d1" stroke-width="1.4" stroke-opacity="0.60"/><path d="M413.8 216.2l3.8 1.2l3.8 1.3l4.1 0.4l4.0 0.8l3.3 2.5l3.1 3.2l3.6 1.9l4.0 0.7l3.8 1.1l3.7 1.6l4.0 0.7l4.4 -0.4l4.0 0.6" stroke="#5cc472" stroke-width="1.2"/><path d="M471.6 239.9l3.2 2.8l3.9 1.0l4.2 0.2l3.9 1.0l3.7 1.4l4.1 0.4l4.2 0.1l3.6 1.7l3.1 3.2" stroke="#4634d1" stroke-width="1.4" stroke-opacity="0.60"/><path d="M472.2 238.4l3.2 2.8l3.9 1.0l4.2 0.2l3.9 1.0l3.7 1.4l4.1 0.4l4.2 0.1l3.6 1.7l3.1 3.2" stroke="#fab33d" stroke-width="1.2"/><path d="M511.9 255.6l4.4 -0.5l4.2 0.3l3.6 1.7l3.7 1.7l3.9 1.0l3.7 1.6l3.2 3.0l3.3 2.7l3.9 0.9l4.2 0.0l3.9 0.9l3.7 1.4l4.1 0.6" stroke="#4634d1" stroke-width="1.4" stroke-opacity="0.60"/><path d="M512.4 254.1l4.4 -0.5l4.2 0.3l3.6 1.7l3.7 1.7l3.9 1.0l3.7 1.6l3.2 3.0l3.3 2.7l3.9 0.9l4.2 0.0l3.9 0.9l3.7 1.4l4.1 0.6" stroke="#59c475" stroke-width="1.1"/><path d="M345.0 197.8l3.8 1.3l3.3 2.6l3.2 3.0l3.7 1.5l4.3 -0.0l4.1 0.4l3.7 1.4l3.9 1.0" stroke="#4634d1" stroke-width="1.4" stroke-opacity="0.60"/><path d="M345.6 196.3l3.8 1.3l3.3 2.6l3.2 3.0l3.7 1.5l4.3 -0.0l4.1 0.4l3.7 1.4l3.9 1.0" stroke="#e5ba32" stroke-width="1.2"/><path d="M382.0 212.0l3.7 1.4l3.7 1.6l3.3 2.6l3.4 2.4l4.1 0.5l4.4 -0.4l4.0 0.7l3.6 1.7l3.8 1.2l4.0 0.8" stroke="#4634d1" stroke-width="1.4" stroke-opacity="0.60"/><path d="M382.5 210.4l3.7 1.4l3.7 1.6l3.3 2.6l3.4 2.4l4.1 0.5l4.4 -0.4l4.0 0.7l3.6 1.7l3.8 1.2l4.0 0.8" stroke="#5ac474" stroke-width="1.4"/><path d="M426.8 229.5l3.8 1.2l3.6 1.7l3.5 2.2l3.9 0.9l4.4 -0.5l4.2 0.1l3.6 1.8l3.5 2.2l3.8 1.3l3.7 1.5" stroke="#4634d1" stroke-width="1.4" stroke-opacity="0.60"/><path d="M427.3 228.0l3.8 1.2l3.6 1.7l3.5 2.2l3.9 0.9l4.4 -0.5l4.2 0.1l3.6 1.8l3.5 2.2l3.8 1.3l3.7 1.5" stroke="#b4c134" stroke-width="1.3"/><path d="M472.8 246.5l4.3 -0.1l4.3 -0.2l3.7 1.6l3.3 2.7l3.5 2.0l3.8 1.3l3.5 2.0l3.3 2.5l3.8 1.2" stroke="#4634d1" stroke-width="1.4" stroke-opacity="0.60"/><path d="M473.3 245.0l4.3 -0.1l4.3 -0.2l3.7 1.6l3.3 2.7l3.5 2.0l3.8 1.3l3.5 2.0l3.3 2.5l3.8 1.2" stroke="#46c385" stroke-width="1.3"/><path d="M517.0 260.8l3.7 1.4l3.8 1.2l4.1 0.5l3.8 1.3l3.2 3.0l3.2 3.0l3.8 1.3l4.1 0.5l3.8 1.2l3.7 1.4l4.2 0.3l4.3 -0.2l3.8 1.3" stroke="#4634d1" stroke-width="1.4" stroke-opacity="0.60"/><path d="M517.6 259.2l3.7 1.4l3.8 1.2l4.1 0.5l3.8 1.3l3.2 3.0l3.2 3.0l3.8 1.3l4.1 0.5l3.8 1.2l3.7 1.4l4.2 0.3l4.3 -0.2l3.8 1.3" stroke="#fabf35" stroke-width="1.0"/><path d="M342.2 205.7l3.7 1.4l3.7 1.4l3.3 2.6l3.3 2.7l3.9 1.0l4.4 -0.3l4.1 0.5" stroke="#4634d1" stroke-width="1.4" stroke-opacity="0.60"/><path d="M342.7 204.2l3.7 1.4l3.7 1.4l3.3 2.6l3.3 2.7l3.9 1.0l4.4 -0.3l4.1 0.5" stroke="#f8de25" stroke-width="1.3"/><path d="M378.3 218.3l4.1 0.3l3.5 2.1l3.1 3.2l3.5 2.2l3.9 1.0" stroke="#4634d1" stroke-width="1.4" stroke-opacity="0.60"/><path d="M378.9 216.8l4.1 0.3l3.5 2.1l3.1 3.2l3.5 2.2l3.9 1.0" stroke="#e1bb31" stroke-width="1.0"/><path d="M404.6 228.1l3.7 1.6l4.0 0.8l3.8 1.2l3.2 2.8l3.1 3.1l3.7 1.5l4.2 0.3l3.9 0.8l3.7 1.5l4.0 0.6l4.3 -0.1l3.8 1.2l3.2 2.9" stroke="#4634d1" stroke-width="1.4" stroke-opacity="0.60"/><path d="M405.1 226.6l3.7 1.6l4.0 0.8l3.8 1.2l3.2 2.8l3.1 3.1l3.7 1.5l4.2 0.3l3.9 0.8l3.7 1.5l4.0 0.6l4.3 -0.1l3.8 1.2l3.2 2.9" stroke="#f6b43c" stroke-width="1.1"/><path d="M457.9 247.9l3.9 1.0l4.0 0.7l3.5 2.1l3.1 3.3l3.4 2.4l4.0 0.7l4.1 0.6l3.7 1.4l3.9 1.1l4.3 -0.0l4.1 0.3l3.5 2.2l3.1 3.1l3.5 2.0l3.9 1.1l3.6 1.7l3.5 2.1" stroke="#4634d1" stroke-width="1.4" stroke-opacity="0.60"/><path d="M458.5 246.3l3.9 1.0l4.0 0.7l3.5 2.1l3.1 3.3l3.4 2.4l4.0 0.7l4.1 0.6l3.7 1.4l3.9 1.1l4.3 -0.0l4.1 0.3l3.5 2.2l3.1 3.1l3.5 2.0l3.9 1.1l3.6 1.7l3.5 2.1" stroke="#d1bd2f" stroke-width="1.5"/><path d="M339.9 211.9l3.6 1.7l3.6 1.9l4.1 0.6l4.5 -0.5l4.1 0.5l3.5 2.2l3.4 2.3l3.8 1.4l3.7 1.6l3.3 2.7l3.4 2.3l4.1 0.4l4.4 -0.4l4.0 0.8" stroke="#4634d1" stroke-width="1.4" stroke-opacity="0.60"/><path d="M340.5 210.3l3.6 1.7l3.6 1.9l4.1 0.6l4.5 -0.5l4.1 0.5l3.5 2.2l3.4 2.3l3.8 1.4l3.7 1.6l3.3 2.7l3.4 2.3l4.1 0.4l4.4 -0.4l4.0 0.8" stroke="#31c199" stroke-width="1.5"/><path d="M403.3 233.1l4.0 0.6l3.6 1.8l3.1 3.2l3.3 2.6l3.9 0.9l4.1 0.5l3.8 1.4l3.8 1.2" stroke="#4634d1" stroke-width="1.4" stroke-opacity="0.60"/><path d="M403.8 231.6l4.0 0.6l3.6 1.8l3.1 3.2l3.3 2.6l3.9 0.9l4.1 0.5l3.8 1.4l3.8 1.2" stroke="#42c389" stroke-width="1.2"/><path d="M441.5 250.6l4.1 0.3l4.3 -0.2l3.9 1.0l3.7 1.6l4.0 0.8l4.0 0.7l3.4 2.3l3.1 3.3l3.5 2.2l4.0 0.6l4.0 0.7l3.7 1.5l3.9 1.0l4.3 -0.1" stroke="#4634d1" stroke-width="1.4" stroke-opacity="0.60"/><path d="M442.1 249.1l4.1 0.3l4.3 -0.2l3.9 1.0l3.7 1.6l4.0 0.8l4.0 0.7l3.4 2.3l3.1 3.3l3.5 2.2l4.0 0.6l4.0 0.7l3.7 1.5l3.9 1.0l4.3 -0.1" stroke="#d7bd30" stroke-width="1.5"/><path d="M506.0 271.7l3.9 1.0l4.3 0.0l4.0 0.8l3.3 2.7l3.1 3.1l3.6 1.7l3.9 1.0l3.7 1.7" stroke="#4634d1" stroke-width="1.4" stroke-opacity="0.60"/><path d="M506.6 270.2l3.9 1.0l4.3 0.0l4.0 0.8l3.3 2.7l3.1 3.1l3.6 1.7l3.9 1.0l3.7 1.7" stroke="#fab83a" stroke-width="1.6"/><path d="M338.0 217.1l3.7 1.6l3.6 1.8l3.9 1.1l3.7 1.5l3.2 2.9l3.2 2.9l3.9 1.1" stroke="#4634d1" stroke-width="1.4" stroke-opacity="0.60"/><path d="M338.6 215.6l3.7 1.6l3.6 1.8l3.9 1.1l3.7 1.5l3.2 2.9l3.2 2.9l3.9 1.1" stroke="#ddbc31" stroke-width="1.4"/><path d="M373.8 232.8l4.2 0.2l3.8 1.3l3.8 1.2l4.1 0.3l3.9 0.9l3.3 2.7l3.1 3.2l3.6 1.7l4.0 0.7l3.8 1.3l3.7 1.6l4.1 0.5l4.4 -0.4l4.0 0.8l3.3 2.6l3.3 2.6" stroke="#4634d1" stroke-width="1.4" stroke-opacity="0.60"/><path d="M374.4 231.3l4.2 0.2l3.8 1.3l3.8 1.2l4.1 0.3l3.9 0.9l3.3 2.7l3.1 3.2l3.6 1.7l4.0 0.7l3.8 1.3l3.7 1.6l4.1 0.5l4.4 -0.4l4.0 0.8l3.3 2.6l3.3 2.6" stroke="#4dc47e" stroke-width="1.4"/><path d="M442.7 257.3l3.8 1.3l4.2 0.2l4.2 0.0l3.6 1.8l3.1 3.1l3.4 2.3" stroke="#4634d1" stroke-width="1.4" stroke-opacity="0.60"/><path d="M443.2 255.8l3.8 1.3l4.2 0.2l4.2 0.0l3.6 1.8l3.1 3.1l3.4 2.3" stroke="#3fc28b" stroke-width="1.4"/><path d="M477.0 268.1l3.8 1.4l3.6 1.7l3.9 0.9l3.8 1.2l3.2 2.8l3.1 3.1l3.7 1.5l4.2 0.2l4.0 0.7l3.7 1.4l4.0 0.7l4.2 0.0l3.8 1.2l3.2 3.0l3.2 2.9" stroke="#4634d1" stroke-width="1.4" stroke-opacity="0.60"/><path d="M477.5 266.6l3.8 1.4l3.6 1.7l3.9 0.9l3.8 1.2l3.2 2.8l3.1 3.1l3.7 1.5l4.2 0.2l4.0 0.7l3.7 1.4l4.0 0.7l4.2 0.0l3.8 1.2l3.2 3.0l3.2 2.9" stroke="#3fc28c" stroke-width="1.2"/><path d="M335.8 223.1l4.2 0.1l3.7 1.6l3.6 1.7l3.9 0.9l3.7 1.5" stroke="#4634d1" stroke-width="1.4" stroke-opacity="0.60"/><path d="M336.4 221.6l4.2 0.1l3.7 1.6l3.6 1.7l3.9 0.9l3.7 1.5" stroke="#ddbc31" stroke-width="1.4"/><path d="M365.9 234.0l4.4 -0.3l3.9 1.0l3.3 2.7l3.3 2.6l3.7 1.4l3.7 1.5l3.4 2.3l3.6 1.7l4.3 -0.0l4.4 -0.4l3.9 1.1l3.5 2.1l3.7 1.6l3.8 1.2l3.4 2.3l3.1 3.0l3.6 1.8" stroke="#4634d1" stroke-width="1.4" stroke-opacity="0.60"/><path d="M366.4 232.5l4.4 -0.3l3.9 1.0l3.3 2.7l3.3 2.6l3.7 1.4l3.7 1.5l3.4 2.3l3.6 1.7l4.3 -0.0l4.4 -0.4l3.9 1.1l3.5 2.1l3.7 1.6l3.8 1.2l3.4 2.3l3.1 3.0l3.6 1.8" stroke="#d3bd2f" stroke-width="1.5"/><path d="M436.3 259.2l3.6 1.7l3.8 1.3l3.4 2.3l3.3 2.6l3.9 1.1l4.4 -0.4l4.2 0.2l3.7 1.6l3.7 1.6l3.9 0.9l3.7 1.5l3.2 3.0l3.2 2.9l3.9 1.1l4.2 0.1l3.9 0.9" stroke="#4634d1" stroke-width="1.4" stroke-opacity="0.60"/><path d="M436.8 257.7l3.6 1.7l3.8 1.3l3.4 2.3l3.3 2.6l3.9 1.1l4.4 -0.4l4.2 0.2l3.7 1.6l3.7 1.6l3.9 0.9l3.7 1.5l3.2 3.0l3.2 2.9l3.9 1.1l4.2 0.1l3.9 0.9" stroke="#c7bf2e" stroke-width="1.6"/><path d="M503.4 286.1l3.7 1.5l4.1 0.3l3.9 0.9l3.7 1.5l4.0 0.6l4.3 -0.1l3.9 1.1" stroke="#4634d1" stroke-width="1.4" stroke-opacity="0.60"/><path d="M504.0 284.6l3.7 1.5l4.1 0.3l3.9 0.9l3.7 1.5l4.0 0.6l4.3 -0.1l3.9 1.1" stroke="#bcc02f" stroke-width="1.3"/><path d="M332.6 231.9l4.4 -0.4l4.2 0.1l3.7 1.5l3.6 1.7l3.9 1.0l3.7 1.4" stroke="#4634d1" stroke-width="1.4" stroke-opacity="0.60"/><path d="M333.2 230.4l4.4 -0.4l4.2 0.1l3.7 1.5l3.6 1.7l3.9 1.0l3.7 1.4" stroke="#fabf36" stroke-width="1.5"/><path d="M366.7 244.3l4.2 0.2l3.9 0.9l3.7 1.4l4.1 0.5l4.2 0.1l3.7 1.5l3.1 3.1l3.3 2.6" stroke="#4634d1" stroke-width="1.4" stroke-opacity="0.60"/><path d="M367.3 242.8l4.2 0.2l3.9 0.9l3.7 1.4l4.1 0.5l4.2 0.1l3.7 1.5l3.1 3.1l3.3 2.6" stroke="#f8b33d" stroke-width="1.4"/><path d="M406.2 254.8l3.8 1.3l3.4 2.4l3.6 1.7l3.8 1.3l3.4 2.2l3.2 2.9l3.7 1.6l4.3 -0.1l4.2 0.0l3.8 1.3" stroke="#4634d1" stroke-width="1.4" stroke-opacity="0.60"/><path d="M406.8 253.3l3.8 1.3l3.4 2.4l3.6 1.7l3.8 1.3l3.4 2.2l3.2 2.9l3.7 1.6l4.3 -0.1l4.2 0.0l3.8 1.3" stroke="#fabe36" stroke-width="1.0"/><path d="M446.9 273.2l4.2 0.0l3.9 1.0l3.8 1.4l4.1 0.5l4.1 0.4l3.5 2.0l3.1 3.2l3.4 2.4l3.9 0.9l3.9 1.1l3.6 1.7l3.9 1.0l4.4 -0.3l4.2 0.1l3.5 2.0l3.3 2.7l3.6 1.8" stroke="#4634d1" stroke-width="1.4" stroke-opacity="0.60"/><path d="M447.4 271.7l4.2 0.0l3.9 1.0l3.8 1.4l4.1 0.5l4.1 0.4l3.5 2.0l3.1 3.2l3.4 2.4l3.9 0.9l3.9 1.1l3.6 1.7l3.9 1.0l4.4 -0.3l4.2 0.1l3.5 2.0l3.3 2.7l3.6 1.8" stroke="#26bfa4" stroke-width="1.2"/></g>
<line x1="471.1" y1="141.4" x2="425.7" y2="207.3" stroke="#ee1c1c" stroke-width="1.5"/>
<rect x="398.4" y="135.7" width="107.2" height="92.0" fill="none" stroke="#c4c4c4" stroke-width="0.7"/>
<text x="399.5" y="143.3" font-size="8.30" font-weight="bold">B2</text>
<text x="398.5" y="239.4" font-size="8.50" text-anchor="middle">554</text>
<text x="429.3" y="239.4" font-size="8.50" text-anchor="middle">556</text>
<text x="460.1" y="239.4" font-size="8.50" text-anchor="middle">558</text>
<text x="490.9" y="239.4" font-size="8.50" text-anchor="middle">560</text>
<text x="394.8" y="231.3" font-size="8.50" text-anchor="end">5800</text>
<text x="394.8" y="200.6" font-size="8.50" text-anchor="end">5802</text>
<text x="394.8" y="169.9" font-size="8.50" text-anchor="end">5804</text>
<text x="394.8" y="139.2" font-size="8.50" text-anchor="end">5806</text>
<text x="452.0" y="249.7" font-size="9.70" text-anchor="middle">easting [km]</text>
<text transform="translate(374.5,181.7) rotate(-90)" font-size="9.70" text-anchor="middle">northing [km]</text>
<rect x="509.1" y="135.7" width="6.4" height="92.0" fill="url(#cbB1)" filter="url(#par)"/>
<path d="M514.0 135.7h1.5M514.0 162.0h1.5M514.0 188.3h1.5M514.0 214.6h1.5" stroke="#aaa" stroke-width="0.5"/>
<text x="517.7" y="138.7" font-size="8.50">−22</text>
<text x="517.7" y="165.0" font-size="8.50">−24</text>
<text x="517.7" y="191.3" font-size="8.50">−26</text>
<text x="517.7" y="217.6" font-size="8.50">−28</text>
<text transform="translate(539.8,181.7) rotate(-90)" font-size="8.6" text-anchor="middle"><tspan font-style="italic">z</tspan><tspan font-size="5.6" dy="1.8" font-style="italic">b</tspan><tspan dy="-1.8" dx="2.5">[m]</tspan></text>
<g clip-path="url(#clipB2)"><g filter="url(#pb2)"><rect x="383.4" y="245.7" width="137.2" height="122.0" fill="url(#bb2)"/><rect x="383.4" y="245.7" width="137.2" height="122.0" fill="url(#sw2)" fill-opacity="0.50"/><rect x="383.4" y="245.7" width="137.2" height="122.0" fill="url(#sx2)" fill-opacity="0.30"/><circle cx="506" cy="262" r="14" fill="#e0e0e0" fill-opacity="0.7"/><circle cx="506" cy="262" r="7" fill="#f0f0f0" fill-opacity="0.7"/></g></g>
<line x1="472.3" y1="265.2" x2="439.3" y2="336.8" stroke="#ee1c1c" stroke-width="1.5"/>
<rect x="398.4" y="260.7" width="107.2" height="92.0" fill="none" stroke="#c4c4c4" stroke-width="0.7"/>
<text x="399.5" y="268.3" font-size="8.30" font-weight="bold">B3</text>
<text x="398.5" y="364.4" font-size="8.50" text-anchor="middle">574</text>
<text x="429.3" y="364.4" font-size="8.50" text-anchor="middle">576</text>
<text x="460.1" y="364.4" font-size="8.50" text-anchor="middle">578</text>
<text x="490.9" y="364.4" font-size="8.50" text-anchor="middle">580</text>
<text x="394.8" y="356.3" font-size="8.50" text-anchor="end">5798</text>
<text x="394.8" y="325.6" font-size="8.50" text-anchor="end">5800</text>
<text x="394.8" y="294.9" font-size="8.50" text-anchor="end">5802</text>
<text x="394.8" y="264.2" font-size="8.50" text-anchor="end">5804</text>
<text x="452.0" y="374.7" font-size="9.70" text-anchor="middle">easting [km]</text>
<text transform="translate(374.5,306.7) rotate(-90)" font-size="9.70" text-anchor="middle">northing [km]</text>
<rect x="509.1" y="260.7" width="6.4" height="92.0" fill="url(#cbB2)" filter="url(#par)"/>
<path d="M514.0 260.7h1.5M514.0 287.0h1.5M514.0 313.3h1.5M514.0 339.6h1.5" stroke="#aaa" stroke-width="0.5"/>
<text x="517.7" y="263.7" font-size="8.50">−18</text>
<text x="517.7" y="290.0" font-size="8.50">−20</text>
<text x="517.7" y="316.3" font-size="8.50">−22</text>
<text x="517.7" y="342.6" font-size="8.50">−24</text>
<text transform="translate(539.8,306.7) rotate(-90)" font-size="8.6" text-anchor="middle"><tspan font-style="italic">z</tspan><tspan font-size="5.6" dy="1.8" font-style="italic">b</tspan><tspan dy="-1.8" dx="2.5">[m]</tspan></text>
<g clip-path="url(#clipB3)"><g filter="url(#pb3)"><rect x="383.4" y="370.7" width="137.2" height="122.0" fill="url(#bb3)"/><rect x="383.4" y="370.7" width="137.2" height="122.0" fill="url(#sw3)" fill-opacity="0.80"/><rect x="383.4" y="370.7" width="137.2" height="122.0" fill="url(#sx3)" fill-opacity="0.00"/></g></g>
<g clip-path="url(#clipB3)" fill="none" stroke-linecap="round" stroke-linejoin="round" opacity="0.95"><path d="M453.4 302.6l3.0 2.6l4.0 1.8l1.1 4.4l1.3 4.2l3.2 2.5l2.2 3.4l4.1 1.7l4.1 1.7l1.2 4.3l2.3 3.3l2.0 3.6l1.7 3.8l4.7 1.1l3.4 2.3l2.2 3.4" stroke="#f7ea20" stroke-width="1.9"/><path d="M498.6 350.1l0.4 5.0l2.4 3.2l3.2 2.5l2.7 3.0l4.7 1.2l2.7 3.0l1.0 4.5l2.7 3.0l1.7 3.9l3.0 2.7l4.9 1.0l2.3 3.3" stroke="#f8de26" stroke-width="2.0"/><path d="M532.1 392.8l4.9 1.0l2.6 3.1l2.7 2.9l2.4 3.2l0.5 4.9l3.2 2.5l3.8 1.9l2.8 2.9l4.1 1.7l1.8 3.8l0.8 4.7l3.1 2.6l2.4 3.2l3.5 2.2l4.6 1.2l1.5 4.0" stroke="#f8f21a" stroke-width="2.0"/><path d="M579.2 443.0l1.1 4.4l4.2 1.6l3.8 1.9l2.5 3.1l3.4 2.3l1.0 4.5" stroke="#f8ef1d" stroke-width="1.8"/><path d="M448.4 307.1l3.9 1.9l2.6 3.1l3.6 2.2l1.1 4.4l1.2 4.3l3.7 2.0l2.7 2.9l3.8 2.0l3.9 1.9l0.8 4.6" stroke="#f9f618" stroke-width="2.0"/><path d="M481.1 339.3l2.2 3.4l1.8 3.7l2.4 3.2l1.0 4.5l3.6 2.1l4.4 1.4l2.4 3.3l3.3 2.4l1.6 3.9l0.8 4.7l3.7 2.0l3.2 2.5l3.3 2.4l4.1 1.7l1.0 4.4l1.5 4.0l3.0 2.7l2.1 3.5" stroke="#f8f21a" stroke-width="1.8"/><path d="M530.6 401.1l4.3 1.5l3.3 2.4l3.1 2.6l3.5 2.2l0.7 4.8l1.8 3.8l3.5 2.3l2.5 3.1l4.4 1.5l3.4 2.3l0.9 4.6l2.5 3.2l2.0 3.6l2.4 3.3l5.0 0.9" stroke="#f8ef1c" stroke-width="2.0"/><path d="M574.5 447.8l3.6 2.1l2.9 2.8l4.2 1.6l1.5 4.0l1.0 4.5l3.2 2.5l2.2 3.4l3.8 1.9l4.4 1.4l1.4 4.1l2.1 3.5l2.1 3.5" stroke="#f8f21b" stroke-width="1.9"/><path d="M445.2 310.0l3.8 1.9l3.3 2.4l0.5 4.9l2.3 3.3l2.7 2.9l2.5 3.1l4.9 1.0l2.9 2.8l1.4 4.2l2.6 3.0" stroke="#f9f717" stroke-width="1.7"/><path d="M476.0 342.2l2.5 3.1l0.5 4.9l3.1 2.6l3.9 1.9l2.7 2.9l4.1 1.7l1.9 3.6l0.7 4.8l3.1 2.6l2.4 3.2l3.4 2.3l4.7 1.2" stroke="#f8ec1e" stroke-width="1.3"/><path d="M511.4 385.1l3.3 2.4l3.0 2.7l4.4 1.4l1.6 3.9l1.1 4.4l2.9 2.7l1.9 3.6l3.9 1.9l4.5 1.3l1.6 3.9l2.4 3.3l1.9 3.6l1.3 4.2l4.4 1.4" stroke="#fad12a" stroke-width="1.8"/><path d="M551.5 428.0l4.4 1.4l2.1 3.5l0.8 4.6l2.9 2.8l2.0 3.6l3.4 2.3l4.8 1.1l1.9 3.7l2.1 3.5l2.2 3.4l1.0 4.5l4.0 1.8l4.1 1.7l2.4 3.2l3.4 2.3l1.3 4.2l1.0 4.4" stroke="#f8e125" stroke-width="1.3"/><path d="M440.5 314.2l4.8 1.1l2.9 2.8l1.2 4.3l2.6 3.0l1.4 4.1l2.8 2.8l4.9 1.0l2.5 3.1l2.7 3.0l2.4 3.3l0.5 4.9l3.3 2.4l3.9 1.9l2.8 2.9l4.0 1.7l1.7 3.8l0.8 4.7l3.2 2.5l2.5 3.2" stroke="#f9f816" stroke-width="2.0"/><path d="M496.5 377.0l3.8 1.9l2.8 2.9l4.2 1.6l1.9 3.7l0.8 4.7l3.1 2.6l2.4 3.3l3.5 2.2l4.6 1.2l1.6 4.0" stroke="#f9f518" stroke-width="1.9"/><path d="M530.0 408.3l1.2 4.3l2.3 3.3l2.0 3.6l1.7 3.8l4.7 1.1l3.5 2.3l2.2 3.4l3.0 2.7l0.8 4.7l2.0 3.6l4.3 1.5l2.8 2.9l3.7 2.0l3.0 2.7l0.4 5.0l2.5 3.1l2.9 2.7" stroke="#fad12a" stroke-width="1.5"/><path d="M439.7 314.9l0.4 5.0l2.4 3.3l3.7 2.0l2.7 3.0l4.4 1.5l2.7 3.0l0.7 4.8l2.7 2.9l2.1 3.5l2.9 2.7l4.9 0.9l2.3 3.3l1.9 3.7l2.5 3.2l0.9 4.6" stroke="#f7e722" stroke-width="2.0"/><path d="M481.3 364.1l2.5 3.1l1.5 4.1l4.2 1.6l4.2 1.6l1.9 3.6l2.9 2.8l1.4 4.1l1.3 4.2l4.3 1.5l3.2 2.5" stroke="#f8f11b" stroke-width="1.9"/><path d="M514.0 397.6l2.7 2.9l1.9 3.7l2.6 3.0l0.8 4.6l3.0 2.7l4.5 1.3l2.6 3.1l3.5 2.3l2.1 3.5l0.5 5.0l3.3 2.5l3.2 2.5l3.1 2.6l4.5 1.3l1.6 3.9" stroke="#f9d628" stroke-width="1.5"/><path d="M554.6 446.7l3.3 2.4l3.1 2.6l4.3 1.5l1.4 4.1l1.2 4.3l3.0 2.7l2.0 3.6l4.0 1.8l4.4 1.5l1.5 4.0l2.4 3.2l1.9 3.7l1.4 4.1l4.5 1.3l3.6 2.1l2.5 3.2l3.2 2.5l0.8 4.7l1.7 3.9" stroke="#fad02a" stroke-width="1.3"/><path d="M432.9 321.1l4.4 1.4l2.9 2.7l3.5 2.3l3.2 2.5l0.4 5.0l2.3 3.3l3.2 2.5l2.6 3.0l4.7 1.2l2.8 2.9l1.0 4.5l2.7 3.0" stroke="#f9f617" stroke-width="1.8"/><path d="M469.3 360.6l3.4 2.3l2.5 3.1l4.5 1.4l3.2 2.5l0.9 4.6l2.5 3.1" stroke="#face2b" stroke-width="1.9"/><path d="M491.9 381.0l2.8 2.9l0.4 5.0l2.6 3.0l3.5 2.2l2.7 2.9l4.5 1.4l2.4 3.3l0.8 4.7l2.8 2.9l2.0 3.6l3.2 2.5l4.9 1.0l2.1 3.5l2.1 3.5" stroke="#face2b" stroke-width="1.6"/><path d="M531.0 427.4l1.4 4.1l3.9 1.8l2.8 2.9l3.8 1.9l3.6 2.2l0.6 4.8l2.2 3.4l2.6 3.0" stroke="#f8eb1f" stroke-width="1.5"/><path d="M555.9 455.9l2.1 3.5l3.8 2.0l2.7 3.0l4.3 1.5l2.9 2.8l0.6 4.8l2.6 3.0l2.2 3.4l2.8 2.9" stroke="#f7e920" stroke-width="1.4"/><path d="M431.3 322.5l1.4 4.1l4.2 1.6l3.0 2.7l3.4 2.3l3.5 2.2l0.6 4.9l2.0 3.6l3.1 2.6" stroke="#f7e921" stroke-width="1.5"/><path d="M455.5 351.9l4.6 1.3l3.0 2.7l3.2 2.5l3.0 2.7l0.4 5.0l2.4 3.2l3.5 2.3l2.7 3.0l4.5 1.3" stroke="#f9f419" stroke-width="1.9"/><path d="M484.7 382.3l2.8 2.9l1.8 3.8l4.0 1.7l4.4 1.5l1.7 3.9l2.6 3.1l1.7 3.8l1.3 4.2l4.4 1.4l3.5 2.2l2.7 3.0l3.4 2.3l0.7 4.7l1.7 3.9l3.8 2.0l2.7 3.0l4.1 1.7" stroke="#f7e424" stroke-width="1.8"/><path d="M535.1 436.0l1.6 4.0l2.7 2.9l1.8 3.8l4.3 1.5l4.1 1.7l1.6 3.9l2.7 3.0l1.5 4.0l1.5 4.0l4.6 1.3l3.3 2.4l2.8 2.8l3.2 2.5l0.6 4.9l2.0 3.6l3.7 2.0l2.6 3.0l4.3 1.5" stroke="#f7e822" stroke-width="1.3"/><path d="M425.5 327.8l4.2 1.6l2.8 2.9l3.7 2.0l3.1 2.6l0.4 5.0l2.5 3.2l2.9 2.8l2.6 3.0l4.8 1.0l2.6 3.0l1.2 4.3l2.6 3.0l1.4 4.2l3.1 2.6l4.8 1.0" stroke="#f9d728" stroke-width="2.1"/><path d="M471.5 375.7l3.0 2.7l3.3 2.4l3.2 2.5l0.5 5.0l2.2 3.4l3.3 2.4l2.6 3.1l4.6 1.3l2.9 2.7l0.9 4.6l2.6 3.0l1.8 3.8l2.8 2.9l5.0 0.9l2.5 3.1" stroke="#f7e324" stroke-width="1.7"/><path d="M517.6 424.3l0.7 4.8l1.9 3.7l4.0 1.8l2.7 2.9l4.0 1.8l3.1 2.6l0.5 4.9l2.5 3.1l2.6 3.1l2.6 3.0" stroke="#fad329" stroke-width="1.9"/><path d="M545.9 458.0l1.5 4.1l3.1 2.6l2.2 3.4l4.3 1.5l3.9 1.8l1.2 4.3l2.4 3.2l1.8 3.8l1.8 3.7l4.8 1.1" stroke="#f8e125" stroke-width="1.5"/><path d="M425.7 327.5l2.8 2.8l0.4 5.0l2.6 3.0l2.7 2.9l2.8 2.9l4.9 1.0l2.4 3.2l1.4 4.2l2.6 3.0l1.3 4.2l3.3 2.4" stroke="#f9d828" stroke-width="1.8"/><path d="M459.3 367.1l3.3 2.4l3.7 2.1l0.7 4.8l1.8 3.7l3.2 2.5" stroke="#f8ef1c" stroke-width="1.5"/><path d="M476.5 386.1l2.1 3.5l2.4 3.2l2.0 3.6l4.7 1.1l3.5 2.2l1.8 3.8l2.8 2.9l1.0 4.5l2.1 3.5l4.6 1.2l2.9 2.8l3.3 2.4l2.9 2.8l0.4 5.0l2.6 3.1l3.4 2.3l2.7 2.9l4.6 1.3l2.4 3.2" stroke="#f9f419" stroke-width="1.5"/><path d="M531.3 444.8l2.1 3.5l3.1 2.6l1.4 4.1l1.1 4.4l4.1 1.7l3.2 2.5l3.3 2.4l3.7 2.1l0.7 4.7l1.8 3.8l3.2 2.5l2.4 3.3l4.5 1.3l3.5 2.2l1.0 4.5l2.5 3.1l1.7 3.8l2.2 3.4" stroke="#f8f31a" stroke-width="2.0"/><path d="M421.5 331.3l3.9 1.9l1.5 4.1l0.9 4.6l3.4 2.3l2.6 3.1l3.7 2.1l4.3 1.5l1.2 4.3l1.9 3.7l2.4 3.2l1.7 3.9l4.5 1.3l3.8 1.9l1.9 3.7l2.9 2.8l1.1 4.3l1.7 3.9" stroke="#f9d827" stroke-width="1.4"/><path d="M472.3 386.2l2.8 2.9l1.5 4.0l2.6 3.0l1.1 4.4l2.9 2.8l4.7 1.1l2.5 3.1l3.1 2.6l2.2 3.4l0.5 5.0" stroke="#f8e124" stroke-width="1.7"/><path d="M504.7 421.9l1.6 4.0l2.6 3.0l1.1 4.4l2.9 2.8l4.7 1.1l2.6 3.1" stroke="#f8f11b" stroke-width="1.5"/><path d="M524.5 445.8l0.8 4.7l3.4 2.3l2.7 3.0l3.6 2.2l4.3 1.5l1.2 4.3l1.8 3.8l2.5 3.1" stroke="#f7e523" stroke-width="1.7"/><path d="M418.5 334.0l2.8 2.8l0.7 4.7l2.6 3.0l2.1 3.5l2.8 2.8l5.0 0.9" stroke="#f9f419" stroke-width="2.0"/><path d="M437.1 354.5l2.0 3.6l2.8 2.9l1.7 3.9l1.0 4.5l4.2 1.6l3.5 2.3l2.9 2.7l3.7 2.1l0.8 4.6l1.5 4.0l3.5 2.2l2.5 3.2l4.2 1.6l3.7 2.1" stroke="#f8df25" stroke-width="1.3"/><path d="M478.5 401.1l3.1 2.6l0.5 5.0l2.4 3.2l2.7 2.9l2.6 3.0l4.9 1.0" stroke="#f7e821" stroke-width="1.5"/><path d="M497.1 424.8l2.2 3.4l2.1 3.5l4.9 1.0l3.2 2.5l1.9 3.7" stroke="#fad02a" stroke-width="2.0"/><path d="M517.1 443.2l1.7 3.8l2.8 2.9l1.4 4.2l1.5 4.0l4.5 1.3l3.2 2.5l3.0 2.7l3.3 2.4l0.5 4.9l2.0 3.5l3.6 2.1l2.6 3.0l4.4 1.4l3.0 2.6l0.7 4.7l2.6 3.1l2.1 3.5" stroke="#f9d927" stroke-width="1.8"/><path d="M412.5 339.4l1.5 4.0l4.6 1.2l3.4 2.3l2.6 3.1l3.2 2.5l0.7 4.8l1.9 3.7l4.0 1.8l2.7 2.9" stroke="#f7e921" stroke-width="2.0"/><path d="M444.0 370.2l2.6 3.1l1.4 4.1l2.6 3.0l1.2 4.3l3.1 2.6l4.7 1.1l2.4 3.2l2.9 2.7l2.1 3.5l0.6 4.9l3.5 2.2" stroke="#f8e025" stroke-width="2.0"/><path d="M477.6 409.2l2.5 3.1l1.7 3.8l1.5 4.1l4.5 1.3l3.5 2.3" stroke="#facf2b" stroke-width="1.8"/><path d="M494.8 428.9l2.7 3.0l3.9 1.9l2.2 3.4l0.5 4.9l3.1 2.6l2.7 2.9" stroke="#fad329" stroke-width="1.8"/><path d="M515.7 450.0l2.8 2.8l0.8 4.7l2.6 3.0l1.9 3.6l2.8 2.8l5.0 0.9l2.4 3.2l2.1 3.5l2.5 3.2l0.8 4.7l3.3 2.4l4.3 1.5l2.5 3.1l3.6 2.2l1.8 3.8" stroke="#f9d728" stroke-width="1.9"/><path d="M409.6 342.0l4.3 1.6l2.2 3.4l3.2 2.5l1.4 4.1l1.0 4.5l4.0 1.8" stroke="#f7e424" stroke-width="1.4"/><path d="M427.7 364.2l3.4 2.3l3.1 2.6l3.2 2.5l4.4 1.4l1.4 4.1l1.4 4.1l2.8 2.8l1.8 3.7l4.1 1.7l4.3 1.5l1.6 3.9" stroke="#f7ea20" stroke-width="1.7"/><path d="M463.1 401.9l3.6 2.1l4.4 1.5l1.2 4.3l1.8 3.7l2.5 3.1l1.7 3.9l4.5 1.4l3.9 1.8l1.8 3.8l2.8 2.8l1.2 4.3l1.6 3.9l4.5 1.3l3.1 2.6l3.2 2.5l3.2 2.5l0.5 5.0" stroke="#f8f319" stroke-width="1.6"/><path d="M511.2 455.1l1.8 3.7l4.5 1.3l3.9 1.9l1.6 3.9l2.7 2.9l1.3 4.2l1.7 3.8l4.6 1.2l3.1 2.6l3.0 2.7l3.1 2.6" stroke="#fad12a" stroke-width="1.8"/><path d="M405.8 345.5l2.3 3.3l4.4 1.4l3.6 2.2l1.0 4.4l2.5 3.2l1.8 3.8l2.2 3.4l4.9 1.0" stroke="#f8dd26" stroke-width="1.5"/><path d="M430.4 374.0l2.6 3.0l3.7 2.0l2.7 2.9l4.3 1.5l2.4 3.2l0.7 4.8l2.8 2.8l2.2 3.4l3.2 2.5l4.9 1.0l2.0 3.6l1.9 3.6l2.4 3.3l1.0 4.5" stroke="#f8db26" stroke-width="1.6"/><path d="M473.7 420.9l2.8 2.8l4.7 1.2l2.2 3.4l1.1 4.4l2.7 2.9l1.6 3.9l3.4 2.3l4.8 1.1" stroke="#f7e623" stroke-width="1.5"/><path d="M499.0 445.7l2.9 2.8l1.8 3.8l2.7 3.0l0.9 4.6l2.8 2.9l4.6 1.3l2.6 3.0l3.4 2.3l2.3 3.3l0.4 5.0" stroke="#f8e125" stroke-width="1.6"/><path d="M527.5 479.5l1.0 4.5l3.9 1.9l3.0 2.7l3.4 2.3l3.9 1.8l0.8 4.6l1.7 3.8l2.9 2.7l2.2 3.4l4.5 1.3l3.7 2.1l1.3 4.2l2.6 3.1l1.5 4.0l2.0 3.5" stroke="#f7e921" stroke-width="1.4"/><path d="M403.2 347.8l1.1 4.4l3.4 2.4l2.4 3.2l4.0 1.8l4.1 1.7l1.1 4.4l2.1 3.5l2.2 3.4l1.8 3.8l4.7 1.2l3.6 2.2l2.0 3.6l2.9 2.8l0.9 4.6l1.9 3.6l4.4 1.4" stroke="#f8e125" stroke-width="1.7"/><path d="M452.1 400.3l0.6 4.8l2.1 3.5l4.1 1.7l2.7 2.9l4.0 1.8l2.9 2.8l0.5 4.9l2.6 3.0" stroke="#f8de25" stroke-width="1.6"/><path d="M478.8 431.6l2.7 2.9l3.5 2.2l2.6 3.0l0.4 5.0l2.8 2.9" stroke="#f9d628" stroke-width="1.6"/><path d="M494.3 452.4l3.8 2.0l2.6 3.0l4.1 1.7l3.4 2.4l0.7 4.8l2.4 3.2l2.4 3.3l2.4 3.2l4.9 0.9" stroke="#f9f518" stroke-width="1.8"/><path d="M525.1 481.5l1.0 4.5l2.8 2.8l1.8 3.8l3.5 2.2l4.7 1.1l1.9 3.7l2.4 3.3l2.1 3.5l1.0 4.5l4.0 1.7l3.9 1.9l2.6 3.1l3.5 2.2l1.1 4.4" stroke="#f8ed1e" stroke-width="1.3"/><path d="M398.6 351.9l1.5 4.1l2.4 3.2l4.9 1.0l2.8 2.9l2.6 3.0" stroke="#f9f816" stroke-width="1.7"/><path d="M416.6 374.2l2.3 3.3l4.0 1.7l2.7 2.9l4.1 1.7l2.7 2.9l0.5 4.9l2.7 2.9l2.5 3.1" stroke="#f8f01c" stroke-width="1.5"/><path d="M442.6 402.1l4.3 1.5l2.3 3.3l3.3 2.4l1.5 4.1l0.9 4.6l3.9 1.9l3.1 2.6l3.4 2.4l4.0 1.8l0.9 4.6l1.6 3.9" stroke="#f9d529" stroke-width="1.6"/><path d="M477.7 438.6l0.5 5.0l3.2 2.5l3.8 2.0l2.8 2.9l4.2 1.6l1.8 3.8l0.8 4.7l3.1 2.6l2.3 3.3l3.6 2.2l4.6 1.2l1.6 4.0l1.9 3.6l2.3 3.3l1.3 4.2" stroke="#f8dd26" stroke-width="2.1"/><path d="M522.4 486.4l1.4 4.2l2.6 3.0l1.3 4.2l2.4 3.2l4.8 1.0l2.8 2.9l2.8 2.8l2.6 3.0l0.4 5.0l2.8 2.8l3.8 2.0" stroke="#f9f518" stroke-width="1.8"/><path d="M397.6 352.8l1.9 3.7l2.3 3.3l2.1 3.5l1.0 4.5l4.1 1.7l3.9 1.9l2.6 3.1l3.5 2.2l1.1 4.4l1.2 4.3l3.8 2.0l2.8 2.9" stroke="#f8df25" stroke-width="1.8"/><path d="M431.2 393.9l2.7 3.0l4.4 1.4l2.8 2.9l0.7 4.8l2.7 3.0l2.1 3.5l2.9 2.8l5.0 0.9l2.4 3.2l1.9 3.6l2.5 3.2l0.9 4.6l3.4 2.3l4.4 1.4l2.5 3.1" stroke="#f8f01c" stroke-width="2.1"/><path d="M478.0 443.0l1.2 4.3l2.7 3.0l1.5 4.0l3.5 2.2l4.7 1.1l2.1 3.5l2.7 3.0l2.0 3.6l0.8 4.7l3.9 1.9" stroke="#face2b" stroke-width="2.0"/><path d="M506.6 479.8l3.0 2.7l3.5 2.2l2.9 2.8l4.4 1.4l1.9 3.6l0.9 4.6l2.9 2.7l2.0 3.5l3.6 2.2l4.7 1.2l1.7 3.8l2.2 3.4l2.2 3.4l1.1 4.4l4.1 1.6l4.0 1.8l2.4 3.2l3.3 2.4" stroke="#f8f11b" stroke-width="1.7"/><path d="M393.7 356.3l0.6 4.9l2.0 3.6l3.4 2.3l2.5 3.1l4.5 1.4l3.2 2.5l0.8 4.6l2.5 3.1l1.9 3.7l2.5 3.1l5.0 0.9l2.7 2.9l2.1 3.5l2.6 3.1l0.7 4.8l3.0 2.7l4.3 1.5l2.6 3.0" stroke="#f8e025" stroke-width="1.8"/><path d="M445.3 415.9l0.6 4.9l3.5 2.2l3.5 2.2l3.0 2.7l4.2 1.6l1.4 4.1l1.1 4.4l3.1 2.6l2.2 3.4" stroke="#f7e324" stroke-width="1.4"/><path d="M474.3 447.6l2.8 2.9l2.8 2.9l2.6 3.0l0.4 5.0l2.9 2.8l3.8 1.9" stroke="#f8de26" stroke-width="1.3"/><path d="M494.7 473.3l2.5 3.1l4.9 1.0l2.8 2.9l1.5 4.1l2.6 3.0l1.2 4.3l2.9 2.8l4.8 1.1" stroke="#facf2b" stroke-width="1.8"/><path d="M388.6 361.0l1.7 3.8l3.9 1.9l4.5 1.3l1.8 3.8l2.5 3.1l1.8 3.8l1.1 4.4l4.3 1.5l3.6 2.1l2.7 3.0l3.5 2.3l0.9 4.6" stroke="#fad329" stroke-width="1.3"/><path d="M426.3 398.7l1.4 4.1l0.9 4.6l3.5 2.2l2.7 3.0l3.7 2.1l4.3 1.6l1.1 4.4l1.9 3.7l2.5 3.1l1.8 3.8l4.5 1.3l3.8 1.9l1.7 3.8l2.8 2.9l1.2 4.3l1.7 3.8" stroke="#f9f716" stroke-width="1.5"/><path d="M472.4 452.6l4.3 1.5l1.2 4.3l1.8 3.7l2.5 3.2l1.7 3.9l4.5 1.3l3.9 1.9l1.8 3.7l2.9 2.8l1.2 4.3l1.6 3.9l4.5 1.3l3.1 2.6l3.2 2.5l3.2 2.5l0.5 5.0l2.2 3.4" stroke="#f8dc26" stroke-width="2.0"/><path d="M384.1 365.0l2.8 2.9l1.7 3.8l3.7 2.0l4.6 1.2l1.8 3.7l2.5 3.2l1.9 3.7l1.1 4.4l4.2 1.6l3.7 2.0l2.6 3.0l3.5 2.2l1.0 4.5l1.4 4.2l3.8 2.0l2.7 3.0l3.9 1.8" stroke="#f8dd26" stroke-width="1.6"/><path d="M435.9 420.9l3.6 2.1l2.8 2.9l0.4 5.0l2.6 3.0l3.0 2.7l2.8 2.9l4.8 1.1l2.4 3.3l1.2 4.3l2.7 3.0l1.5 4.0" stroke="#f8dd26" stroke-width="1.6"/><path d="M468.7 459.1l2.7 2.9l1.8 3.7l4.3 1.5l4.1 1.7l1.6 3.9l2.6 3.0" stroke="#facf2a" stroke-width="1.4"/><path d="M487.1 480.9l2.9 2.8l3.6 2.1l2.8 2.9l4.4 1.4l2.1 3.5l0.8 4.7l2.9 2.8l2.1 3.5l3.4 2.3l4.8 1.1l1.9 3.7" stroke="#f8ed1e" stroke-width="1.9"/><path d="M381.3 367.5l2.4 3.2l2.1 3.5l4.8 1.0l3.3 2.4l1.7 3.9l2.7 2.9l1.0 4.5l2.4 3.3l4.7 1.2l2.8 2.9" stroke="#f9d827" stroke-width="1.3"/><path d="M412.3 399.3l3.1 2.6l2.1 3.5l2.8 2.9l0.7 4.8l2.5 3.1l4.4 1.4l2.7 2.9l3.7 2.1l2.5 3.1" stroke="#f7e523" stroke-width="1.4"/><path d="M439.8 434.6l3.9 1.9l2.8 2.8l3.7 2.1l3.8 1.9l0.8 4.7l2.0 3.6l2.7 2.9l2.2 3.4l4.7 1.1l3.4 2.3l1.4 4.1l2.7 3.0l1.3 4.2l2.2 3.4l4.8 1.1l2.9 2.8l2.9 2.8" stroke="#f7ea20" stroke-width="1.7"/><path d="M492.5 487.6l1.7 3.8l2.5 3.1l1.0 4.5l3.4 2.3l4.5 1.3l2.4 3.2l3.2 2.5l1.8 3.7l0.7 4.8l3.7 2.1l3.3 2.4" stroke="#f9d728" stroke-width="2.0"/><path d="M378.8 369.7l3.0 2.7l0.5 5.0l2.6 3.1l2.7 3.0l2.7 2.9l4.9 1.0l2.5 3.1l1.4 4.1l2.6 3.0l1.2 4.3l3.2 2.5l4.7 1.1l2.4 3.2l2.9 2.7" stroke="#f8f21b" stroke-width="1.6"/><path d="M418.2 415.5l4.2 1.6l1.7 3.8l0.9 4.6l3.1 2.6l2.2 3.4l3.7 2.1l4.6 1.3l1.5 4.0l2.0 3.5l2.2 3.4l1.3 4.2l4.3 1.5l3.9 1.8l2.2 3.4l3.1 2.6l1.1 4.4l1.4 4.1l4.2 1.6" stroke="#fad329" stroke-width="1.7"/><path d="M469.0 473.6l2.0 3.6l4.5 1.3l3.8 1.9l1.5 4.1l2.6 3.0l1.4 4.1l1.8 3.7l4.7 1.1l3.1 2.6l2.8 2.9l3.0 2.7" stroke="#f7e623" stroke-width="1.8"/><path d="M501.9 512.2l3.6 2.2l3.3 2.4l3.1 2.6l4.2 1.6l1.3 4.2" stroke="#f8eb1f" stroke-width="1.7"/><path d="M373.9 374.2l3.0 2.7l3.4 2.3l4.2 1.6l1.1 4.4l1.6 3.9l2.8 2.8l1.9 3.6l4.4 1.4l4.0 1.8l1.5 4.0l2.6 3.0" stroke="#f7e821" stroke-width="1.7"/><path d="M407.8 410.5l3.4 2.3l3.7 2.0l0.7 4.8l1.9 3.7l3.1 2.6l2.3 3.3l4.6 1.2l3.4 2.3" stroke="#fad12a" stroke-width="2.0"/><path d="M432.5 439.3l1.8 3.8l4.6 1.2l3.7 2.0l1.8 3.7l2.9 2.8l1.1 4.4l1.8 3.8l4.5 1.3l3.0 2.7l3.3 2.4l3.1 2.6l0.4 5.0l2.3 3.3l3.4 2.3l2.6 3.0" stroke="#f8e125" stroke-width="1.3"/><path d="M476.0 484.3l1.1 4.4l1.5 4.0l4.3 1.5l3.0 2.7l3.4 2.3l3.4 2.3" stroke="#f9f617" stroke-width="1.9"/><path d="M496.0 507.2l0.6 4.8l3.3 2.4l2.8 2.9l3.4 2.3l4.5 1.3l1.4 4.1l1.6 3.9l2.6 3.0l1.6 3.9l4.2 1.6l4.2 1.6l1.8 3.8l2.8 2.9" stroke="#f8df25" stroke-width="1.9"/><path d="M372.1 375.8l2.9 2.8l2.4 3.3l0.5 5.0l3.2 2.5l3.7 2.0l2.8 2.8l4.2 1.6l1.7 3.8l0.8 4.6l3.1 2.6l2.3 3.3l3.6 2.1l4.6 1.3l1.5 4.0l2.0 3.6l2.3 3.4l1.3 4.2l4.3 1.5" stroke="#f9f717" stroke-width="1.5"/><path d="M423.7 432.6l2.2 3.4l3.2 2.5l1.5 4.0l0.9 4.6l3.9 1.9l3.2 2.5l3.3 2.5l3.9 1.8l0.9 4.6l1.6 4.0" stroke="#face2b" stroke-width="1.9"/><path d="M453.7 467.6l2.7 2.9l4.0 1.8l1.9 3.7l0.7 4.8l3.2 2.5l2.6 3.1l3.4 2.3l4.6 1.2" stroke="#f8ec1f" stroke-width="1.6"/><path d="M480.2 495.2l1.5 4.0l2.6 3.1l1.2 4.3l3.5 2.2l4.6 1.2l2.2 3.4l3.0 2.7l1.8 3.7l0.7 4.7l3.8 2.0l3.5 2.3l3.0 2.7l4.0 1.8l1.1 4.4l1.3 4.2l3.3 2.4l2.3 3.3l4.1 1.7l4.1 1.7" stroke="#f7e822" stroke-width="1.3"/><path d="M368.2 379.3l3.3 2.4l0.7 4.7l1.8 3.8l3.9 1.8l2.7 3.0l4.0 1.8l3.3 2.4l0.6 4.9l2.4 3.2l2.5 3.1l2.5 3.1l4.9 0.9l2.8 2.9l1.6 4.0l2.6 3.0l1.1 4.4l2.9 2.8" stroke="#f7e722" stroke-width="1.9"/><path d="M417.9 434.5l0.7 4.7l3.2 2.5l2.6 3.1l3.5 2.2l4.5 1.3l1.4 4.1l1.8 3.8l2.5 3.2l1.5 4.0l4.3 1.5l4.1 1.7l1.9 3.6l2.9 2.7l1.3 4.2l1.4 4.2l4.3 1.5" stroke="#f8de25" stroke-width="1.4"/><path d="M463.4 487.8l2.4 3.3l2.9 2.8l2.6 3.1l4.8 1.1l2.8 2.9l1.2 4.3l2.6 3.0l1.4 4.1l2.9 2.8l4.9 1.0l2.5 3.2l2.7 2.9l2.3 3.3l0.5 4.9l3.4 2.4l3.8 1.9l2.8 2.9" stroke="#facf2a" stroke-width="1.3"/><path d="M363.8 383.3l3.1 2.6l1.8 3.8l0.7 4.7l3.8 2.0l3.3 2.4l3.1 2.6l4.1 1.7l1.1 4.4l1.4 4.2l3.1 2.6l2.2 3.4l4.2 1.6l4.1 1.7l1.2 4.3l2.4 3.2l1.9 3.7" stroke="#f8ed1e" stroke-width="1.5"/><path d="M408.7 436.6l4.1 1.7l2.7 3.0l3.9 1.9l1.8 3.8l0.7 4.8" stroke="#f9d728" stroke-width="2.0"/><path d="M427.2 458.0l4.8 1.1l3.4 2.3l1.7 3.8l2.8 2.9l1.0 4.5l2.2 3.4l4.6 1.2l2.8 2.8l3.2 2.5l2.8 2.9l0.4 5.1l2.7 3.0l3.4 2.3l2.8 2.9l4.5 1.3l2.3 3.3l0.9 4.6l2.8 2.9l1.9 3.7" stroke="#f8ef1d" stroke-width="1.3"/><path d="M482.5 516.2l3.3 2.4l3.6 2.1l0.7 4.8l1.8 3.7l3.2 2.5l2.4 3.2" stroke="#f9f717" stroke-width="2.0"/><path d="M359.4 387.2l2.7 3.0l4.1 1.7l3.2 2.5l0.6 4.8l2.5 3.2l2.4 3.2l2.6 3.1l5.0 0.9l2.7 2.9l1.7 3.9l2.6 3.0l1.0 4.5" stroke="#f7e324" stroke-width="1.7"/><path d="M395.6 428.7l5.0 0.9l2.4 3.2l2.0 3.6l2.5 3.2l0.8 4.6l3.3 2.4l4.4 1.5l2.5 3.1l3.5 2.2" stroke="#f9da27" stroke-width="1.4"/><path d="M424.3 458.0l4.0 1.8l1.6 3.9l2.7 2.9l1.4 4.1l1.6 3.9l4.6 1.2l3.2 2.5l2.9 2.7l3.2 2.5l0.5 4.9" stroke="#f7e822" stroke-width="1.9"/><path d="M451.8 491.4l3.2 2.5l2.3 3.3l4.5 1.3l3.5 2.2l1.1 4.4l2.5 3.1" stroke="#f8ee1e" stroke-width="1.9"/><path d="M472.0 515.2l3.9 1.9l3.4 2.3l3.1 2.6l3.9 1.9l1.0 4.5l1.4 4.1l3.3 2.4l2.3 3.3l4.2 1.6l3.9 1.8l1.1 4.4l2.3 3.3l1.9 3.6l1.9 3.7" stroke="#f8f11b" stroke-width="1.9"/><path d="M355.0 391.2l3.2 2.5l2.9 2.8l4.6 1.2l2.1 3.5l1.1 4.4l2.8 2.9l1.7 3.8l3.5 2.2l4.7 1.1l1.9 3.6l2.4 3.2l2.0 3.6l0.9 4.5" stroke="#face2c" stroke-width="1.5"/><path d="M394.8 436.8l3.4 2.3l4.4 1.4l2.4 3.2l3.4 2.3l1.8 3.8l0.7 4.8l3.6 2.2l3.1 2.6l3.3 2.4l4.3 1.6" stroke="#f7e424" stroke-width="1.9"/><path d="M426.5 467.4l0.6 4.8l3.3 2.4l2.9 2.8l3.3 2.4l4.5 1.3l1.4 4.1" stroke="#facf2b" stroke-width="1.4"/><path d="M443.9 489.7l3.8 2.0l4.3 1.5l1.2 4.3l2.0 3.6l2.3 3.3l1.6 3.9l4.5 1.3" stroke="#f8ee1d" stroke-width="1.8"/><path d="M468.1 512.5l2.8 2.8l0.4 5.0l2.6 3.0l3.0 2.7l2.8 2.9" stroke="#f8dd26" stroke-width="1.7"/><path d="M351.9 394.0l2.4 3.2l2.1 3.5l2.4 3.2l5.0 0.9l2.9 2.8l1.9 3.7l2.7 3.0l0.8 4.7l2.8 2.9l4.5 1.3l2.6 3.0l3.5 2.2l2.3 3.3l0.4 5.0l3.1 2.6l3.2 2.5l3.0 2.7" stroke="#f9f617" stroke-width="2.1"/><path d="M401.5 450.0l1.8 3.7l3.9 1.9l2.7 3.0l4.1 1.7l3.2 2.5l0.6 4.9l2.4 3.2l2.5 3.2l2.6 3.1l4.9 0.9l2.7 2.9l1.6 3.9l2.6 3.0l1.0 4.5l3.0 2.7" stroke="#f7e523" stroke-width="1.8"/><path d="M445.7 501.2l3.6 2.2l3.4 2.3l3.0 2.7l4.2 1.6l1.3 4.2l1.2 4.3l3.1 2.6l2.2 3.4l4.0 1.8" stroke="#f7e424" stroke-width="1.8"/><path d="M475.6 529.4l0.7 4.7l2.3 3.3l4.4 1.4l2.8 2.9l3.7 2.1" stroke="#f8e125" stroke-width="1.4"/><path d="M349.5 396.1l2.7 3.0l1.7 3.9l3.0 2.7l4.9 0.9l2.3 3.3l2.4 3.3l2.3 3.3l0.7 4.8l3.5 2.2l4.1 1.7l2.6 3.0l3.8 2.0l1.6 3.9l0.8 4.7l3.4 2.3l2.7 2.9l3.5 2.2" stroke="#f8f11b" stroke-width="1.3"/><path d="M400.9 451.9l4.2 1.6l1.3 4.2l2.3 3.3l1.9 3.7l1.6 3.9l4.7 1.2l3.5 2.3" stroke="#f7e424" stroke-width="1.6"/><path d="M421.6 476.4l2.9 2.8l3.6 2.1l3.8 1.9l0.8 4.7l1.9 3.7l2.8 2.9l2.2 3.4l4.7 1.2l3.5 2.2l1.4 4.1l2.6 3.0l1.3 4.2l2.2 3.4l4.8 1.0l2.9 2.8l2.8 2.8l2.8 2.9" stroke="#f8f319" stroke-width="1.7"/><path d="M471.2 527.1l1.0 4.5l2.5 3.2l1.9 3.7l2.3 3.3l4.9 0.9l3.0 2.7l2.2 3.4l2.7 2.9l0.6 4.8l2.7 3.0l4.3 1.5l2.7 3.0l3.8 2.0l2.4 3.3l0.4 5.0l3.0 2.7l2.9 2.8" stroke="#fad12a" stroke-width="2.0"/><path d="M345.3 399.9l3.5 2.2l2.5 3.1l0.4 5.0l2.9 2.8l3.2 2.5l2.9 2.8l4.6 1.2l2.0 3.6" stroke="#f8ec1f" stroke-width="2.0"/><path d="M369.7 427.6l3.9 1.9l2.6 3.0l0.4 5.0l2.8 2.9l2.8 2.9l2.9 2.8" stroke="#fad229" stroke-width="1.5"/><path d="M389.7 449.7l2.7 3.0l1.2 4.3l2.6 3.0l4.8 1.1l2.6 3.0" stroke="#f7e623" stroke-width="1.7"/><path d="M404.4 469.1l3.6 2.2l2.6 3.1l4.3 1.5l3.3 2.4l0.8 4.7l2.5 3.1l2.1 3.5l2.5 3.1l5.0 0.9l2.8 2.9l2.0 3.6l2.6 3.0l0.8 4.7" stroke="#f9d429" stroke-width="1.5"/><path d="M444.6 510.5l3.6 2.2l2.8 2.9l0.4 5.0l2.7 3.0l3.1 2.6l2.8 2.9l4.7 1.1l2.3 3.3l1.1 4.4l2.7 2.9l1.6 4.0l3.4 2.4l4.8 1.1l2.1 3.5l2.5 3.1l2.1 3.5l0.8 4.7l3.8 2.0l3.8 1.9" stroke="#f8eb1f" stroke-width="2.1"/><path d="M342.6 402.4l2.6 3.0l1.2 4.3l3.0 2.7l4.8 1.1l2.5 3.2l3.0 2.7" stroke="#f8dc26" stroke-width="2.0"/><path d="M363.7 423.6l2.0 3.6l2.7 3.0l0.8 4.7l2.8 2.9l4.5 1.4l2.7 3.0" stroke="#f7e822" stroke-width="1.3"/><path d="M381.4 448.1l3.3 2.5l2.4 3.3l3.8 1.9l4.4 1.5l1.3 4.2l2.1 3.5l2.2 3.4l1.6 4.0l4.5 1.3l3.8 2.0l2.1 3.5l3.0 2.7l1.0 4.5l1.7 3.9l4.3 1.5l2.9 2.7l3.5 2.2l3.3 2.5" stroke="#f8f319" stroke-width="1.5"/><path d="M434.0 502.6l2.8 2.9l0.5 4.9l2.6 3.0l4.1 1.7l2.7 2.9l4.0 1.8l2.4 3.2l0.5 4.9l2.9 2.8l2.6 3.1l3.1 2.6l4.8 1.0l2.0 3.6l1.6 4.0l2.5 3.1l1.3 4.2l3.7 2.0" stroke="#fad12a" stroke-width="1.5"/><path d="M338.2 406.3l3.7 2.0l2.5 3.1l3.4 2.4l0.9 4.6l1.5 4.1l3.9 1.9l2.8 2.9l3.9 1.9l3.6 2.2" stroke="#f8f11b" stroke-width="1.5"/><path d="M366.6 435.4l3.2 2.5l1.3 4.2l2.6 3.0l1.3 4.2l2.5 3.1l4.9 1.0l2.7 2.9l2.8 2.9l2.6 3.1l0.4 5.0l3.0 2.7l3.8 1.9l2.8 2.9l4.2 1.6l2.0 3.5l0.7 4.8" stroke="#f9d827" stroke-width="1.7"/><path d="M414.5 488.2l0.4 5.0l2.8 2.8l3.1 2.6l2.9 2.8l4.7 1.2l2.1 3.5l1.1 4.4l2.7 2.9l1.6 3.9l3.5 2.2l4.7 1.1l2.0 3.6l2.5 3.1l2.0 3.6" stroke="#f8ed1e" stroke-width="2.0"/><path d="M451.9 535.0l3.7 2.1l2.6 3.0l4.2 1.6l3.4 2.3l0.7 4.7l2.4 3.2l2.2 3.4l2.4 3.2l5.0 0.9l2.9 2.8l1.8 3.8" stroke="#f7e523" stroke-width="1.9"/><path d="M335.8 408.5l1.4 4.1l0.9 4.5l3.8 2.0l2.9 2.8l3.5 2.2l4.0 1.7l0.9 4.6l1.8 3.8l2.8 2.9l2.0 3.5l4.6 1.3l3.7 2.0l1.4 4.1l2.6 3.0l1.4 4.1l1.9 3.6l4.8 1.1l3.1 2.6" stroke="#f8f01c" stroke-width="1.3"/><path d="M385.6 468.6l2.9 2.7l2.4 3.2l3.2 2.5l4.8 1.0l1.9 3.7l1.8 3.8l2.4 3.2l1.2 4.3l3.9 1.9l4.3 1.5l2.2 3.4l3.1 2.6l1.5 4.0l0.9 4.5" stroke="#f9d927" stroke-width="1.9"/><path d="M429.9 514.3l2.5 3.1l3.4 2.3l1.9 3.7l0.6 4.8l3.5 2.2" stroke="#f8de26" stroke-width="1.6"/><path d="M445.4 532.2l2.0 3.6l1.1 4.4l4.2 1.6l3.8 1.9l2.6 3.1l3.5 2.3l1.0 4.4l1.3 4.2l3.8 1.9l2.7 2.9l3.8 1.9l3.8 2.0l0.7 4.7l2.1 3.5l2.6 3.0l2.2 3.4l4.8 1.1" stroke="#f8ef1c" stroke-width="1.6"/><path d="M331.7 412.2l1.0 4.5l3.4 2.3l2.5 3.1l3.8 2.0l4.3 1.5l1.2 4.3l2.0 3.6l2.3 3.3l1.7 3.9l4.6 1.3l3.8 2.0l1.9 3.7" stroke="#fad12a" stroke-width="1.7"/><path d="M366.1 453.6l5.0 0.9l2.8 2.9l1.9 3.7l2.6 3.0l0.8 4.6" stroke="#f8dc26" stroke-width="1.4"/><path d="M381.2 471.6l3.8 1.9l3.5 2.2l2.9 2.7l3.9 1.8l1.1 4.4l1.2 4.3l3.3 2.4l2.4 3.3l4.1 1.7l4.1 1.7l1.1 4.4" stroke="#f7e324" stroke-width="1.9"/><path d="M415.7 509.5l3.8 1.9l2.8 2.9l3.8 2.0l3.8 2.0l0.7 4.7l2.1 3.5l2.6 3.0l2.2 3.4l4.8 1.1l3.3 2.4l1.5 4.0l2.7 3.0l1.2 4.3l2.3 3.3l4.8 1.1l2.8 2.9" stroke="#f7e324" stroke-width="1.9"/><path d="M326.5 416.9l2.8 2.8l2.3 3.3l3.1 2.6l4.9 1.0l2.1 3.5l1.8 3.8" stroke="#f7e921" stroke-width="1.8"/><path d="M347.0 436.1l2.5 3.2l2.9 2.8l0.6 4.9l2.4 3.2l4.1 1.7l2.7 2.9l4.0 1.8l2.6 3.1l0.5 4.9l2.8 2.9" stroke="#fad02a" stroke-width="1.4"/><path d="M377.2 472.6l1.8 3.8l3.6 2.1l4.7 1.2l1.8 3.7l2.4 3.2l2.0 3.6l1.0 4.5l4.1 1.7l3.8 1.9l2.6 3.1l3.5 2.2l1.1 4.4" stroke="#f7ea20" stroke-width="1.9"/><path d="M412.8 513.4l4.5 1.3l3.7 2.1l1.2 4.3l2.5 3.1l1.6 4.0l2.0 3.5l4.8 1.0l3.1 2.6l2.6 3.1l2.9 2.8l0.5 4.9l2.5 3.2l4.0 1.8l2.7 2.9" stroke="#f9d927" stroke-width="2.0"/><path d="M326.6 416.8l1.5 4.1l1.7 3.9l2.5 3.1l1.5 4.0l4.2 1.6l4.2 1.6l1.9 3.7l2.9 2.8l1.4 4.1" stroke="#f8dc26" stroke-width="1.6"/><path d="M352.1 450.7l1.9 3.7l4.8 1.1l3.1 2.6l2.7 2.9l2.9 2.7l0.5 4.9l2.4 3.3l3.9 1.9l2.7 3.0l4.2 1.6l2.7 3.0l0.6 4.9l2.7 2.9l2.4 3.2l2.9 2.7l4.9 1.0l2.2 3.4l1.7 3.8l2.5 3.1" stroke="#f9d628" stroke-width="2.1"/><path d="M409.1 510.7l1.1 4.4l3.0 2.7l2.0 3.6l3.9 1.9l4.5 1.3l1.6 4.0l2.3 3.3l1.9 3.6l1.3 4.2l4.4 1.4l3.7 2.0l2.5 3.2l3.3 2.4l0.9 4.6" stroke="#fad02a" stroke-width="1.8"/><path d="M450.0 557.4l3.4 2.3l3.7 2.1l0.7 4.8l1.8 3.7l3.1 2.6l2.3 3.3l4.6 1.3l3.4 2.3l1.1 4.4l2.6 3.1l1.6 3.9l2.3 3.3l4.9 1.0l2.9 2.8l2.5 3.2l2.7 3.0l0.5 4.9l2.7 2.9" stroke="#f9d628" stroke-width="1.4"/></g>
<line x1="489.3" y1="397.0" x2="433.6" y2="452.3" stroke="#ee1c1c" stroke-width="1.5"/>
<rect x="398.4" y="385.7" width="107.2" height="92.0" fill="none" stroke="#c4c4c4" stroke-width="0.7"/>
<text x="399.5" y="393.3" font-size="8.30" font-weight="bold">B4</text>
<text x="398.5" y="489.4" font-size="8.50" text-anchor="middle">528</text>
<text x="429.3" y="489.4" font-size="8.50" text-anchor="middle">530</text>
<text x="460.1" y="489.4" font-size="8.50" text-anchor="middle">532</text>
<text x="490.9" y="489.4" font-size="8.50" text-anchor="middle">534</text>
<text x="394.8" y="481.3" font-size="8.50" text-anchor="end">5760</text>
<text x="394.8" y="450.6" font-size="8.50" text-anchor="end">5762</text>
<text x="394.8" y="419.9" font-size="8.50" text-anchor="end">5764</text>
<text x="394.8" y="389.2" font-size="8.50" text-anchor="end">5766</text>
<text x="452.0" y="499.7" font-size="9.70" text-anchor="middle">easting [km]</text>
<text transform="translate(374.5,431.7) rotate(-90)" font-size="9.70" text-anchor="middle">northing [km]</text>
<rect x="509.1" y="385.7" width="6.4" height="92.0" fill="url(#cbB3)" filter="url(#par)"/>
<path d="M514.0 400.0h1.5M514.0 425.9h1.5M514.0 451.8h1.5M514.0 477.7h1.5" stroke="#aaa" stroke-width="0.5"/>
<text x="517.7" y="403.0" font-size="8.50">−28</text>
<text x="517.7" y="428.9" font-size="8.50">−30</text>
<text x="517.7" y="454.8" font-size="8.50">−32</text>
<text x="517.7" y="480.7" font-size="8.50">−34</text>
<text transform="translate(539.8,431.7) rotate(-90)" font-size="8.6" text-anchor="middle"><tspan font-style="italic">z</tspan><tspan font-size="5.6" dy="1.8" font-style="italic">b</tspan><tspan dy="-1.8" dx="2.5">[m]</tspan></text>
<path d="M41.3 262.6V304.0M53.0 262.6V304.0M58.9 262.6V304.0M64.7 262.6V304.0M70.5 262.6V304.0M82.3 262.6V304.0M88.1 262.6V304.0M94.0 262.6V304.0M99.8 262.6V304.0M111.5 262.6V304.0M117.4 262.6V304.0M123.2 262.6V304.0M129.1 262.6V304.0M140.8 262.6V304.0M146.6 262.6V304.0M152.5 262.6V304.0M158.3 262.6V304.0M170.0 262.6V304.0M175.8 262.6V304.0M181.7 262.6V304.0M187.6 262.6V304.0M199.2 262.6V304.0M205.1 262.6V304.0M211.0 262.6V304.0M216.8 262.6V304.0M228.5 262.6V304.0M234.3 262.6V304.0M240.2 262.6V304.0M246.1 262.6V304.0M257.8 262.6V304.0M263.6 262.6V304.0M269.4 262.6V304.0M275.3 262.6V304.0M287.0 262.6V304.0M292.9 262.6V304.0M298.7 262.6V304.0M304.6 262.6V304.0M316.2 262.6V304.0M322.1 262.6V304.0M327.9 262.6V304.0M333.8 262.6V304.0M345.5 262.6V304.0" stroke="#f2f2f2" stroke-width="0.4" fill="none"/>
<path d="M47.2 262.6V304.0M76.4 262.6V304.0M105.7 262.6V304.0M134.9 262.6V304.0M164.2 262.6V304.0M193.4 262.6V304.0M222.7 262.6V304.0M251.9 262.6V304.0M281.1 262.6V304.0M310.4 262.6V304.0M339.6 262.6V304.0M39.6 272.0H344.5M39.6 288.0H344.5M39.6 304.0H344.5" stroke="#e4e4e4" stroke-width="0.5" fill="none"/>
<g clip-path="url(#clipC0)">
<path d="M39.6 282.0C41.1 280.2 46.1 273.4 48.0 272.0C49.9 270.6 49.1 269.5 50.0 274.0C50.9 278.5 51.2 293.2 53.0 297.0C54.8 300.8 56.9 298.2 60.0 295.0C63.1 291.8 67.5 282.1 70.0 279.4C72.5 276.7 71.7 278.7 74.0 280.0C76.3 281.3 79.0 288.7 83.0 286.4C87.0 284.1 92.8 266.6 96.0 267.4C99.2 268.2 97.8 289.1 101.0 291.0C104.2 292.9 109.5 278.3 114.0 278.0C118.5 277.7 122.2 288.9 126.0 289.4C129.8 289.9 132.7 281.0 135.0 281.0C137.3 281.0 134.7 291.1 139.0 289.4C143.3 287.7 154.9 274.7 159.0 271.4C163.1 268.1 160.9 268.0 162.0 271.0C163.1 274.0 162.3 286.9 165.0 288.0C167.7 289.1 174.1 277.4 177.0 277.0C179.9 276.6 178.8 286.2 181.0 286.0C183.2 285.8 186.1 275.8 189.0 276.0C191.9 276.2 193.2 286.3 197.0 287.0C200.8 287.7 206.0 282.9 210.0 280.0C214.0 277.1 216.3 271.0 219.0 271.0C221.7 271.0 223.2 278.2 225.0 280.0C226.8 281.8 227.4 281.7 229.0 281.0C230.6 280.3 232.2 275.4 234.0 276.0C235.8 276.6 235.8 284.1 239.0 284.3C242.2 284.5 248.5 277.4 251.7 277.0C254.9 276.6 252.9 282.5 257.0 282.0C261.1 281.5 269.2 274.6 274.7 274.2C280.2 273.8 284.1 278.7 287.3 279.7C290.5 280.7 288.6 282.1 292.5 279.7C296.4 277.3 305.4 265.7 309.2 266.5C313.0 267.3 311.0 280.9 313.4 284.3C315.8 287.7 317.7 287.4 322.8 285.3C327.9 283.2 337.7 274.7 341.6 272.8C345.5 270.9 344.0 274.5 344.5 274.9" stroke="#1a1a1a" stroke-width="1.15" fill="none" stroke-linejoin="round"/>
<path d="M42.0 282.6C43.5 280.6 48.5 273.3 50.4 271.7C52.3 270.1 51.5 269.0 52.4 273.7C53.3 278.4 53.6 293.8 55.4 297.6C57.2 301.4 59.3 298.0 62.4 294.7C65.5 291.4 69.9 281.6 72.4 279.1C74.9 276.6 74.1 279.3 76.4 280.6C78.7 281.9 81.4 288.5 85.4 286.1C89.4 283.7 95.2 266.1 98.4 267.1C101.6 268.1 100.2 289.7 103.4 291.6C106.6 293.5 111.9 278.1 116.4 277.7C120.9 277.2 124.6 288.4 128.4 289.1C132.2 289.8 135.1 281.6 137.4 281.6C139.7 281.6 137.1 291.0 141.4 289.1C145.7 287.2 157.3 274.2 161.4 271.1C165.5 267.9 163.3 268.6 164.4 271.6C165.5 274.6 164.7 286.8 167.4 287.7C170.1 288.6 176.5 276.9 179.4 276.7C182.3 276.5 181.2 286.8 183.4 286.6C185.6 286.4 188.5 275.7 191.4 275.7C194.3 275.7 195.6 285.8 199.4 286.7C203.2 287.6 208.4 283.5 212.4 280.6C216.4 277.7 218.7 270.9 221.4 270.7C224.1 270.5 225.6 277.7 227.4 279.7C229.2 281.7 229.8 282.3 231.4 281.6C233.0 280.9 234.6 275.3 236.4 275.7C238.2 276.1 238.2 283.7 241.4 284.0C244.6 284.3 250.9 278.0 254.1 277.6C257.3 277.2 255.3 282.4 259.4 281.7C263.5 281.0 271.6 274.2 277.1 273.9C282.6 273.6 286.5 279.3 289.7 280.3C292.9 281.3 291.0 281.9 294.9 279.4C298.8 276.9 307.8 265.2 311.6 266.2C315.4 267.2 313.4 281.5 315.8 284.9C318.2 288.3 320.1 287.2 325.2 285.0C330.3 282.8 340.1 274.2 344.0 272.5C347.9 270.8 346.4 275.0 346.9 275.5" stroke="#f42020" stroke-width="1.1" fill="none" stroke-linejoin="round"/>
</g>
<rect x="39.6" y="262.6" width="304.9" height="41.4" fill="none" stroke="#c4c4c4" stroke-width="0.8"/>
<text x="43.0" y="270.2" font-size="8.30" font-weight="bold">C1</text>
<text x="36.4" y="275.0" font-size="8.50" text-anchor="end">−22</text>
<text x="36.4" y="291.0" font-size="8.50" text-anchor="end">−24</text>
<text x="36.4" y="307.0" font-size="8.50" text-anchor="end">−26</text>
<rect x="286.2" y="264.4" width="54.4" height="19.8" fill="none" stroke="#3a3a3a" stroke-width="0.5"/>
<line x1="288.3" y1="270.7" x2="301.5" y2="270.7" stroke="#111" stroke-width="1"/>
<line x1="288.3" y1="279.5" x2="301.5" y2="279.5" stroke="#f01818" stroke-width="1"/>
<text x="302.2" y="273.4" font-size="8.10">15-11-1999</text>
<text x="302.2" y="282.2" font-size="8.10">08-03-2012</text>
<text transform="translate(15.2,283.3) rotate(-90)" font-size="9.70" text-anchor="middle"><tspan font-style="italic">z</tspan><tspan font-size="6.5" dy="1.8" font-style="italic">b</tspan><tspan dy="-1.8">  [m]</tspan></text>
<path d="M41.3 320.4V361.6M53.0 320.4V361.6M58.9 320.4V361.6M64.7 320.4V361.6M70.5 320.4V361.6M82.3 320.4V361.6M88.1 320.4V361.6M94.0 320.4V361.6M99.8 320.4V361.6M111.5 320.4V361.6M117.4 320.4V361.6M123.2 320.4V361.6M129.1 320.4V361.6M140.8 320.4V361.6M146.6 320.4V361.6M152.5 320.4V361.6M158.3 320.4V361.6M170.0 320.4V361.6M175.8 320.4V361.6M181.7 320.4V361.6M187.6 320.4V361.6M199.2 320.4V361.6M205.1 320.4V361.6M211.0 320.4V361.6M216.8 320.4V361.6M228.5 320.4V361.6M234.3 320.4V361.6M240.2 320.4V361.6M246.1 320.4V361.6M257.8 320.4V361.6M263.6 320.4V361.6M269.4 320.4V361.6M275.3 320.4V361.6M287.0 320.4V361.6M292.9 320.4V361.6M298.7 320.4V361.6M304.6 320.4V361.6M316.2 320.4V361.6M322.1 320.4V361.6M327.9 320.4V361.6M333.8 320.4V361.6M345.5 320.4V361.6" stroke="#f2f2f2" stroke-width="0.4" fill="none"/>
<path d="M47.2 320.4V361.6M76.4 320.4V361.6M105.7 320.4V361.6M134.9 320.4V361.6M164.2 320.4V361.6M193.4 320.4V361.6M222.7 320.4V361.6M251.9 320.4V361.6M281.1 320.4V361.6M310.4 320.4V361.6M339.6 320.4V361.6M39.6 330.4H344.5M39.6 343.4H344.5M39.6 356.2H344.5" stroke="#e4e4e4" stroke-width="0.5" fill="none"/>
<g clip-path="url(#clipC1)">
<path d="M39.6 347.0C40.8 345.4 44.5 339.3 46.0 338.0C47.5 336.7 47.1 337.8 48.0 340.0C48.9 342.2 49.0 349.9 51.0 350.0C53.0 350.1 56.7 339.7 59.0 340.4C61.3 341.1 60.6 354.6 64.0 354.0C67.4 353.4 74.6 336.5 78.0 337.0C81.4 337.5 78.3 357.9 83.0 357.0C87.7 356.1 99.9 337.9 104.0 332.0C108.1 326.1 104.5 321.2 105.6 324.4C106.7 327.6 107.9 346.3 110.0 350.0C112.1 353.7 114.8 344.2 117.0 345.0C119.2 345.8 120.0 354.6 122.0 354.4C124.0 354.2 124.9 348.8 128.0 344.0C131.1 339.2 136.7 330.7 139.0 328.0C141.3 325.3 139.6 324.1 141.0 329.0C142.4 333.9 141.6 355.4 147.0 355.0C152.4 354.6 165.8 327.4 171.0 327.0C176.2 326.6 171.5 352.8 176.0 353.0C180.5 353.2 191.5 328.4 196.0 328.0C200.5 327.6 197.4 349.5 201.0 351.0C204.6 352.5 212.8 337.1 216.0 336.4C219.2 335.7 217.7 346.1 219.0 347.0C220.3 347.9 221.4 341.2 223.0 341.6C224.6 342.0 225.1 350.9 228.0 349.0C230.9 347.1 236.8 334.3 239.0 331.0C241.2 327.7 239.2 328.6 240.2 330.8C241.2 333.0 243.1 341.7 244.4 343.4C245.7 345.1 246.0 337.6 247.5 340.2C249.0 342.8 250.2 356.4 252.8 357.6C255.4 358.8 259.8 347.1 262.2 347.0C264.6 346.9 263.2 359.8 266.0 357.0C268.8 354.2 274.8 330.8 277.9 331.2C281.0 331.6 279.6 357.2 283.0 359.0C286.4 360.8 293.1 341.8 296.7 341.3C300.3 340.8 298.7 358.4 303.0 356.0C307.3 353.6 316.4 328.9 320.7 327.7C325.0 326.5 324.9 345.1 327.0 349.6C329.1 354.1 330.3 353.2 332.2 352.8C334.1 352.4 335.5 345.8 337.4 347.5C339.3 349.2 341.7 359.4 342.7 362.0" stroke="#1a1a1a" stroke-width="1.15" fill="none" stroke-linejoin="round"/>
<path d="M41.4 347.6C42.6 345.8 46.3 339.1 47.8 337.7C49.3 336.3 48.9 337.4 49.8 339.7C50.7 342.0 50.8 350.5 52.8 350.6C54.8 350.7 58.5 339.5 60.8 340.1C63.1 340.7 62.4 354.1 65.8 353.7C69.2 353.2 76.4 337.1 79.8 337.6C83.2 338.1 80.1 357.8 84.8 356.7C89.5 355.6 101.7 337.4 105.8 331.7C109.9 326.0 106.3 321.8 107.4 325.0C108.5 328.2 109.7 346.2 111.8 349.7C113.9 353.2 116.6 343.7 118.8 344.7C121.0 345.7 121.8 355.2 123.8 355.0C125.8 354.8 126.7 348.6 129.8 343.7C132.9 338.8 138.5 330.2 140.8 327.7C143.1 325.2 141.4 324.7 142.8 329.6C144.2 334.5 143.4 355.2 148.8 354.7C154.2 354.2 167.6 326.9 172.8 326.7C178.0 326.5 173.3 353.4 177.8 353.6C182.3 353.8 193.3 328.2 197.8 327.7C202.3 327.2 199.2 349.0 202.8 350.7C206.4 352.4 214.6 337.7 217.8 337.0C221.0 336.3 219.5 345.9 220.8 346.7C222.1 347.5 223.2 340.8 224.8 341.3C226.4 341.8 226.9 351.5 229.8 349.6C232.7 347.7 238.6 334.1 240.8 330.7C243.0 327.3 241.0 328.1 242.0 330.5C243.0 332.9 244.9 342.3 246.2 344.0C247.5 345.7 247.8 337.5 249.3 339.9C250.8 342.3 252.0 355.9 254.6 357.3C257.2 358.7 261.6 347.7 264.0 347.6C266.4 347.5 265.0 359.7 267.8 356.7C270.6 353.7 276.6 330.4 279.7 330.9C282.8 331.4 281.4 357.8 284.8 359.6C288.2 361.4 294.9 341.7 298.5 341.0C302.1 340.3 300.5 358.0 304.8 355.7C309.1 353.4 318.2 329.5 322.5 328.3C326.8 327.1 326.7 344.9 328.8 349.3C330.9 353.7 332.1 352.7 334.0 352.5C335.9 352.3 337.3 346.4 339.2 348.1C341.1 349.8 343.5 359.3 344.5 361.7" stroke="#f42020" stroke-width="1.1" fill="none" stroke-linejoin="round"/>
</g>
<rect x="39.6" y="320.4" width="304.9" height="41.2" fill="none" stroke="#c4c4c4" stroke-width="0.8"/>
<text x="43.0" y="328.0" font-size="8.30" font-weight="bold">C2</text>
<text x="36.4" y="333.4" font-size="8.50" text-anchor="end">−24</text>
<text x="36.4" y="346.4" font-size="8.50" text-anchor="end">−26</text>
<text x="36.4" y="359.2" font-size="8.50" text-anchor="end">−28</text>
<rect x="286.2" y="323.5" width="54.4" height="19.8" fill="none" stroke="#3a3a3a" stroke-width="0.5"/>
<line x1="288.3" y1="329.8" x2="301.5" y2="329.8" stroke="#111" stroke-width="1"/>
<line x1="288.3" y1="338.6" x2="301.5" y2="338.6" stroke="#f01818" stroke-width="1"/>
<text x="302.2" y="332.5" font-size="8.10">15-11-1999</text>
<text x="302.2" y="341.3" font-size="8.10">29-02-2012</text>
<text transform="translate(15.2,341.0) rotate(-90)" font-size="9.70" text-anchor="middle"><tspan font-style="italic">z</tspan><tspan font-size="6.5" dy="1.8" font-style="italic">b</tspan><tspan dy="-1.8">  [m]</tspan></text>
<path d="M41.3 378.4V420.2M53.0 378.4V420.2M58.9 378.4V420.2M64.7 378.4V420.2M70.5 378.4V420.2M82.3 378.4V420.2M88.1 378.4V420.2M94.0 378.4V420.2M99.8 378.4V420.2M111.5 378.4V420.2M117.4 378.4V420.2M123.2 378.4V420.2M129.1 378.4V420.2M140.8 378.4V420.2M146.6 378.4V420.2M152.5 378.4V420.2M158.3 378.4V420.2M170.0 378.4V420.2M175.8 378.4V420.2M181.7 378.4V420.2M187.6 378.4V420.2M199.2 378.4V420.2M205.1 378.4V420.2M211.0 378.4V420.2M216.8 378.4V420.2M228.5 378.4V420.2M234.3 378.4V420.2M240.2 378.4V420.2M246.1 378.4V420.2M257.8 378.4V420.2M263.6 378.4V420.2M269.4 378.4V420.2M275.3 378.4V420.2M287.0 378.4V420.2M292.9 378.4V420.2M298.7 378.4V420.2M304.6 378.4V420.2M316.2 378.4V420.2M322.1 378.4V420.2M327.9 378.4V420.2M333.8 378.4V420.2M345.5 378.4V420.2" stroke="#f2f2f2" stroke-width="0.4" fill="none"/>
<path d="M47.2 378.4V420.2M76.4 378.4V420.2M105.7 378.4V420.2M134.9 378.4V420.2M164.2 378.4V420.2M193.4 378.4V420.2M222.7 378.4V420.2M251.9 378.4V420.2M281.1 378.4V420.2M310.4 378.4V420.2M339.6 378.4V420.2M39.6 387.6H344.5M39.6 409.6H344.5" stroke="#e4e4e4" stroke-width="0.5" fill="none"/>
<g clip-path="url(#clipC2)">
<path d="M39.6 398.4C42.6 396.3 52.5 388.7 56.0 387.0C59.5 385.3 57.7 385.0 59.0 389.0C60.3 393.0 61.7 404.7 63.0 409.0C64.3 413.3 63.7 413.4 66.0 413.0C68.3 412.6 71.3 409.7 76.0 407.0C80.7 404.3 88.4 399.4 92.0 398.0C95.6 396.6 93.7 398.0 96.0 399.0C98.3 400.0 100.7 403.1 105.0 403.6C109.3 404.1 115.5 403.0 120.0 402.0C124.5 401.0 126.6 400.2 130.0 398.0C133.4 395.8 136.7 391.3 139.0 389.6C141.3 387.9 141.9 388.3 143.0 388.4C144.1 388.5 143.6 386.7 145.0 390.0C146.4 393.3 146.5 405.0 151.0 407.0C155.5 409.0 164.4 403.0 170.0 401.0C175.6 399.0 178.0 398.0 182.0 396.0C186.0 394.0 188.8 388.2 192.0 390.0C195.2 391.8 196.0 404.9 200.0 406.0C204.0 407.1 209.7 395.5 214.0 396.0C218.3 396.5 220.8 407.4 224.0 409.0C227.2 410.6 229.3 406.8 232.0 405.0C234.7 403.2 236.2 401.5 239.0 399.0C241.8 396.5 245.5 392.1 247.5 391.0C249.5 389.9 248.7 389.8 250.0 393.0C251.3 396.2 251.9 406.8 254.9 408.7C257.9 410.6 261.9 406.0 266.4 403.5C270.9 401.0 275.7 398.2 280.0 395.0C284.3 391.8 287.4 383.4 290.4 385.7C293.4 388.0 292.7 405.2 296.7 407.6C300.7 410.0 307.3 402.1 312.4 399.3C317.5 396.5 321.3 390.1 324.9 392.0C328.5 393.9 328.7 408.2 332.2 409.7C335.7 411.2 342.3 402.2 344.5 400.5" stroke="#1a1a1a" stroke-width="1.15" fill="none" stroke-linejoin="round"/>
<path d="M40.5 399.0C43.5 396.8 53.4 388.6 56.9 386.7C60.4 384.8 58.6 384.6 59.9 388.7C61.2 392.8 62.6 405.3 63.9 409.6C65.2 413.9 64.6 413.2 66.9 412.7C69.2 412.2 72.2 409.2 76.9 406.7C81.6 404.2 89.3 400.0 92.9 398.6C96.5 397.2 94.6 397.9 96.9 398.7C99.2 399.5 101.6 402.6 105.9 403.3C110.2 404.0 116.4 403.6 120.9 402.6C125.4 401.6 127.5 400.1 130.9 397.7C134.3 395.3 137.6 390.9 139.9 389.3C142.2 387.7 142.8 388.9 143.9 389.0C145.0 389.1 144.5 386.5 145.9 389.7C147.3 392.9 147.4 404.6 151.9 406.7C156.4 408.8 165.3 403.6 170.9 401.6C176.5 399.6 178.9 397.8 182.9 395.7C186.9 393.6 189.7 387.7 192.9 389.7C196.1 391.7 196.9 405.5 200.9 406.6C204.9 407.7 210.6 395.3 214.9 395.7C219.2 396.1 221.7 406.9 224.9 408.7C228.1 410.5 230.2 407.4 232.9 405.6C235.6 403.8 237.1 401.4 239.9 398.7C242.7 396.0 246.4 391.6 248.4 390.7C250.4 389.8 249.6 390.4 250.9 393.6C252.2 396.8 252.8 406.7 255.8 408.4C258.8 410.1 262.8 405.5 267.3 403.2C271.8 400.9 276.6 398.8 280.9 395.6C285.2 392.4 288.3 383.3 291.3 385.4C294.3 387.5 293.6 404.7 297.6 407.3C301.6 409.9 308.2 402.7 313.3 399.9C318.4 397.1 322.2 390.0 325.8 391.7C329.4 393.4 329.6 407.7 333.1 409.4C336.6 411.1 343.2 402.6 345.4 401.1" stroke="#f42020" stroke-width="1.1" fill="none" stroke-linejoin="round"/>
</g>
<rect x="39.6" y="378.4" width="304.9" height="41.8" fill="none" stroke="#c4c4c4" stroke-width="0.8"/>
<text x="43.0" y="386.0" font-size="8.30" font-weight="bold">C3</text>
<text x="36.4" y="390.6" font-size="8.50" text-anchor="end">−20</text>
<text x="36.4" y="412.6" font-size="8.50" text-anchor="end">−22</text>
<rect x="286.2" y="380.5" width="54.4" height="19.8" fill="none" stroke="#3a3a3a" stroke-width="0.5"/>
<line x1="288.3" y1="386.8" x2="301.5" y2="386.8" stroke="#111" stroke-width="1"/>
<line x1="288.3" y1="395.6" x2="301.5" y2="395.6" stroke="#f01818" stroke-width="1"/>
<text x="302.2" y="389.5" font-size="8.10">15-11-2001</text>
<text x="302.2" y="398.3" font-size="8.10">22-07-2011</text>
<text transform="translate(15.2,399.3) rotate(-90)" font-size="9.70" text-anchor="middle"><tspan font-style="italic">z</tspan><tspan font-size="6.5" dy="1.8" font-style="italic">b</tspan><tspan dy="-1.8">  [m]</tspan></text>
<path d="M41.3 437.0V478.4M53.0 437.0V478.4M58.9 437.0V478.4M64.7 437.0V478.4M70.5 437.0V478.4M82.3 437.0V478.4M88.1 437.0V478.4M94.0 437.0V478.4M99.8 437.0V478.4M111.5 437.0V478.4M117.4 437.0V478.4M123.2 437.0V478.4M129.1 437.0V478.4M140.8 437.0V478.4M146.6 437.0V478.4M152.5 437.0V478.4M158.3 437.0V478.4M170.0 437.0V478.4M175.8 437.0V478.4M181.7 437.0V478.4M187.6 437.0V478.4M199.2 437.0V478.4M205.1 437.0V478.4M211.0 437.0V478.4M216.8 437.0V478.4M228.5 437.0V478.4M234.3 437.0V478.4M240.2 437.0V478.4M246.1 437.0V478.4M257.8 437.0V478.4M263.6 437.0V478.4M269.4 437.0V478.4M275.3 437.0V478.4M287.0 437.0V478.4M292.9 437.0V478.4M298.7 437.0V478.4M304.6 437.0V478.4M316.2 437.0V478.4M322.1 437.0V478.4M327.9 437.0V478.4M333.8 437.0V478.4M345.5 437.0V478.4" stroke="#f2f2f2" stroke-width="0.4" fill="none"/>
<path d="M47.2 437.0V478.4M76.4 437.0V478.4M105.7 437.0V478.4M134.9 437.0V478.4M164.2 437.0V478.4M193.4 437.0V478.4M222.7 437.0V478.4M251.9 437.0V478.4M281.1 437.0V478.4M310.4 437.0V478.4M339.6 437.0V478.4M39.6 447.4H344.5M39.6 457.8H344.5M39.6 468.0H344.5M39.6 478.4H344.5" stroke="#e4e4e4" stroke-width="0.5" fill="none"/>
<g clip-path="url(#clipC3)">
<path d="M39.6 461.0C40.2 459.2 42.0 451.9 43.0 451.0C44.0 450.1 44.3 453.1 45.0 456.0C45.7 458.9 45.7 465.7 47.0 467.0C48.3 468.3 50.7 464.3 52.0 463.0C53.3 461.7 53.1 459.1 54.0 460.0C54.9 460.9 55.6 467.3 57.0 468.0C58.4 468.7 60.2 467.4 62.0 464.0C63.8 460.6 65.6 449.7 67.0 449.0C68.4 448.3 68.9 456.8 70.0 460.0C71.1 463.2 71.4 467.0 73.0 467.0C74.6 467.0 77.1 464.5 79.0 460.0C80.9 455.5 82.2 442.7 83.6 442.0C85.0 441.3 85.5 451.3 87.0 456.0C88.5 460.7 89.8 466.9 92.0 468.0C94.2 469.1 96.8 465.6 99.0 462.0C101.2 458.4 102.4 448.4 104.0 448.0C105.6 447.6 106.4 456.9 108.0 460.0C109.6 463.1 111.2 465.4 113.0 465.0C114.8 464.6 115.8 461.9 118.0 458.0C120.2 454.1 123.0 443.2 125.0 443.6C127.0 444.0 127.7 455.4 129.0 460.0C130.3 464.6 130.2 468.3 132.0 469.0C133.8 469.7 136.5 467.6 139.0 464.0C141.5 460.4 144.0 449.4 146.0 449.0C148.0 448.6 148.7 458.8 150.0 462.0C151.3 465.2 151.2 467.7 153.0 467.0C154.8 466.3 157.7 462.2 160.0 458.0C162.3 453.8 164.2 443.2 166.0 443.6C167.8 444.0 168.7 456.3 170.0 460.0C171.3 463.7 171.6 466.0 173.0 464.0C174.4 462.0 176.6 449.4 178.0 449.0C179.4 448.6 179.7 458.2 181.0 462.0C182.3 465.8 183.4 470.0 185.0 470.0C186.6 470.0 188.2 466.0 190.0 462.0C191.8 458.0 193.6 449.3 195.0 448.0C196.4 446.7 197.3 450.7 198.0 455.0C198.7 459.3 197.7 469.7 199.0 472.0C200.3 474.3 203.2 469.1 205.0 468.0C206.8 466.9 207.7 465.8 209.0 466.0C210.3 466.2 210.6 469.7 212.0 469.0C213.4 468.3 214.8 465.8 217.0 462.0C219.2 458.2 222.0 446.9 224.0 448.0C226.0 449.1 226.4 464.9 228.0 468.0C229.6 471.1 231.2 466.8 233.0 465.0C234.8 463.2 236.3 456.7 238.0 458.0C239.7 459.3 240.1 471.3 242.3 472.0C244.5 472.7 247.6 466.3 250.0 462.0C252.4 457.7 254.3 448.6 255.9 447.9C257.5 447.2 257.9 454.2 259.0 458.0C260.1 461.8 261.1 468.5 262.2 468.8C263.3 469.1 264.3 459.7 265.3 459.4C266.3 459.1 266.7 464.9 268.0 467.0C269.3 469.1 271.2 471.3 272.6 470.9C274.0 470.5 274.7 467.6 276.0 465.0C277.3 462.4 278.4 455.7 280.0 456.2C281.6 456.7 283.4 466.1 285.0 467.7C286.6 469.3 287.3 467.6 289.0 465.0C290.7 462.4 293.0 453.5 294.6 453.0C296.2 452.5 296.7 461.2 298.0 462.0C299.3 462.8 300.6 456.6 301.9 457.3C303.2 458.0 303.5 465.9 305.0 466.0C306.5 466.1 308.1 461.1 310.0 458.0C311.9 454.9 314.0 446.4 315.5 448.9C317.0 451.4 317.1 470.2 318.6 471.9C320.1 473.6 322.2 458.1 323.9 458.3C325.6 458.5 326.0 471.3 328.0 473.0C330.0 474.7 332.0 472.1 335.0 468.0C338.0 463.9 342.8 453.2 344.5 450.0" stroke="#1a1a1a" stroke-width="1.15" fill="none" stroke-linejoin="round"/>
<path d="M41.5 461.6C42.1 459.6 43.9 451.8 44.9 450.7C45.9 449.6 46.2 452.7 46.9 455.7C47.6 458.7 47.6 466.3 48.9 467.6C50.2 468.9 52.6 464.1 53.9 462.7C55.2 461.3 55.0 458.6 55.9 459.7C56.8 460.8 57.5 467.9 58.9 468.6C60.3 469.3 62.1 467.3 63.9 463.7C65.7 460.1 67.5 449.3 68.9 448.7C70.3 448.1 70.8 457.4 71.9 460.6C73.0 463.8 73.3 466.9 74.9 466.7C76.5 466.5 79.0 464.0 80.9 459.7C82.8 455.4 84.1 443.3 85.5 442.6C86.9 441.9 87.4 451.2 88.9 455.7C90.4 460.2 91.7 466.5 93.9 467.7C96.1 468.9 98.7 466.2 100.9 462.6C103.1 459.0 104.3 448.2 105.9 447.7C107.5 447.2 108.3 456.5 109.9 459.7C111.5 462.9 113.1 466.0 114.9 465.6C116.7 465.2 117.7 461.7 119.9 457.7C122.1 453.7 124.9 442.8 126.9 443.3C128.9 443.8 129.6 456.0 130.9 460.6C132.2 465.2 132.1 468.1 133.9 468.7C135.7 469.3 138.4 467.1 140.9 463.7C143.4 460.3 145.9 450.0 147.9 449.6C149.9 449.2 150.6 458.6 151.9 461.7C153.2 464.8 153.1 467.3 154.9 466.7C156.7 466.1 159.6 462.8 161.9 458.6C164.2 454.4 166.1 443.1 167.9 443.3C169.7 443.5 170.6 455.9 171.9 459.7C173.2 463.5 173.5 466.6 174.9 464.6C176.3 462.6 178.5 449.2 179.9 448.7C181.3 448.2 181.6 457.8 182.9 461.7C184.2 465.6 185.3 470.6 186.9 470.6C188.5 470.6 190.1 465.8 191.9 461.7C193.7 457.6 195.5 448.8 196.9 447.7C198.3 446.6 199.2 451.3 199.9 455.6C200.6 459.9 199.6 469.5 200.9 471.7C202.2 473.9 205.1 468.6 206.9 467.7C208.7 466.8 209.6 466.4 210.9 466.6C212.2 466.8 212.5 469.6 213.9 468.7C215.3 467.8 216.7 465.3 218.9 461.7C221.1 458.1 223.9 447.5 225.9 448.6C227.9 449.7 228.3 464.8 229.9 467.7C231.5 470.6 233.1 466.3 234.9 464.7C236.7 463.1 238.2 457.3 239.9 458.6C241.6 459.9 242.0 471.1 244.2 471.7C246.4 472.3 249.5 465.9 251.9 461.7C254.3 457.5 256.2 449.2 257.8 448.5C259.4 447.8 259.8 454.1 260.9 457.7C262.0 461.3 263.0 468.1 264.1 468.5C265.2 468.9 266.2 460.3 267.2 460.0C268.2 459.7 268.6 464.8 269.9 466.7C271.2 468.6 273.1 470.8 274.5 470.6C275.9 470.4 276.6 468.2 277.9 465.6C279.2 463.0 280.3 455.6 281.9 455.9C283.5 456.2 285.3 465.7 286.9 467.4C288.5 469.1 289.2 468.2 290.9 465.6C292.6 463.0 294.9 453.4 296.5 452.7C298.1 452.0 298.6 460.8 299.9 461.7C301.2 462.6 302.5 457.2 303.8 457.9C305.1 458.6 305.4 465.7 306.9 465.7C308.4 465.7 310.0 460.6 311.9 457.7C313.8 454.8 315.9 447.0 317.4 449.5C318.9 452.0 319.0 470.1 320.5 471.6C322.0 473.1 324.1 457.6 325.8 458.0C327.5 458.4 327.9 471.9 329.9 473.6C331.9 475.3 333.9 472.0 336.9 467.7C339.9 463.4 344.7 452.9 346.4 449.7" stroke="#f42020" stroke-width="1.1" fill="none" stroke-linejoin="round"/>
</g>
<rect x="39.6" y="437.0" width="304.9" height="41.4" fill="none" stroke="#c4c4c4" stroke-width="0.8"/>
<text x="43.0" y="444.6" font-size="8.30" font-weight="bold">C4</text>
<text x="36.4" y="450.4" font-size="8.50" text-anchor="end">−28</text>
<text x="36.4" y="460.8" font-size="8.50" text-anchor="end">−30</text>
<text x="36.4" y="471.0" font-size="8.50" text-anchor="end">−32</text>
<text x="36.4" y="481.4" font-size="8.50" text-anchor="end">−34</text>
<rect x="286.2" y="438.5" width="54.4" height="19.8" fill="none" stroke="#3a3a3a" stroke-width="0.5"/>
<line x1="288.3" y1="444.8" x2="301.5" y2="444.8" stroke="#111" stroke-width="1"/>
<line x1="288.3" y1="453.6" x2="301.5" y2="453.6" stroke="#f01818" stroke-width="1"/>
<text x="302.2" y="447.5" font-size="8.10">16-05-1994</text>
<text x="302.2" y="456.3" font-size="8.10">10-10-2016</text>
<text transform="translate(15.2,457.7) rotate(-90)" font-size="9.70" text-anchor="middle"><tspan font-style="italic">z</tspan><tspan font-size="6.5" dy="1.8" font-style="italic">b</tspan><tspan dy="-1.8">  [m]</tspan></text>
<text x="47.2" y="490.0" font-size="8.50" text-anchor="middle">−2.5</text>
<text x="76.4" y="490.0" font-size="8.50" text-anchor="middle">−2</text>
<text x="105.7" y="490.0" font-size="8.50" text-anchor="middle">−1.5</text>
<text x="134.9" y="490.0" font-size="8.50" text-anchor="middle">−1</text>
<text x="164.2" y="490.0" font-size="8.50" text-anchor="middle">−0.5</text>
<text x="193.4" y="490.0" font-size="8.50" text-anchor="middle">0</text>
<text x="222.7" y="490.0" font-size="8.50" text-anchor="middle">0.5</text>
<text x="251.9" y="490.0" font-size="8.50" text-anchor="middle">1</text>
<text x="281.1" y="490.0" font-size="8.50" text-anchor="middle">1.5</text>
<text x="310.4" y="490.0" font-size="8.50" text-anchor="middle">2</text>
<text x="339.6" y="490.0" font-size="8.50" text-anchor="middle">2.5</text>
<text x="180" y="500.8" font-size="9.70"><tspan font-style="italic">x</tspan><tspan dx="4.5">[km]</tspan></text>
<circle cx="162" cy="271" r="0.9" fill="#111"/><circle cx="159.5" cy="271.5" r="0.9" fill="#111"/>
<text x="163.2" y="271.8" font-size="8.8" font-style="italic">c<tspan font-size="7.2" dy="2.8">crest</tspan></text>
<line x1="171.6" y1="327.6" x2="198" y2="327.8" stroke="#111" stroke-width="0.7" stroke-dasharray="2 1.5"/>
<path d="M171.6 326.3 L171.6 329 M198 326.5 L198 329.2" stroke="#111" stroke-width="0.8"/>
<text x="181" y="332.5" font-size="7.5" font-style="italic">λ</text>
<line x1="198" y1="445.6" x2="199" y2="472.4" stroke="#111" stroke-width="0.7" stroke-dasharray="2 1.5"/>
<path d="M196.6 445.6 H199.6 M197.6 472.4 H200.6" stroke="#111" stroke-width="0.9"/>
<text x="201.5" y="461" font-size="7.5" font-style="italic">h</text>
</svg>
</body></html>
